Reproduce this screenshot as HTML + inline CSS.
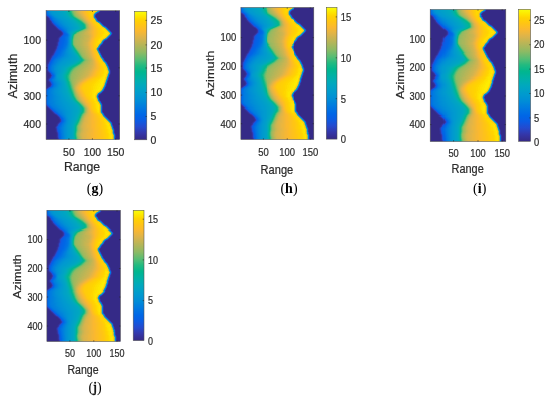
<!DOCTYPE html>
<html><head><meta charset="utf-8"><title>Figure</title>
<style>
html,body{margin:0;padding:0;background:#fff;width:550px;height:400px;overflow:hidden}
svg{display:block}
.t{font-family:"Liberation Sans",Arial,sans-serif;font-size:10.5px;fill:#262626;stroke:#3a3a3a;stroke-width:0.22px}
.l{font-family:"Liberation Sans",Arial,sans-serif;font-size:12.3px;fill:#262626;stroke:#3a3a3a;stroke-width:0.22px}
.c{font-family:"Liberation Serif","Times New Roman",serif;font-size:14.0px;fill:#000}
.b{font-weight:bold}
</style></head><body>
<svg width="550" height="400" viewBox="0 0 550 400">
<defs><filter id="bl" x="-5%" y="-5%" width="110%" height="110%" color-interpolation-filters="sRGB"><feGaussianBlur stdDeviation="0.45"/></filter><linearGradient id="pg" x1="0" y1="0" x2="0" y2="1"><stop offset="0.0039" stop-color="#f8fa0a"/><stop offset="0.0117" stop-color="#faf507"/><stop offset="0.0195" stop-color="#fbf105"/><stop offset="0.0273" stop-color="#fdec02"/><stop offset="0.0352" stop-color="#fee700"/><stop offset="0.0430" stop-color="#fee200"/><stop offset="0.0508" stop-color="#ffdd00"/><stop offset="0.0586" stop-color="#ffd700"/><stop offset="0.0664" stop-color="#ffd301"/><stop offset="0.0742" stop-color="#ffd005"/><stop offset="0.0820" stop-color="#ffcd08"/><stop offset="0.0898" stop-color="#ffcb0c"/><stop offset="0.0977" stop-color="#ffc810"/><stop offset="0.1055" stop-color="#ffc513"/><stop offset="0.1133" stop-color="#fec318"/><stop offset="0.1211" stop-color="#fdc11d"/><stop offset="0.1289" stop-color="#fcbf22"/><stop offset="0.1367" stop-color="#fcbd26"/><stop offset="0.1445" stop-color="#fbba2b"/><stop offset="0.1523" stop-color="#fab830"/><stop offset="0.1602" stop-color="#f6b734"/><stop offset="0.1680" stop-color="#f1b738"/><stop offset="0.1758" stop-color="#edb63c"/><stop offset="0.1836" stop-color="#e9b640"/><stop offset="0.1914" stop-color="#e4b544"/><stop offset="0.1992" stop-color="#e0b448"/><stop offset="0.2070" stop-color="#dbb44b"/><stop offset="0.2148" stop-color="#d6b44d"/><stop offset="0.2227" stop-color="#d0b44f"/><stop offset="0.2305" stop-color="#cbb451"/><stop offset="0.2383" stop-color="#c6b552"/><stop offset="0.2461" stop-color="#c1b554"/><stop offset="0.2539" stop-color="#bbb556"/><stop offset="0.2617" stop-color="#b6b558"/><stop offset="0.2695" stop-color="#b1b65a"/><stop offset="0.2773" stop-color="#abb65b"/><stop offset="0.2852" stop-color="#a6b75d"/><stop offset="0.2930" stop-color="#a0b85e"/><stop offset="0.3008" stop-color="#9bb860"/><stop offset="0.3086" stop-color="#95b961"/><stop offset="0.3164" stop-color="#90ba63"/><stop offset="0.3242" stop-color="#89ba65"/><stop offset="0.3320" stop-color="#81bb67"/><stop offset="0.3398" stop-color="#79bb6a"/><stop offset="0.3477" stop-color="#72bb6c"/><stop offset="0.3555" stop-color="#6abc6e"/><stop offset="0.3633" stop-color="#62bc71"/><stop offset="0.3711" stop-color="#5abd73"/><stop offset="0.3789" stop-color="#52bd75"/><stop offset="0.3867" stop-color="#49bd77"/><stop offset="0.3945" stop-color="#41bc79"/><stop offset="0.4023" stop-color="#38bb7b"/><stop offset="0.4102" stop-color="#2fbb7d"/><stop offset="0.4180" stop-color="#26ba7f"/><stop offset="0.4258" stop-color="#1fba81"/><stop offset="0.4336" stop-color="#1ab984"/><stop offset="0.4414" stop-color="#14b886"/><stop offset="0.4492" stop-color="#0fb888"/><stop offset="0.4570" stop-color="#09b78a"/><stop offset="0.4648" stop-color="#04b68c"/><stop offset="0.4727" stop-color="#00b68f"/><stop offset="0.4805" stop-color="#00b593"/><stop offset="0.4883" stop-color="#00b496"/><stop offset="0.4961" stop-color="#00b39a"/><stop offset="0.5039" stop-color="#00b39e"/><stop offset="0.5117" stop-color="#00b2a2"/><stop offset="0.5195" stop-color="#00b1a5"/><stop offset="0.5273" stop-color="#00b0a9"/><stop offset="0.5352" stop-color="#00afac"/><stop offset="0.5430" stop-color="#00aeaf"/><stop offset="0.5508" stop-color="#00adb2"/><stop offset="0.5586" stop-color="#00abb6"/><stop offset="0.5664" stop-color="#00aab9"/><stop offset="0.5742" stop-color="#00a9bc"/><stop offset="0.5820" stop-color="#00a7bf"/><stop offset="0.5898" stop-color="#00a6c1"/><stop offset="0.5977" stop-color="#00a4c3"/><stop offset="0.6055" stop-color="#00a2c5"/><stop offset="0.6133" stop-color="#00a1c7"/><stop offset="0.6211" stop-color="#009fc9"/><stop offset="0.6289" stop-color="#009dcb"/><stop offset="0.6367" stop-color="#009bcd"/><stop offset="0.6445" stop-color="#009acf"/><stop offset="0.6523" stop-color="#0098d0"/><stop offset="0.6602" stop-color="#0096d1"/><stop offset="0.6680" stop-color="#0094d2"/><stop offset="0.6758" stop-color="#0092d4"/><stop offset="0.6836" stop-color="#0090d5"/><stop offset="0.6914" stop-color="#008ed6"/><stop offset="0.6992" stop-color="#008cd7"/><stop offset="0.7070" stop-color="#0089d9"/><stop offset="0.7148" stop-color="#0086da"/><stop offset="0.7227" stop-color="#0083db"/><stop offset="0.7305" stop-color="#0080dd"/><stop offset="0.7383" stop-color="#007ede"/><stop offset="0.7461" stop-color="#007be0"/><stop offset="0.7539" stop-color="#0078e1"/><stop offset="0.7617" stop-color="#0075e1"/><stop offset="0.7695" stop-color="#0073e2"/><stop offset="0.7773" stop-color="#0070e3"/><stop offset="0.7852" stop-color="#006ee4"/><stop offset="0.7930" stop-color="#006be5"/><stop offset="0.8008" stop-color="#0068e5"/><stop offset="0.8086" stop-color="#0066e6"/><stop offset="0.8164" stop-color="#0264e6"/><stop offset="0.8242" stop-color="#0462e5"/><stop offset="0.8320" stop-color="#0660e5"/><stop offset="0.8398" stop-color="#085ee4"/><stop offset="0.8477" stop-color="#0a5ce4"/><stop offset="0.8555" stop-color="#0e59e1"/><stop offset="0.8633" stop-color="#1257de"/><stop offset="0.8711" stop-color="#1654da"/><stop offset="0.8789" stop-color="#1a51d7"/><stop offset="0.8867" stop-color="#1e4ed4"/><stop offset="0.8945" stop-color="#224cd1"/><stop offset="0.9023" stop-color="#2549cc"/><stop offset="0.9102" stop-color="#2846c6"/><stop offset="0.9180" stop-color="#2a42c0"/><stop offset="0.9258" stop-color="#2d3fba"/><stop offset="0.9336" stop-color="#303cb4"/><stop offset="0.9414" stop-color="#3239ae"/><stop offset="0.9492" stop-color="#3436a8"/><stop offset="0.9570" stop-color="#3434a3"/><stop offset="0.9648" stop-color="#34329d"/><stop offset="0.9727" stop-color="#353098"/><stop offset="0.9805" stop-color="#352e92"/><stop offset="0.9883" stop-color="#352c8d"/><stop offset="0.9961" stop-color="#352a87"/></linearGradient><g id="hm" shape-rendering="crispEdges"><path fill="#352a87" d="M55 -2h21v1.4h-21zM55 -1h21v1.4h-21zM55 0h21v1.4h-21zM54 1h22v1.4h-22zM53 2h23v1.4h-23zM51 3h25v1.4h-25zM50 4h26v1.4h-26zM-2 5h1.4v1.4h-1.4zM50 5h26v1.4h-26zM-2 6h3.4v1.4h-3.4zM51 6h25v1.4h-25zM-2 7h4.4v1.4h-4.4zM52 7h24v1.4h-24zM-2 8h4.4v1.4h-4.4zM52 8h24v1.4h-24zM-2 9h5.4v1.4h-5.4zM54 9h22v1.4h-22zM-2 10h6.4v1.4h-6.4zM55 10h21v1.4h-21zM-2 11h6.4v1.4h-6.4zM56 11h20v1.4h-20zM-2 12h7.4v1.4h-7.4zM57 12h19v1.4h-19zM-2 13h8.4v1.4h-8.4zM58 13h18v1.4h-18zM-2 14h9.4v1.4h-9.4zM60 14h16v1.4h-16zM-2 15h10.4v1.4h-10.4zM61 15h15v1.4h-15zM-2 16h11.4v1.4h-11.4zM62 16h14v1.4h-14zM-2 17h12.4v1.4h-12.4zM63 17h13v1.4h-13zM-2 18h13.4v1.4h-13.4zM64 18h12v1.4h-12zM-2 19h14.4v1.4h-14.4zM65 19h11v1.4h-11zM-2 20h16.4v1.4h-16.4zM66 20h10v1.4h-10zM-2 21h17.4v1.4h-17.4zM67 21h9v1.4h-9zM-2 22h17.4v1.4h-17.4zM67 22h9v1.4h-9zM-2 23h17.4v1.4h-17.4zM67 23h9v1.4h-9zM-2 24h17.4v1.4h-17.4zM66 24h10v1.4h-10zM-2 25h16.4v1.4h-16.4zM65 25h11v1.4h-11zM-2 26h15.4v1.4h-15.4zM64 26h12v1.4h-12zM-2 27h14.4v1.4h-14.4zM63 27h13v1.4h-13zM-2 28h13.4v1.4h-13.4zM62 28h14v1.4h-14zM-2 29h13.4v1.4h-13.4zM61 29h15v1.4h-15zM-2 30h13.4v1.4h-13.4zM59 30h17v1.4h-17zM-2 31h13.4v1.4h-13.4zM58 31h18v1.4h-18zM-2 32h12.4v1.4h-12.4zM58 32h18v1.4h-18zM-2 33h12.4v1.4h-12.4zM57 33h19v1.4h-19zM-2 34h12.4v1.4h-12.4zM56 34h20v1.4h-20zM-2 35h12.4v1.4h-12.4zM55 35h21v1.4h-21zM-2 36h11.4v1.4h-11.4zM55 36h21v1.4h-21zM-2 37h11.4v1.4h-11.4zM54 37h22v1.4h-22zM-2 38h11.4v1.4h-11.4zM53 38h23v1.4h-23zM-2 39h10.4v1.4h-10.4zM54 39h22v1.4h-22zM-2 40h10.4v1.4h-10.4zM54 40h22v1.4h-22zM-2 41h9.4v1.4h-9.4zM55 41h21v1.4h-21zM-2 42h9.4v1.4h-9.4zM55 42h21v1.4h-21zM-2 43h8.4v1.4h-8.4zM56 43h20v1.4h-20zM-2 44h8.4v1.4h-8.4zM56 44h20v1.4h-20zM-2 45h7.4v1.4h-7.4zM57 45h19v1.4h-19zM-2 46h6.4v1.4h-6.4zM57 46h19v1.4h-19zM-2 47h6.4v1.4h-6.4zM58 47h18v1.4h-18zM-2 48h5.4v1.4h-5.4zM59 48h17v1.4h-17zM-2 49h5.4v1.4h-5.4zM59 49h17v1.4h-17zM-2 50h4.4v1.4h-4.4zM60 50h16v1.4h-16zM-2 51h4.4v1.4h-4.4zM61 51h15v1.4h-15zM-2 52h3.4v1.4h-3.4zM62 52h14v1.4h-14zM-2 53h3.4v1.4h-3.4zM62 53h14v1.4h-14zM-2 54h2.4v1.4h-2.4zM63 54h13v1.4h-13zM-2 55h2.4v1.4h-2.4zM63 55h13v1.4h-13zM-2 56h2.4v1.4h-2.4zM64 56h12v1.4h-12zM-2 57h2.4v1.4h-2.4zM64 57h12v1.4h-12zM-2 58h2.4v1.4h-2.4zM64 58h12v1.4h-12zM-2 59h2.4v1.4h-2.4zM65 59h11v1.4h-11zM-2 60h3.4v1.4h-3.4zM65 60h11v1.4h-11zM-2 61h4.4v1.4h-4.4zM65 61h11v1.4h-11zM-2 62h5.4v1.4h-5.4zM65 62h11v1.4h-11zM-2 63h5.4v1.4h-5.4zM65 63h11v1.4h-11zM-2 64h6.4v1.4h-6.4zM64 64h12v1.4h-12zM-2 65h6.4v1.4h-6.4zM64 65h12v1.4h-12zM-2 66h5.4v1.4h-5.4zM64 66h12v1.4h-12zM-2 67h5.4v1.4h-5.4zM63 67h13v1.4h-13zM-2 68h4.4v1.4h-4.4zM63 68h13v1.4h-13zM-2 69h3.4v1.4h-3.4zM63 69h13v1.4h-13zM-2 70h3.4v1.4h-3.4zM62 70h14v1.4h-14zM-2 71h4.4v1.4h-4.4zM62 71h14v1.4h-14zM-2 72h5.4v1.4h-5.4zM62 72h14v1.4h-14zM-2 73h5.4v1.4h-5.4zM62 73h14v1.4h-14zM-2 74h6.4v1.4h-6.4zM61 74h15v1.4h-15zM-2 75h5.4v1.4h-5.4zM61 75h15v1.4h-15zM-2 76h4.4v1.4h-4.4zM61 76h15v1.4h-15zM-2 77h3.4v1.4h-3.4zM60 77h16v1.4h-16zM-2 78h1.4v1.4h-1.4zM60 78h16v1.4h-16zM59 79h17v1.4h-17zM59 80h17v1.4h-17zM58 81h18v1.4h-18zM57 82h19v1.4h-19zM56 83h20v1.4h-20zM55 84h21v1.4h-21zM54 85h22v1.4h-22zM53 86h23v1.4h-23zM54 87h22v1.4h-22zM54 88h22v1.4h-22zM54 89h22v1.4h-22zM55 90h21v1.4h-21zM56 91h20v1.4h-20zM56 92h20v1.4h-20zM57 93h19v1.4h-19zM57 94h19v1.4h-19zM-2 95h1.4v1.4h-1.4zM57 95h19v1.4h-19zM-2 96h2.4v1.4h-2.4zM57 96h19v1.4h-19zM-2 97h3.4v1.4h-3.4zM57 97h19v1.4h-19zM-2 98h4.4v1.4h-4.4zM57 98h19v1.4h-19zM-2 99h5.4v1.4h-5.4zM57 99h19v1.4h-19zM-2 100h6.4v1.4h-6.4zM57 100h19v1.4h-19zM-2 101h7.4v1.4h-7.4zM57 101h19v1.4h-19zM-2 102h8.4v1.4h-8.4zM58 102h18v1.4h-18zM-2 103h9.4v1.4h-9.4zM59 103h17v1.4h-17zM-2 104h10.4v1.4h-10.4zM59 104h17v1.4h-17zM-2 105h12.4v1.4h-12.4zM60 105h16v1.4h-16zM-2 106h13.4v1.4h-13.4zM61 106h15v1.4h-15zM-2 107h14.4v1.4h-14.4zM62 107h14v1.4h-14zM-2 108h14.4v1.4h-14.4zM63 108h13v1.4h-13zM-2 109h15.4v1.4h-15.4zM64 109h12v1.4h-12zM-2 110h15.4v1.4h-15.4zM65 110h11v1.4h-11zM-2 111h15.4v1.4h-15.4zM66 111h10v1.4h-10zM-2 112h14.4v1.4h-14.4zM67 112h9v1.4h-9zM-2 113h13.4v1.4h-13.4zM67 113h9v1.4h-9zM-2 114h12.4v1.4h-12.4zM67 114h9v1.4h-9zM-2 115h12.4v1.4h-12.4zM68 115h8v1.4h-8zM-2 116h11.4v1.4h-11.4zM68 116h8v1.4h-8zM-2 117h11.4v1.4h-11.4zM68 117h8v1.4h-8zM-2 118h11.4v1.4h-11.4zM69 118h7v1.4h-7zM-2 119h11.4v1.4h-11.4zM69 119h7v1.4h-7zM-2 120h11.4v1.4h-11.4zM69 120h7v1.4h-7zM-2 121h11.4v1.4h-11.4zM69 121h7v1.4h-7zM-2 122h12.4v1.4h-12.4zM69 122h7v1.4h-7zM-2 123h12.4v1.4h-12.4zM70 123h6v1.4h-6zM-2 124h12.4v1.4h-12.4zM70 124h6v1.4h-6zM-2 125h12.4v1.4h-12.4zM70 125h6v1.4h-6zM-2 126h12.4v1.4h-12.4zM70 126h6v1.4h-6zM-2 127h12.4v1.4h-12.4zM70 127h6v1.4h-6zM-2 128h13.4v1.4h-13.4zM70 128h6v1.4h-6zM-2 129h13.4v1.4h-13.4zM70 129h6v1.4h-6zM-2 130h13.4v1.4h-13.4zM70 130h6v1.4h-6zM-2 131h13.4v1h-13.4zM70 131h6v1h-6z"/><path fill="#352c8d" d="M54 0h1.4v1.4h-1.4zM52 2h1.4v1.4h-1.4zM-1 5h1.4v1.4h-1.4zM51 7h1.4v1.4h-1.4zM2 8h1.4v1.4h-1.4zM53 9h1.4v1.4h-1.4zM4 11h1.4v1.4h-1.4zM59 14h1.4v1.4h-1.4zM12 19h1.4v1.4h-1.4zM66 21h1.4v1.4h-1.4zM15 22h1.4v1.4h-1.4zM15 23h1.4v1.4h-1.4zM66 23h1.4v1.4h-1.4zM11 28h1.4v1.4h-1.4zM11 29h1.4v1.4h-1.4zM60 29h1.4v1.4h-1.4zM11 30h1.4v1.4h-1.4zM10 32h1.4v1.4h-1.4zM57 32h1.4v1.4h-1.4zM10 33h1.4v1.4h-1.4zM10 34h1.4v1.4h-1.4zM9 36h1.4v1.4h-1.4zM54 36h1.4v1.4h-1.4zM9 37h1.4v1.4h-1.4zM8 39h1.4v1.4h-1.4zM53 39h1.4v1.4h-1.4zM7 41h1.4v1.4h-1.4zM54 41h1.4v1.4h-1.4zM6 43h1.4v1.4h-1.4zM55 43h1.4v1.4h-1.4zM56 45h1.4v1.4h-1.4zM4 46h1.4v1.4h-1.4zM3 48h1.4v1.4h-1.4zM58 48h1.4v1.4h-1.4zM2 50h1.4v1.4h-1.4zM1 52h1.4v1.4h-1.4zM61 52h1.4v1.4h-1.4zM0 54h1.4v1.4h-1.4zM62 54h1.4v1.4h-1.4zM0 55h1.4v1.4h-1.4zM0 56h1.4v1.4h-1.4zM63 56h1.4v1.4h-1.4zM0 57h1.4v1.4h-1.4zM0 58h1.4v1.4h-1.4zM0 59h1.4v1.4h-1.4zM64 59h1.4v1.4h-1.4zM3 63h1.4v1.4h-1.4zM64 63h1.4v1.4h-1.4zM3 66h1.4v1.4h-1.4zM63 66h1.4v1.4h-1.4zM1 69h1.4v1.4h-1.4zM62 69h1.4v1.4h-1.4zM1 70h1.4v1.4h-1.4zM3 73h1.4v1.4h-1.4zM61 73h1.4v1.4h-1.4zM3 75h1.4v1.4h-1.4zM60 76h1.4v1.4h-1.4zM-1 78h1.4v1.4h-1.4zM59 78h1.4v1.4h-1.4zM58 80h1.4v1.4h-1.4zM54 84h1.4v1.4h-1.4zM53 85h1.4v1.4h-1.4zM53 87h1.4v1.4h-1.4zM55 91h1.4v1.4h-1.4zM56 93h1.4v1.4h-1.4zM58 103h1.4v1.4h-1.4zM8 104h1.4v1.4h-1.4zM12 108h1.4v1.4h-1.4zM13 110h1.4v1.4h-1.4zM66 112h1.4v1.4h-1.4zM10 114h1.4v1.4h-1.4zM67 115h1.4v1.4h-1.4zM9 116h1.4v1.4h-1.4zM68 118h1.4v1.4h-1.4zM9 119h1.4v1.4h-1.4zM9 120h1.4v1.4h-1.4zM9 121h1.4v1.4h-1.4zM10 123h1.4v1.4h-1.4zM69 123h1.4v1.4h-1.4zM10 124h1.4v1.4h-1.4zM10 125h1.4v1.4h-1.4zM10 126h1.4v1.4h-1.4zM10 127h1.4v1.4h-1.4zM11 129h1.4v1.4h-1.4zM11 130h1.4v1.4h-1.4zM11 131h1.4v1h-1.4z"/><path fill="#352e92" d="M53 1h1.4v1.4h-1.4zM50 3h1.4v1.4h-1.4zM-2 4h1.4v1.4h-1.4zM1 6h1.4v1.4h-1.4zM50 6h1.4v1.4h-1.4zM2 7h1.4v1.4h-1.4zM3 9h1.4v1.4h-1.4zM4 10h1.4v1.4h-1.4zM54 10h1.4v1.4h-1.4zM55 11h1.4v1.4h-1.4zM5 12h1.4v1.4h-1.4zM56 12h1.4v1.4h-1.4zM6 13h1.4v1.4h-1.4zM57 13h1.4v1.4h-1.4zM7 14h1.4v1.4h-1.4zM8 15h1.4v1.4h-1.4zM60 15h1.4v1.4h-1.4zM9 16h1.4v1.4h-1.4zM61 16h1.4v1.4h-1.4zM10 17h1.4v1.4h-1.4zM62 17h1.4v1.4h-1.4zM11 18h1.4v1.4h-1.4zM63 18h1.4v1.4h-1.4zM64 19h1.4v1.4h-1.4zM14 20h1.4v1.4h-1.4zM65 20h1.4v1.4h-1.4zM15 21h1.4v1.4h-1.4zM15 24h1.4v1.4h-1.4zM65 24h1.4v1.4h-1.4zM14 25h1.4v1.4h-1.4zM64 25h1.4v1.4h-1.4zM13 26h1.4v1.4h-1.4zM63 26h1.4v1.4h-1.4zM12 27h1.4v1.4h-1.4zM62 27h1.4v1.4h-1.4zM61 28h1.4v1.4h-1.4zM58 30h1.4v1.4h-1.4zM11 31h1.4v1.4h-1.4zM56 33h1.4v1.4h-1.4zM55 34h1.4v1.4h-1.4zM10 35h1.4v1.4h-1.4zM53 37h1.4v1.4h-1.4zM9 38h1.4v1.4h-1.4zM8 40h1.4v1.4h-1.4zM7 42h1.4v1.4h-1.4zM6 44h1.4v1.4h-1.4zM5 45h1.4v1.4h-1.4zM4 47h1.4v1.4h-1.4zM57 47h1.4v1.4h-1.4zM3 49h1.4v1.4h-1.4zM59 50h1.4v1.4h-1.4zM2 51h1.4v1.4h-1.4zM60 51h1.4v1.4h-1.4zM1 53h1.4v1.4h-1.4zM1 60h1.4v1.4h-1.4zM2 61h1.4v1.4h-1.4zM3 62h1.4v1.4h-1.4zM4 64h1.4v1.4h-1.4zM4 65h1.4v1.4h-1.4zM3 67h1.4v1.4h-1.4zM2 68h1.4v1.4h-1.4zM2 71h1.4v1.4h-1.4zM3 72h1.4v1.4h-1.4zM2 76h1.4v1.4h-1.4zM1 77h1.4v1.4h-1.4zM-2 79h1.4v1.4h-1.4zM57 81h1.4v1.4h-1.4zM56 82h1.4v1.4h-1.4zM55 83h1.4v1.4h-1.4zM54 90h1.4v1.4h-1.4zM-2 94h1.4v1.4h-1.4zM-1 95h1.4v1.4h-1.4zM0 96h1.4v1.4h-1.4zM1 97h1.4v1.4h-1.4zM2 98h1.4v1.4h-1.4zM3 99h1.4v1.4h-1.4zM4 100h1.4v1.4h-1.4zM5 101h1.4v1.4h-1.4zM6 102h1.4v1.4h-1.4zM57 102h1.4v1.4h-1.4zM7 103h1.4v1.4h-1.4zM10 105h1.4v1.4h-1.4zM59 105h1.4v1.4h-1.4zM11 106h1.4v1.4h-1.4zM60 106h1.4v1.4h-1.4zM12 107h1.4v1.4h-1.4zM61 107h1.4v1.4h-1.4zM62 108h1.4v1.4h-1.4zM13 109h1.4v1.4h-1.4zM63 109h1.4v1.4h-1.4zM64 110h1.4v1.4h-1.4zM13 111h1.4v1.4h-1.4zM65 111h1.4v1.4h-1.4zM12 112h1.4v1.4h-1.4zM11 113h1.4v1.4h-1.4zM10 115h1.4v1.4h-1.4zM9 118h1.4v1.4h-1.4zM10 122h1.4v1.4h-1.4zM11 128h1.4v1.4h-1.4z"/><path fill="#353098" d="M51 2h1.4v1.4h-1.4zM52 9h1.4v1.4h-1.4zM58 14h1.4v1.4h-1.4zM66 22h1.4v1.4h-1.4zM59 29h1.4v1.4h-1.4zM4 74h1.4v1.4h-1.4zM9 117h1.4v1.4h-1.4z"/><path fill="#34329d" d="M54 -1h1.4v1.4h-1.4zM-2 3h1.4v1.4h-1.4zM0 5h1.4v1.4h-1.4zM51 8h1.4v1.4h-1.4zM5 11h1.4v1.4h-1.4zM13 19h1.4v1.4h-1.4zM12 28h1.4v1.4h-1.4zM57 31h1.4v1.4h-1.4zM11 32h1.4v1.4h-1.4zM54 35h1.4v1.4h-1.4zM10 36h1.4v1.4h-1.4zM9 39h1.4v1.4h-1.4zM53 40h1.4v1.4h-1.4zM8 41h1.4v1.4h-1.4zM54 42h1.4v1.4h-1.4zM7 43h1.4v1.4h-1.4zM55 44h1.4v1.4h-1.4zM5 46h1.4v1.4h-1.4zM56 46h1.4v1.4h-1.4zM4 48h1.4v1.4h-1.4zM58 49h1.4v1.4h-1.4zM3 50h1.4v1.4h-1.4zM2 52h1.4v1.4h-1.4zM61 53h1.4v1.4h-1.4zM1 54h1.4v1.4h-1.4zM62 55h1.4v1.4h-1.4zM63 57h1.4v1.4h-1.4zM1 59h1.4v1.4h-1.4zM64 60h1.4v1.4h-1.4zM64 62h1.4v1.4h-1.4zM4 63h1.4v1.4h-1.4zM63 65h1.4v1.4h-1.4zM4 66h1.4v1.4h-1.4zM62 68h1.4v1.4h-1.4zM2 69h1.4v1.4h-1.4zM2 70h1.4v1.4h-1.4zM61 72h1.4v1.4h-1.4zM4 73h1.4v1.4h-1.4zM60 75h1.4v1.4h-1.4zM3 76h1.4v1.4h-1.4zM59 77h1.4v1.4h-1.4zM0 78h1.4v1.4h-1.4zM58 79h1.4v1.4h-1.4zM-2 80h1.4v1.4h-1.4zM53 88h1.4v1.4h-1.4zM55 92h1.4v1.4h-1.4zM-2 93h1.4v1.4h-1.4zM56 94h1.4v1.4h-1.4zM9 104h1.4v1.4h-1.4zM58 104h1.4v1.4h-1.4zM13 108h1.4v1.4h-1.4zM66 113h1.4v1.4h-1.4zM11 114h1.4v1.4h-1.4zM67 116h1.4v1.4h-1.4zM68 119h1.4v1.4h-1.4zM10 121h1.4v1.4h-1.4zM69 124h1.4v1.4h-1.4zM11 127h1.4v1.4h-1.4z"/><path fill="#3434a3" d="M-2 -2h1.4v1.4h-1.4zM54 -2h1.4v1.4h-1.4zM-2 -1h1.4v1.4h-1.4zM-2 0h1.4v1.4h-1.4zM-2 1h1.4v1.4h-1.4zM-2 2h1.4v1.4h-1.4zM49 5h1.4v1.4h-1.4zM3 8h1.4v1.4h-1.4zM16 22h1.4v1.4h-1.4zM16 23h1.4v1.4h-1.4zM12 29h1.4v1.4h-1.4zM12 30h1.4v1.4h-1.4zM11 33h1.4v1.4h-1.4zM11 34h1.4v1.4h-1.4zM10 37h1.4v1.4h-1.4zM1 55h1.4v1.4h-1.4zM63 58h1.4v1.4h-1.4zM64 61h1.4v1.4h-1.4zM63 64h1.4v1.4h-1.4zM62 67h1.4v1.4h-1.4zM61 71h1.4v1.4h-1.4zM60 74h1.4v1.4h-1.4zM4 75h1.4v1.4h-1.4zM-2 81h1.4v1.4h-1.4zM-2 82h1.4v1.4h-1.4zM-2 83h1.4v1.4h-1.4zM-2 84h1.4v1.4h-1.4zM53 84h1.4v1.4h-1.4zM-2 85h1.4v1.4h-1.4zM-2 86h1.4v1.4h-1.4zM-2 87h1.4v1.4h-1.4zM-2 88h1.4v1.4h-1.4zM-2 89h1.4v1.4h-1.4zM53 89h1.4v1.4h-1.4zM-2 90h1.4v1.4h-1.4zM-2 91h1.4v1.4h-1.4zM-2 92h1.4v1.4h-1.4zM56 95h1.4v1.4h-1.4zM56 96h1.4v1.4h-1.4zM56 97h1.4v1.4h-1.4zM56 98h1.4v1.4h-1.4zM56 99h1.4v1.4h-1.4zM56 100h1.4v1.4h-1.4zM66 114h1.4v1.4h-1.4zM67 117h1.4v1.4h-1.4zM10 120h1.4v1.4h-1.4zM68 120h1.4v1.4h-1.4zM68 121h1.4v1.4h-1.4zM11 124h1.4v1.4h-1.4zM11 125h1.4v1.4h-1.4zM69 125h1.4v1.4h-1.4zM11 126h1.4v1.4h-1.4zM69 126h1.4v1.4h-1.4zM69 127h1.4v1.4h-1.4zM69 128h1.4v1.4h-1.4zM69 129h1.4v1.4h-1.4zM69 130h1.4v1.4h-1.4zM69 131h1.4v1h-1.4z"/><path fill="#3436a8" d="M-1 4h1.4v1.4h-1.4zM49 4h1.4v1.4h-1.4zM6 12h1.4v1.4h-1.4zM9 15h1.4v1.4h-1.4zM10 16h1.4v1.4h-1.4zM11 17h1.4v1.4h-1.4zM12 18h1.4v1.4h-1.4zM15 25h1.4v1.4h-1.4zM14 26h1.4v1.4h-1.4zM13 27h1.4v1.4h-1.4zM52 38h1.4v1.4h-1.4zM6 45h1.4v1.4h-1.4zM1 56h1.4v1.4h-1.4zM1 57h1.4v1.4h-1.4zM1 58h1.4v1.4h-1.4zM3 68h1.4v1.4h-1.4zM61 70h1.4v1.4h-1.4zM3 71h1.4v1.4h-1.4zM-1 79h1.4v1.4h-1.4zM52 86h1.4v1.4h-1.4zM5 100h1.4v1.4h-1.4zM6 101h1.4v1.4h-1.4zM56 101h1.4v1.4h-1.4zM7 102h1.4v1.4h-1.4zM8 103h1.4v1.4h-1.4zM14 110h1.4v1.4h-1.4zM13 112h1.4v1.4h-1.4zM12 113h1.4v1.4h-1.4zM10 116h1.4v1.4h-1.4zM10 119h1.4v1.4h-1.4zM68 122h1.4v1.4h-1.4zM11 123h1.4v1.4h-1.4zM12 129h1.4v1.4h-1.4zM12 130h1.4v1.4h-1.4zM12 131h1.4v1h-1.4z"/><path fill="#3239ae" d="M2 6h1.4v1.4h-1.4zM4 9h1.4v1.4h-1.4zM7 13h1.4v1.4h-1.4zM8 14h1.4v1.4h-1.4zM15 20h1.4v1.4h-1.4zM16 24h1.4v1.4h-1.4zM12 31h1.4v1.4h-1.4zM11 35h1.4v1.4h-1.4zM10 38h1.4v1.4h-1.4zM9 40h1.4v1.4h-1.4zM8 42h1.4v1.4h-1.4zM7 44h1.4v1.4h-1.4zM5 47h1.4v1.4h-1.4zM4 49h1.4v1.4h-1.4zM3 51h1.4v1.4h-1.4zM2 53h1.4v1.4h-1.4zM2 60h1.4v1.4h-1.4zM3 61h1.4v1.4h-1.4zM4 67h1.4v1.4h-1.4zM2 77h1.4v1.4h-1.4zM-1 94h1.4v1.4h-1.4zM0 95h1.4v1.4h-1.4zM1 96h1.4v1.4h-1.4zM2 97h1.4v1.4h-1.4zM3 98h1.4v1.4h-1.4zM4 99h1.4v1.4h-1.4zM11 105h1.4v1.4h-1.4zM12 106h1.4v1.4h-1.4zM14 109h1.4v1.4h-1.4zM14 111h1.4v1.4h-1.4zM11 115h1.4v1.4h-1.4zM10 118h1.4v1.4h-1.4z"/><path fill="#303cb4" d="M1 5h1.4v1.4h-1.4zM3 7h1.4v1.4h-1.4zM5 10h1.4v1.4h-1.4zM14 19h1.4v1.4h-1.4zM16 21h1.4v1.4h-1.4zM4 62h1.4v1.4h-1.4zM5 64h1.4v1.4h-1.4zM5 65h1.4v1.4h-1.4zM4 72h1.4v1.4h-1.4zM10 104h1.4v1.4h-1.4zM13 107h1.4v1.4h-1.4zM11 122h1.4v1.4h-1.4zM12 128h1.4v1.4h-1.4z"/><path fill="#2d3fba" d="M52 1h1.4v1.4h-1.4zM53 10h1.4v1.4h-1.4zM59 15h1.4v1.4h-1.4zM60 28h1.4v1.4h-1.4zM1 78h1.4v1.4h-1.4zM54 83h1.4v1.4h-1.4zM10 117h1.4v1.4h-1.4z"/><path fill="#2a42c0" d="M65 23h1.4v1.4h-1.4zM5 74h1.4v1.4h-1.4zM4 76h1.4v1.4h-1.4z"/><path fill="#2846c6" d="M53 0h1.4v1.4h-1.4zM50 7h1.4v1.4h-1.4zM65 21h1.4v1.4h-1.4zM13 28h1.4v1.4h-1.4zM12 32h1.4v1.4h-1.4zM56 32h1.4v1.4h-1.4zM11 36h1.4v1.4h-1.4zM53 36h1.4v1.4h-1.4zM10 39h1.4v1.4h-1.4zM9 41h1.4v1.4h-1.4zM8 43h1.4v1.4h-1.4zM6 46h1.4v1.4h-1.4zM57 48h1.4v1.4h-1.4zM60 52h1.4v1.4h-1.4zM57 80h1.4v1.4h-1.4zM54 91h1.4v1.4h-1.4zM57 103h1.4v1.4h-1.4zM65 112h1.4v1.4h-1.4z"/><path fill="#2549cc" d="M50 2h1.4v1.4h-1.4zM-1 3h1.4v1.4h-1.4zM54 11h1.4v1.4h-1.4zM55 12h1.4v1.4h-1.4zM56 13h1.4v1.4h-1.4zM57 14h1.4v1.4h-1.4zM60 16h1.4v1.4h-1.4zM61 17h1.4v1.4h-1.4zM13 18h1.4v1.4h-1.4zM62 18h1.4v1.4h-1.4zM63 19h1.4v1.4h-1.4zM64 20h1.4v1.4h-1.4zM64 24h1.4v1.4h-1.4zM63 25h1.4v1.4h-1.4zM62 26h1.4v1.4h-1.4zM61 27h1.4v1.4h-1.4zM58 29h1.4v1.4h-1.4zM55 33h1.4v1.4h-1.4zM52 39h1.4v1.4h-1.4zM53 41h1.4v1.4h-1.4zM54 43h1.4v1.4h-1.4zM7 45h1.4v1.4h-1.4zM55 45h1.4v1.4h-1.4zM5 48h1.4v1.4h-1.4zM4 50h1.4v1.4h-1.4zM59 51h1.4v1.4h-1.4zM3 52h1.4v1.4h-1.4zM2 54h1.4v1.4h-1.4zM61 54h1.4v1.4h-1.4zM62 56h1.4v1.4h-1.4zM63 59h1.4v1.4h-1.4zM63 63h1.4v1.4h-1.4zM5 66h1.4v1.4h-1.4zM62 66h1.4v1.4h-1.4zM3 69h1.4v1.4h-1.4zM61 69h1.4v1.4h-1.4zM3 70h1.4v1.4h-1.4zM60 73h1.4v1.4h-1.4zM59 76h1.4v1.4h-1.4zM58 78h1.4v1.4h-1.4zM-1 80h1.4v1.4h-1.4zM56 81h1.4v1.4h-1.4zM55 82h1.4v1.4h-1.4zM52 85h1.4v1.4h-1.4zM52 87h1.4v1.4h-1.4zM-1 93h1.4v1.4h-1.4zM55 93h1.4v1.4h-1.4zM9 103h1.4v1.4h-1.4zM59 106h1.4v1.4h-1.4zM60 107h1.4v1.4h-1.4zM14 108h1.4v1.4h-1.4zM61 108h1.4v1.4h-1.4zM62 109h1.4v1.4h-1.4zM63 110h1.4v1.4h-1.4zM64 111h1.4v1.4h-1.4zM12 114h1.4v1.4h-1.4zM66 115h1.4v1.4h-1.4zM67 118h1.4v1.4h-1.4zM11 121h1.4v1.4h-1.4zM68 123h1.4v1.4h-1.4zM12 127h1.4v1.4h-1.4z"/><path fill="#224cd1" d="M49 3h1.4v1.4h-1.4zM0 4h1.4v1.4h-1.4zM49 6h1.4v1.4h-1.4zM4 8h1.4v1.4h-1.4zM51 9h1.4v1.4h-1.4zM6 11h1.4v1.4h-1.4zM12 17h1.4v1.4h-1.4zM17 23h1.4v1.4h-1.4zM16 25h1.4v1.4h-1.4zM15 26h1.4v1.4h-1.4zM14 27h1.4v1.4h-1.4zM13 29h1.4v1.4h-1.4zM13 30h1.4v1.4h-1.4zM57 30h1.4v1.4h-1.4zM12 33h1.4v1.4h-1.4zM12 34h1.4v1.4h-1.4zM54 34h1.4v1.4h-1.4zM11 37h1.4v1.4h-1.4zM52 37h1.4v1.4h-1.4zM56 47h1.4v1.4h-1.4zM58 50h1.4v1.4h-1.4zM2 59h1.4v1.4h-1.4zM5 63h1.4v1.4h-1.4zM5 73h1.4v1.4h-1.4zM5 75h1.4v1.4h-1.4zM0 79h1.4v1.4h-1.4zM53 90h1.4v1.4h-1.4zM8 102h1.4v1.4h-1.4zM56 102h1.4v1.4h-1.4zM58 105h1.4v1.4h-1.4zM13 113h1.4v1.4h-1.4zM11 116h1.4v1.4h-1.4z"/><path fill="#1e4ed4" d="M7 12h1.4v1.4h-1.4zM8 13h1.4v1.4h-1.4zM9 14h1.4v1.4h-1.4zM10 15h1.4v1.4h-1.4zM11 16h1.4v1.4h-1.4zM17 22h1.4v1.4h-1.4zM13 31h1.4v1.4h-1.4zM12 35h1.4v1.4h-1.4zM2 55h1.4v1.4h-1.4zM4 68h1.4v1.4h-1.4zM4 71h1.4v1.4h-1.4zM3 77h1.4v1.4h-1.4zM-1 81h1.4v1.4h-1.4zM-1 82h1.4v1.4h-1.4zM-1 83h1.4v1.4h-1.4zM-1 84h1.4v1.4h-1.4zM-1 85h1.4v1.4h-1.4zM-1 86h1.4v1.4h-1.4zM-1 87h1.4v1.4h-1.4zM-1 88h1.4v1.4h-1.4zM-1 89h1.4v1.4h-1.4zM-1 92h1.4v1.4h-1.4zM5 99h1.4v1.4h-1.4zM6 100h1.4v1.4h-1.4zM7 101h1.4v1.4h-1.4zM14 112h1.4v1.4h-1.4zM11 120h1.4v1.4h-1.4zM12 124h1.4v1.4h-1.4zM12 125h1.4v1.4h-1.4zM12 126h1.4v1.4h-1.4z"/><path fill="#1a51d7" d="M-1 -2h1.4v1.4h-1.4zM-1 -1h1.4v1.4h-1.4zM-1 0h1.4v1.4h-1.4zM-1 1h1.4v1.4h-1.4zM-1 2h1.4v1.4h-1.4zM2 5h1.4v1.4h-1.4zM3 6h1.4v1.4h-1.4zM5 9h1.4v1.4h-1.4zM15 19h1.4v1.4h-1.4zM16 20h1.4v1.4h-1.4zM17 24h1.4v1.4h-1.4zM11 38h1.4v1.4h-1.4zM10 40h1.4v1.4h-1.4zM9 42h1.4v1.4h-1.4zM8 44h1.4v1.4h-1.4zM6 47h1.4v1.4h-1.4zM5 49h1.4v1.4h-1.4zM3 53h1.4v1.4h-1.4zM2 56h1.4v1.4h-1.4zM2 58h1.4v1.4h-1.4zM3 60h1.4v1.4h-1.4zM-1 90h1.4v1.4h-1.4zM-1 91h1.4v1.4h-1.4zM0 94h1.4v1.4h-1.4zM1 95h1.4v1.4h-1.4zM2 96h1.4v1.4h-1.4zM3 97h1.4v1.4h-1.4zM4 98h1.4v1.4h-1.4zM11 104h1.4v1.4h-1.4zM12 105h1.4v1.4h-1.4zM13 106h1.4v1.4h-1.4zM15 110h1.4v1.4h-1.4zM11 119h1.4v1.4h-1.4zM12 123h1.4v1.4h-1.4z"/><path fill="#1654da" d="M4 51h1.4v1.4h-1.4zM2 57h1.4v1.4h-1.4zM4 61h1.4v1.4h-1.4zM5 67h1.4v1.4h-1.4zM15 109h1.4v1.4h-1.4zM15 111h1.4v1.4h-1.4zM12 115h1.4v1.4h-1.4zM11 118h1.4v1.4h-1.4zM13 129h1.4v1.4h-1.4zM13 130h1.4v1.4h-1.4zM13 131h1.4v1h-1.4z"/><path fill="#1257de" d="M14 18h1.4v1.4h-1.4zM17 21h1.4v1.4h-1.4zM14 28h1.4v1.4h-1.4zM13 32h1.4v1.4h-1.4zM12 36h1.4v1.4h-1.4zM11 39h1.4v1.4h-1.4zM7 46h1.4v1.4h-1.4zM6 64h1.4v1.4h-1.4zM6 65h1.4v1.4h-1.4zM5 72h1.4v1.4h-1.4zM2 78h1.4v1.4h-1.4zM14 107h1.4v1.4h-1.4zM11 117h1.4v1.4h-1.4zM12 122h1.4v1.4h-1.4zM13 128h1.4v1.4h-1.4z"/><path fill="#0e59e1" d="M4 7h1.4v1.4h-1.4zM6 10h1.4v1.4h-1.4zM15 27h1.4v1.4h-1.4zM14 29h1.4v1.4h-1.4zM13 33h1.4v1.4h-1.4zM12 37h1.4v1.4h-1.4zM10 41h1.4v1.4h-1.4zM9 43h1.4v1.4h-1.4zM8 45h1.4v1.4h-1.4zM6 48h1.4v1.4h-1.4zM5 62h1.4v1.4h-1.4zM5 76h1.4v1.4h-1.4zM10 103h1.4v1.4h-1.4z"/><path fill="#0a5ce4" d="M1 4h1.4v1.4h-1.4zM13 17h1.4v1.4h-1.4zM18 23h1.4v1.4h-1.4zM17 25h1.4v1.4h-1.4zM16 26h1.4v1.4h-1.4zM14 30h1.4v1.4h-1.4zM14 31h1.4v1.4h-1.4zM13 34h1.4v1.4h-1.4zM13 35h1.4v1.4h-1.4zM12 38h1.4v1.4h-1.4zM11 40h1.4v1.4h-1.4zM5 50h1.4v1.4h-1.4zM4 52h1.4v1.4h-1.4zM3 54h1.4v1.4h-1.4zM6 74h1.4v1.4h-1.4zM1 79h1.4v1.4h-1.4zM13 114h1.4v1.4h-1.4zM12 121h1.4v1.4h-1.4z"/><path fill="#085ee4" d="M0 3h1.4v1.4h-1.4zM7 11h1.4v1.4h-1.4zM11 15h1.4v1.4h-1.4zM12 16h1.4v1.4h-1.4zM18 22h1.4v1.4h-1.4zM18 24h1.4v1.4h-1.4zM15 28h1.4v1.4h-1.4zM15 29h1.4v1.4h-1.4zM14 32h1.4v1.4h-1.4zM14 33h1.4v1.4h-1.4zM13 36h1.4v1.4h-1.4zM10 42h1.4v1.4h-1.4zM9 44h1.4v1.4h-1.4zM7 47h1.4v1.4h-1.4zM6 66h1.4v1.4h-1.4zM4 69h1.4v1.4h-1.4zM4 70h1.4v1.4h-1.4zM0 80h1.4v1.4h-1.4zM8 101h1.4v1.4h-1.4zM9 102h1.4v1.4h-1.4zM15 108h1.4v1.4h-1.4zM14 113h1.4v1.4h-1.4zM12 116h1.4v1.4h-1.4zM13 127h1.4v1.4h-1.4z"/><path fill="#0660e5" d="M5 8h1.4v1.4h-1.4zM8 12h1.4v1.4h-1.4zM9 13h1.4v1.4h-1.4zM10 14h1.4v1.4h-1.4zM65 22h1.4v1.4h-1.4zM16 27h1.4v1.4h-1.4zM15 30h1.4v1.4h-1.4zM15 31h1.4v1.4h-1.4zM15 32h1.4v1.4h-1.4zM14 34h1.4v1.4h-1.4zM14 35h1.4v1.4h-1.4zM13 37h1.4v1.4h-1.4zM13 38h1.4v1.4h-1.4zM12 39h1.4v1.4h-1.4zM11 41h1.4v1.4h-1.4zM10 43h1.4v1.4h-1.4zM9 45h1.4v1.4h-1.4zM8 46h1.4v1.4h-1.4zM6 49h1.4v1.4h-1.4zM3 55h1.4v1.4h-1.4zM3 59h1.4v1.4h-1.4zM6 63h1.4v1.4h-1.4zM5 68h1.4v1.4h-1.4zM4 77h1.4v1.4h-1.4zM0 93h1.4v1.4h-1.4zM6 99h1.4v1.4h-1.4zM7 100h1.4v1.4h-1.4zM15 112h1.4v1.4h-1.4zM12 120h1.4v1.4h-1.4zM13 125h1.4v1.4h-1.4zM13 126h1.4v1.4h-1.4z"/><path fill="#0462e5" d="M3 5h1.4v1.4h-1.4zM15 18h1.4v1.4h-1.4zM16 19h1.4v1.4h-1.4zM17 20h1.4v1.4h-1.4zM19 23h1.4v1.4h-1.4zM18 25h1.4v1.4h-1.4zM17 26h1.4v1.4h-1.4zM16 28h1.4v1.4h-1.4zM16 29h1.4v1.4h-1.4zM16 30h1.4v1.4h-1.4zM15 33h1.4v1.4h-1.4zM15 34h1.4v1.4h-1.4zM14 36h1.4v1.4h-1.4zM14 37h1.4v1.4h-1.4zM13 39h1.4v1.4h-1.4zM12 40h1.4v1.4h-1.4zM11 42h1.4v1.4h-1.4zM10 44h1.4v1.4h-1.4zM7 48h1.4v1.4h-1.4zM5 51h1.4v1.4h-1.4zM4 53h1.4v1.4h-1.4zM5 71h1.4v1.4h-1.4zM6 73h1.4v1.4h-1.4zM6 75h1.4v1.4h-1.4zM0 81h1.4v1.4h-1.4zM0 82h1.4v1.4h-1.4zM0 83h1.4v1.4h-1.4zM0 84h1.4v1.4h-1.4zM0 85h1.4v1.4h-1.4zM0 86h1.4v1.4h-1.4zM0 87h1.4v1.4h-1.4zM0 88h1.4v1.4h-1.4zM0 89h1.4v1.4h-1.4zM0 90h1.4v1.4h-1.4zM0 91h1.4v1.4h-1.4zM0 92h1.4v1.4h-1.4zM4 97h1.4v1.4h-1.4zM5 98h1.4v1.4h-1.4zM13 105h1.4v1.4h-1.4zM16 110h1.4v1.4h-1.4zM13 115h1.4v1.4h-1.4zM12 117h1.4v1.4h-1.4zM12 118h1.4v1.4h-1.4zM12 119h1.4v1.4h-1.4zM13 123h1.4v1.4h-1.4zM13 124h1.4v1.4h-1.4z"/><path fill="#0264e6" d="M0 1h1.4v1.4h-1.4zM0 2h1.4v1.4h-1.4zM4 6h1.4v1.4h-1.4zM6 9h1.4v1.4h-1.4zM18 21h1.4v1.4h-1.4zM19 24h1.4v1.4h-1.4zM17 27h1.4v1.4h-1.4zM16 31h1.4v1.4h-1.4zM16 32h1.4v1.4h-1.4zM16 33h1.4v1.4h-1.4zM15 35h1.4v1.4h-1.4zM15 36h1.4v1.4h-1.4zM14 38h1.4v1.4h-1.4zM13 40h1.4v1.4h-1.4zM12 41h1.4v1.4h-1.4zM11 43h1.4v1.4h-1.4zM10 45h1.4v1.4h-1.4zM9 46h1.4v1.4h-1.4zM8 47h1.4v1.4h-1.4zM3 56h1.4v1.4h-1.4zM3 57h1.4v1.4h-1.4zM3 58h1.4v1.4h-1.4zM4 60h1.4v1.4h-1.4zM7 65h1.4v1.4h-1.4zM6 67h1.4v1.4h-1.4zM1 94h1.4v1.4h-1.4zM2 95h1.4v1.4h-1.4zM3 96h1.4v1.4h-1.4zM11 103h1.4v1.4h-1.4zM12 104h1.4v1.4h-1.4zM14 106h1.4v1.4h-1.4zM16 109h1.4v1.4h-1.4zM16 111h1.4v1.4h-1.4zM13 122h1.4v1.4h-1.4z"/><path fill="#0066e6" d="M0 -2h1.4v1.4h-1.4zM0 -1h1.4v1.4h-1.4zM0 0h1.4v1.4h-1.4zM51 1h1.4v1.4h-1.4zM52 10h1.4v1.4h-1.4zM58 15h1.4v1.4h-1.4zM13 16h1.4v1.4h-1.4zM14 17h1.4v1.4h-1.4zM19 22h1.4v1.4h-1.4zM19 25h1.4v1.4h-1.4zM18 26h1.4v1.4h-1.4zM17 28h1.4v1.4h-1.4zM59 28h1.4v1.4h-1.4zM17 29h1.4v1.4h-1.4zM17 30h1.4v1.4h-1.4zM17 31h1.4v1.4h-1.4zM17 32h1.4v1.4h-1.4zM16 34h1.4v1.4h-1.4zM16 35h1.4v1.4h-1.4zM15 37h1.4v1.4h-1.4zM14 39h1.4v1.4h-1.4zM12 42h1.4v1.4h-1.4zM11 44h1.4v1.4h-1.4zM6 50h1.4v1.4h-1.4zM5 52h1.4v1.4h-1.4zM4 54h1.4v1.4h-1.4zM5 61h1.4v1.4h-1.4zM7 64h1.4v1.4h-1.4zM3 78h1.4v1.4h-1.4zM15 107h1.4v1.4h-1.4zM14 114h1.4v1.4h-1.4zM13 116h1.4v1.4h-1.4zM13 121h1.4v1.4h-1.4zM14 128h1.4v1.4h-1.4zM14 129h1.4v1.4h-1.4zM14 130h1.4v1.4h-1.4zM14 131h1.4v1h-1.4z"/><path fill="#0068e5" d="M2 4h1.4v1.4h-1.4zM5 7h1.4v1.4h-1.4zM7 10h1.4v1.4h-1.4zM11 14h1.4v1.4h-1.4zM12 15h1.4v1.4h-1.4zM20 23h1.4v1.4h-1.4zM20 24h1.4v1.4h-1.4zM18 27h1.4v1.4h-1.4zM18 28h1.4v1.4h-1.4zM18 29h1.4v1.4h-1.4zM18 30h1.4v1.4h-1.4zM17 33h1.4v1.4h-1.4zM17 34h1.4v1.4h-1.4zM16 36h1.4v1.4h-1.4zM16 37h1.4v1.4h-1.4zM15 38h1.4v1.4h-1.4zM14 40h1.4v1.4h-1.4zM13 41h1.4v1.4h-1.4zM13 42h1.4v1.4h-1.4zM12 43h1.4v1.4h-1.4zM11 45h1.4v1.4h-1.4zM10 46h1.4v1.4h-1.4zM9 47h1.4v1.4h-1.4zM8 48h1.4v1.4h-1.4zM7 49h1.4v1.4h-1.4zM6 62h1.4v1.4h-1.4zM7 66h1.4v1.4h-1.4zM5 69h1.4v1.4h-1.4zM6 72h1.4v1.4h-1.4zM6 76h1.4v1.4h-1.4zM2 79h1.4v1.4h-1.4zM9 101h1.4v1.4h-1.4zM10 102h1.4v1.4h-1.4zM16 108h1.4v1.4h-1.4zM15 113h1.4v1.4h-1.4zM13 119h1.4v1.4h-1.4zM13 120h1.4v1.4h-1.4zM14 126h1.4v1.4h-1.4zM14 127h1.4v1.4h-1.4z"/><path fill="#006be5" d="M1 3h1.4v1.4h-1.4zM8 11h1.4v1.4h-1.4zM9 12h1.4v1.4h-1.4zM10 13h1.4v1.4h-1.4zM16 18h1.4v1.4h-1.4zM17 19h1.4v1.4h-1.4zM20 25h1.4v1.4h-1.4zM19 26h1.4v1.4h-1.4zM18 31h1.4v1.4h-1.4zM18 32h1.4v1.4h-1.4zM18 33h1.4v1.4h-1.4zM17 35h1.4v1.4h-1.4zM17 36h1.4v1.4h-1.4zM16 38h1.4v1.4h-1.4zM15 39h1.4v1.4h-1.4zM14 41h1.4v1.4h-1.4zM13 43h1.4v1.4h-1.4zM12 44h1.4v1.4h-1.4zM6 51h1.4v1.4h-1.4zM5 53h1.4v1.4h-1.4zM4 55h1.4v1.4h-1.4zM7 63h1.4v1.4h-1.4zM6 68h1.4v1.4h-1.4zM5 70h1.4v1.4h-1.4zM5 77h1.4v1.4h-1.4zM1 80h1.4v1.4h-1.4zM53 83h1.4v1.4h-1.4zM1 93h1.4v1.4h-1.4zM6 98h1.4v1.4h-1.4zM7 99h1.4v1.4h-1.4zM8 100h1.4v1.4h-1.4zM16 112h1.4v1.4h-1.4zM14 115h1.4v1.4h-1.4zM13 117h1.4v1.4h-1.4zM13 118h1.4v1.4h-1.4zM14 124h1.4v1.4h-1.4zM14 125h1.4v1.4h-1.4z"/><path fill="#006ee4" d="M6 8h1.4v1.4h-1.4zM14 16h1.4v1.4h-1.4zM15 17h1.4v1.4h-1.4zM18 20h1.4v1.4h-1.4zM19 21h1.4v1.4h-1.4zM20 22h1.4v1.4h-1.4zM21 24h1.4v1.4h-1.4zM19 27h1.4v1.4h-1.4zM19 28h1.4v1.4h-1.4zM19 29h1.4v1.4h-1.4zM19 30h1.4v1.4h-1.4zM19 31h1.4v1.4h-1.4zM19 32h1.4v1.4h-1.4zM18 34h1.4v1.4h-1.4zM18 35h1.4v1.4h-1.4zM17 37h1.4v1.4h-1.4zM16 39h1.4v1.4h-1.4zM15 40h1.4v1.4h-1.4zM14 42h1.4v1.4h-1.4zM13 44h1.4v1.4h-1.4zM12 45h1.4v1.4h-1.4zM11 46h1.4v1.4h-1.4zM10 47h1.4v1.4h-1.4zM7 50h1.4v1.4h-1.4zM6 52h1.4v1.4h-1.4zM4 56h1.4v1.4h-1.4zM4 59h1.4v1.4h-1.4zM7 67h1.4v1.4h-1.4zM7 74h1.4v1.4h-1.4zM1 81h1.4v1.4h-1.4zM1 82h1.4v1.4h-1.4zM1 83h1.4v1.4h-1.4zM1 84h1.4v1.4h-1.4zM1 85h1.4v1.4h-1.4zM1 86h1.4v1.4h-1.4zM1 87h1.4v1.4h-1.4zM1 88h1.4v1.4h-1.4zM1 89h1.4v1.4h-1.4zM1 90h1.4v1.4h-1.4zM1 91h1.4v1.4h-1.4zM1 92h1.4v1.4h-1.4zM4 96h1.4v1.4h-1.4zM5 97h1.4v1.4h-1.4zM13 104h1.4v1.4h-1.4zM14 105h1.4v1.4h-1.4zM17 110h1.4v1.4h-1.4zM17 111h1.4v1.4h-1.4zM15 114h1.4v1.4h-1.4zM14 116h1.4v1.4h-1.4zM14 122h1.4v1.4h-1.4zM14 123h1.4v1.4h-1.4z"/><path fill="#0070e3" d="M53 -1h1.4v1.4h-1.4zM1 2h1.4v1.4h-1.4zM4 5h1.4v1.4h-1.4zM5 6h1.4v1.4h-1.4zM7 9h1.4v1.4h-1.4zM12 14h1.4v1.4h-1.4zM13 15h1.4v1.4h-1.4zM21 23h1.4v1.4h-1.4zM21 25h1.4v1.4h-1.4zM20 26h1.4v1.4h-1.4zM19 33h1.4v1.4h-1.4zM19 34h1.4v1.4h-1.4zM18 36h1.4v1.4h-1.4zM17 38h1.4v1.4h-1.4zM52 40h1.4v1.4h-1.4zM15 41h1.4v1.4h-1.4zM14 43h1.4v1.4h-1.4zM54 44h1.4v1.4h-1.4zM55 46h1.4v1.4h-1.4zM9 48h1.4v1.4h-1.4zM8 49h1.4v1.4h-1.4zM5 54h1.4v1.4h-1.4zM4 57h1.4v1.4h-1.4zM62 57h1.4v1.4h-1.4zM4 58h1.4v1.4h-1.4zM5 60h1.4v1.4h-1.4zM63 60h1.4v1.4h-1.4zM63 62h1.4v1.4h-1.4zM8 65h1.4v1.4h-1.4zM62 65h1.4v1.4h-1.4zM61 68h1.4v1.4h-1.4zM6 71h1.4v1.4h-1.4zM60 72h1.4v1.4h-1.4zM7 73h1.4v1.4h-1.4zM7 75h1.4v1.4h-1.4zM59 75h1.4v1.4h-1.4zM52 88h1.4v1.4h-1.4zM2 94h1.4v1.4h-1.4zM55 94h1.4v1.4h-1.4zM3 95h1.4v1.4h-1.4zM11 102h1.4v1.4h-1.4zM12 103h1.4v1.4h-1.4zM15 106h1.4v1.4h-1.4zM16 107h1.4v1.4h-1.4zM17 109h1.4v1.4h-1.4zM65 113h1.4v1.4h-1.4zM66 116h1.4v1.4h-1.4zM67 119h1.4v1.4h-1.4zM14 120h1.4v1.4h-1.4zM14 121h1.4v1.4h-1.4zM68 124h1.4v1.4h-1.4zM15 129h1.4v1.4h-1.4zM15 130h1.4v1.4h-1.4zM15 131h1.4v1h-1.4z"/><path fill="#0073e2" d="M1 1h1.4v1.4h-1.4zM3 4h1.4v1.4h-1.4zM6 7h1.4v1.4h-1.4zM50 8h1.4v1.4h-1.4zM8 10h1.4v1.4h-1.4zM9 11h1.4v1.4h-1.4zM10 12h1.4v1.4h-1.4zM11 13h1.4v1.4h-1.4zM17 18h1.4v1.4h-1.4zM20 27h1.4v1.4h-1.4zM20 28h1.4v1.4h-1.4zM20 29h1.4v1.4h-1.4zM20 30h1.4v1.4h-1.4zM20 31h1.4v1.4h-1.4zM56 31h1.4v1.4h-1.4zM20 32h1.4v1.4h-1.4zM19 35h1.4v1.4h-1.4zM53 35h1.4v1.4h-1.4zM18 37h1.4v1.4h-1.4zM17 39h1.4v1.4h-1.4zM16 40h1.4v1.4h-1.4zM15 42h1.4v1.4h-1.4zM53 42h1.4v1.4h-1.4zM14 44h1.4v1.4h-1.4zM13 45h1.4v1.4h-1.4zM12 46h1.4v1.4h-1.4zM11 47h1.4v1.4h-1.4zM57 49h1.4v1.4h-1.4zM7 51h1.4v1.4h-1.4zM6 53h1.4v1.4h-1.4zM60 53h1.4v1.4h-1.4zM5 55h1.4v1.4h-1.4zM61 55h1.4v1.4h-1.4zM6 61h1.4v1.4h-1.4zM8 64h1.4v1.4h-1.4zM58 77h1.4v1.4h-1.4zM4 78h1.4v1.4h-1.4zM3 79h1.4v1.4h-1.4zM57 79h1.4v1.4h-1.4zM2 80h1.4v1.4h-1.4zM52 84h1.4v1.4h-1.4zM54 92h1.4v1.4h-1.4zM8 99h1.4v1.4h-1.4zM9 100h1.4v1.4h-1.4zM10 101h1.4v1.4h-1.4zM57 104h1.4v1.4h-1.4zM17 108h1.4v1.4h-1.4zM16 113h1.4v1.4h-1.4zM15 115h1.4v1.4h-1.4zM14 117h1.4v1.4h-1.4zM14 118h1.4v1.4h-1.4zM14 119h1.4v1.4h-1.4zM15 126h1.4v1.4h-1.4zM15 127h1.4v1.4h-1.4zM15 128h1.4v1.4h-1.4z"/><path fill="#0075e1" d="M1 -2h1.4v1.4h-1.4zM1 -1h1.4v1.4h-1.4zM1 0h1.4v1.4h-1.4zM2 3h1.4v1.4h-1.4zM15 16h1.4v1.4h-1.4zM16 17h1.4v1.4h-1.4zM18 19h1.4v1.4h-1.4zM19 20h1.4v1.4h-1.4zM21 26h1.4v1.4h-1.4zM20 33h1.4v1.4h-1.4zM20 34h1.4v1.4h-1.4zM19 36h1.4v1.4h-1.4zM18 38h1.4v1.4h-1.4zM16 41h1.4v1.4h-1.4zM15 43h1.4v1.4h-1.4zM14 45h1.4v1.4h-1.4zM13 46h1.4v1.4h-1.4zM10 48h1.4v1.4h-1.4zM9 49h1.4v1.4h-1.4zM8 50h1.4v1.4h-1.4zM7 52h1.4v1.4h-1.4zM6 54h1.4v1.4h-1.4zM5 56h1.4v1.4h-1.4zM5 59h1.4v1.4h-1.4zM7 62h1.4v1.4h-1.4zM8 66h1.4v1.4h-1.4zM7 68h1.4v1.4h-1.4zM6 69h1.4v1.4h-1.4zM6 70h1.4v1.4h-1.4zM7 72h1.4v1.4h-1.4zM7 76h1.4v1.4h-1.4zM6 77h1.4v1.4h-1.4zM2 81h1.4v1.4h-1.4zM2 82h1.4v1.4h-1.4zM2 83h1.4v1.4h-1.4zM2 84h1.4v1.4h-1.4zM2 85h1.4v1.4h-1.4zM2 86h1.4v1.4h-1.4zM2 87h1.4v1.4h-1.4zM2 88h1.4v1.4h-1.4zM2 89h1.4v1.4h-1.4zM2 90h1.4v1.4h-1.4zM2 91h1.4v1.4h-1.4zM2 92h1.4v1.4h-1.4zM2 93h1.4v1.4h-1.4zM3 94h1.4v1.4h-1.4zM4 95h1.4v1.4h-1.4zM5 96h1.4v1.4h-1.4zM6 97h1.4v1.4h-1.4zM7 98h1.4v1.4h-1.4zM17 112h1.4v1.4h-1.4zM15 116h1.4v1.4h-1.4zM15 123h1.4v1.4h-1.4zM15 124h1.4v1.4h-1.4zM15 125h1.4v1.4h-1.4z"/><path fill="#0078e1" d="M5 5h1.4v1.4h-1.4zM7 8h1.4v1.4h-1.4zM8 9h1.4v1.4h-1.4zM9 10h1.4v1.4h-1.4zM10 11h1.4v1.4h-1.4zM11 12h1.4v1.4h-1.4zM12 13h1.4v1.4h-1.4zM13 14h1.4v1.4h-1.4zM14 15h1.4v1.4h-1.4zM20 21h1.4v1.4h-1.4zM21 22h1.4v1.4h-1.4zM21 27h1.4v1.4h-1.4zM21 29h1.4v1.4h-1.4zM20 35h1.4v1.4h-1.4zM19 37h1.4v1.4h-1.4zM18 39h1.4v1.4h-1.4zM17 40h1.4v1.4h-1.4zM16 42h1.4v1.4h-1.4zM15 44h1.4v1.4h-1.4zM12 47h1.4v1.4h-1.4zM11 48h1.4v1.4h-1.4zM8 51h1.4v1.4h-1.4zM7 53h1.4v1.4h-1.4zM5 57h1.4v1.4h-1.4zM5 58h1.4v1.4h-1.4zM8 63h1.4v1.4h-1.4zM8 74h1.4v1.4h-1.4zM5 78h1.4v1.4h-1.4zM3 93h1.4v1.4h-1.4zM8 98h1.4v1.4h-1.4zM9 99h1.4v1.4h-1.4zM10 100h1.4v1.4h-1.4zM11 101h1.4v1.4h-1.4zM12 102h1.4v1.4h-1.4zM13 103h1.4v1.4h-1.4zM14 104h1.4v1.4h-1.4zM15 105h1.4v1.4h-1.4zM16 106h1.4v1.4h-1.4zM18 110h1.4v1.4h-1.4zM18 111h1.4v1.4h-1.4zM16 114h1.4v1.4h-1.4zM15 117h1.4v1.4h-1.4zM15 119h1.4v1.4h-1.4zM15 120h1.4v1.4h-1.4zM15 121h1.4v1.4h-1.4zM15 122h1.4v1.4h-1.4z"/><path fill="#007be0" d="M2 2h1.4v1.4h-1.4zM4 4h1.4v1.4h-1.4zM6 6h1.4v1.4h-1.4zM7 7h1.4v1.4h-1.4zM16 16h1.4v1.4h-1.4zM17 17h1.4v1.4h-1.4zM18 18h1.4v1.4h-1.4zM22 24h1.4v1.4h-1.4zM21 28h1.4v1.4h-1.4zM21 30h1.4v1.4h-1.4zM21 31h1.4v1.4h-1.4zM21 32h1.4v1.4h-1.4zM19 38h1.4v1.4h-1.4zM17 41h1.4v1.4h-1.4zM16 43h1.4v1.4h-1.4zM15 45h1.4v1.4h-1.4zM14 46h1.4v1.4h-1.4zM13 47h1.4v1.4h-1.4zM10 49h1.4v1.4h-1.4zM9 50h1.4v1.4h-1.4zM8 52h1.4v1.4h-1.4zM6 55h1.4v1.4h-1.4zM6 60h1.4v1.4h-1.4zM7 61h1.4v1.4h-1.4zM8 67h1.4v1.4h-1.4zM7 71h1.4v1.4h-1.4zM8 73h1.4v1.4h-1.4zM8 75h1.4v1.4h-1.4zM4 79h1.4v1.4h-1.4zM3 80h1.4v1.4h-1.4zM3 81h1.4v1.4h-1.4zM3 82h1.4v1.4h-1.4zM3 83h1.4v1.4h-1.4zM3 84h1.4v1.4h-1.4zM3 85h1.4v1.4h-1.4zM3 86h1.4v1.4h-1.4zM3 87h1.4v1.4h-1.4zM3 88h1.4v1.4h-1.4zM3 89h1.4v1.4h-1.4zM3 90h1.4v1.4h-1.4zM3 91h1.4v1.4h-1.4zM3 92h1.4v1.4h-1.4zM4 93h1.4v1.4h-1.4zM4 94h1.4v1.4h-1.4zM5 95h1.4v1.4h-1.4zM6 96h1.4v1.4h-1.4zM7 97h1.4v1.4h-1.4zM17 107h1.4v1.4h-1.4zM18 109h1.4v1.4h-1.4zM17 113h1.4v1.4h-1.4zM16 115h1.4v1.4h-1.4zM15 118h1.4v1.4h-1.4zM16 126h1.4v1.4h-1.4zM16 127h1.4v1.4h-1.4zM16 128h1.4v1.4h-1.4zM16 129h1.4v1.4h-1.4zM16 130h1.4v1.4h-1.4zM16 131h1.4v1h-1.4z"/><path fill="#007ede" d="M2 1h1.4v1.4h-1.4zM3 3h1.4v1.4h-1.4zM8 8h1.4v1.4h-1.4zM9 9h1.4v1.4h-1.4zM10 10h1.4v1.4h-1.4zM11 11h1.4v1.4h-1.4zM12 12h1.4v1.4h-1.4zM13 13h1.4v1.4h-1.4zM14 14h1.4v1.4h-1.4zM15 15h1.4v1.4h-1.4zM19 19h1.4v1.4h-1.4zM22 25h1.4v1.4h-1.4zM21 33h1.4v1.4h-1.4zM20 36h1.4v1.4h-1.4zM18 40h1.4v1.4h-1.4zM17 42h1.4v1.4h-1.4zM16 44h1.4v1.4h-1.4zM16 45h1.4v1.4h-1.4zM12 48h1.4v1.4h-1.4zM11 49h1.4v1.4h-1.4zM10 50h1.4v1.4h-1.4zM9 51h1.4v1.4h-1.4zM8 53h1.4v1.4h-1.4zM7 54h1.4v1.4h-1.4zM6 56h1.4v1.4h-1.4zM6 57h1.4v1.4h-1.4zM6 58h1.4v1.4h-1.4zM6 59h1.4v1.4h-1.4zM8 62h1.4v1.4h-1.4zM7 69h1.4v1.4h-1.4zM7 70h1.4v1.4h-1.4zM8 72h1.4v1.4h-1.4zM8 76h1.4v1.4h-1.4zM7 77h1.4v1.4h-1.4zM6 78h1.4v1.4h-1.4zM5 79h1.4v1.4h-1.4zM4 80h1.4v1.4h-1.4zM4 81h1.4v1.4h-1.4zM4 82h1.4v1.4h-1.4zM4 83h1.4v1.4h-1.4zM4 84h1.4v1.4h-1.4zM4 85h1.4v1.4h-1.4zM4 86h1.4v1.4h-1.4zM4 87h1.4v1.4h-1.4zM4 88h1.4v1.4h-1.4zM4 89h1.4v1.4h-1.4zM4 90h1.4v1.4h-1.4zM4 91h1.4v1.4h-1.4zM4 92h1.4v1.4h-1.4zM5 93h1.4v1.4h-1.4zM5 94h1.4v1.4h-1.4zM6 95h1.4v1.4h-1.4zM7 96h1.4v1.4h-1.4zM8 97h1.4v1.4h-1.4zM9 98h1.4v1.4h-1.4zM10 99h1.4v1.4h-1.4zM11 100h1.4v1.4h-1.4zM12 101h1.4v1.4h-1.4zM13 102h1.4v1.4h-1.4zM14 103h1.4v1.4h-1.4zM15 104h1.4v1.4h-1.4zM16 105h1.4v1.4h-1.4zM18 108h1.4v1.4h-1.4zM18 112h1.4v1.4h-1.4zM17 114h1.4v1.4h-1.4zM16 116h1.4v1.4h-1.4zM16 121h1.4v1.4h-1.4zM16 122h1.4v1.4h-1.4zM16 123h1.4v1.4h-1.4zM16 124h1.4v1.4h-1.4zM16 125h1.4v1.4h-1.4z"/><path fill="#0080dd" d="M2 0h1.4v1.4h-1.4zM6 5h1.4v1.4h-1.4zM7 6h1.4v1.4h-1.4zM8 7h1.4v1.4h-1.4zM15 14h1.4v1.4h-1.4zM16 15h1.4v1.4h-1.4zM17 16h1.4v1.4h-1.4zM18 17h1.4v1.4h-1.4zM19 18h1.4v1.4h-1.4zM20 20h1.4v1.4h-1.4zM22 23h1.4v1.4h-1.4zM21 34h1.4v1.4h-1.4zM20 37h1.4v1.4h-1.4zM19 39h1.4v1.4h-1.4zM18 41h1.4v1.4h-1.4zM17 43h1.4v1.4h-1.4zM17 44h1.4v1.4h-1.4zM15 46h1.4v1.4h-1.4zM14 47h1.4v1.4h-1.4zM13 48h1.4v1.4h-1.4zM10 51h1.4v1.4h-1.4zM9 52h1.4v1.4h-1.4zM8 54h1.4v1.4h-1.4zM7 55h1.4v1.4h-1.4zM7 60h1.4v1.4h-1.4zM63 61h1.4v1.4h-1.4zM8 68h1.4v1.4h-1.4zM8 71h1.4v1.4h-1.4zM9 73h1.4v1.4h-1.4zM9 74h1.4v1.4h-1.4zM9 75h1.4v1.4h-1.4zM5 80h1.4v1.4h-1.4zM5 84h1.4v1.4h-1.4zM5 85h1.4v1.4h-1.4zM5 86h1.4v1.4h-1.4zM5 87h1.4v1.4h-1.4zM5 88h1.4v1.4h-1.4zM5 89h1.4v1.4h-1.4zM5 90h1.4v1.4h-1.4zM5 91h1.4v1.4h-1.4zM5 92h2.4v1.4h-2.4zM6 93h1.4v1.4h-1.4zM6 94h1.4v1.4h-1.4zM7 95h1.4v1.4h-1.4zM8 96h1.4v1.4h-1.4zM9 97h1.4v1.4h-1.4zM10 98h1.4v1.4h-1.4zM11 99h1.4v1.4h-1.4zM12 100h1.4v1.4h-1.4zM13 101h1.4v1.4h-1.4zM14 102h1.4v1.4h-1.4zM15 103h1.4v1.4h-1.4zM17 106h1.4v1.4h-1.4zM18 107h1.4v1.4h-1.4zM19 110h1.4v1.4h-1.4zM17 115h1.4v1.4h-1.4zM16 117h1.4v1.4h-1.4zM16 118h1.4v1.4h-1.4zM16 119h1.4v1.4h-1.4zM16 120h1.4v1.4h-1.4zM17 129h1.4v1.4h-1.4zM17 130h1.4v1.4h-1.4zM17 131h1.4v1h-1.4z"/><path fill="#0083db" d="M2 -2h1.4v1.4h-1.4zM53 -2h1.4v1.4h-1.4zM2 -1h1.4v1.4h-1.4zM3 2h1.4v1.4h-1.4zM5 4h1.4v1.4h-1.4zM9 8h1.4v1.4h-1.4zM10 9h1.4v1.4h-1.4zM11 10h1.4v1.4h-1.4zM12 11h1.4v1.4h-1.4zM13 12h1.4v1.4h-1.4zM14 13h1.4v1.4h-1.4zM20 19h1.4v1.4h-1.4zM22 26h1.4v1.4h-1.4zM21 35h1.4v1.4h-1.4zM20 38h1.4v1.4h-1.4zM19 40h1.4v1.4h-1.4zM18 42h1.4v1.4h-1.4zM18 43h1.4v1.4h-1.4zM17 45h1.4v1.4h-1.4zM16 46h1.4v1.4h-1.4zM15 47h1.4v1.4h-1.4zM12 49h1.4v1.4h-1.4zM11 50h1.4v1.4h-1.4zM10 52h1.4v1.4h-1.4zM9 53h1.4v1.4h-1.4zM7 56h1.4v1.4h-1.4zM7 57h1.4v1.4h-1.4zM7 58h1.4v1.4h-1.4zM62 58h1.4v1.4h-1.4zM7 59h1.4v1.4h-1.4zM8 61h1.4v1.4h-1.4zM9 64h1.4v1.4h-1.4zM62 64h1.4v1.4h-1.4zM9 65h1.4v1.4h-1.4zM61 67h1.4v1.4h-1.4zM8 69h1.4v1.4h-1.4zM8 70h1.4v1.4h-1.4zM60 71h1.4v1.4h-1.4zM9 72h1.4v1.4h-1.4zM59 74h1.4v1.4h-1.4zM9 76h1.4v1.4h-1.4zM8 77h1.4v1.4h-1.4zM7 78h1.4v1.4h-1.4zM6 79h1.4v1.4h-1.4zM5 81h1.4v1.4h-1.4zM5 82h1.4v1.4h-1.4zM5 83h1.4v1.4h-1.4zM6 84h1.4v1.4h-1.4zM6 85h1.4v1.4h-1.4zM6 86h1.4v1.4h-1.4zM6 87h1.4v1.4h-1.4zM6 88h1.4v1.4h-1.4zM6 89h1.4v1.4h-1.4zM52 89h1.4v1.4h-1.4zM6 90h1.4v1.4h-1.4zM6 91h2.4v1.4h-2.4zM7 92h1.4v1.4h-1.4zM7 93h1.4v1.4h-1.4zM7 94h2.4v1.4h-2.4zM8 95h1.4v1.4h-1.4zM55 95h1.4v1.4h-1.4zM9 96h1.4v1.4h-1.4zM55 96h1.4v1.4h-1.4zM10 97h1.4v1.4h-1.4zM55 97h1.4v1.4h-1.4zM11 98h1.4v1.4h-1.4zM55 98h1.4v1.4h-1.4zM12 99h1.4v1.4h-1.4zM55 99h1.4v1.4h-1.4zM13 100h1.4v1.4h-1.4zM55 100h1.4v1.4h-1.4zM14 101h1.4v1.4h-1.4zM15 102h1.4v1.4h-1.4zM16 104h1.4v1.4h-1.4zM17 105h1.4v1.4h-1.4zM19 109h1.4v1.4h-1.4zM19 111h1.4v1.4h-1.4zM18 113h1.4v1.4h-1.4zM65 114h1.4v1.4h-1.4zM17 116h1.4v1.4h-1.4zM66 117h1.4v1.4h-1.4zM67 120h1.4v1.4h-1.4zM67 121h1.4v1.4h-1.4zM17 123h1.4v1.4h-1.4zM17 124h1.4v1.4h-1.4zM17 125h1.4v1.4h-1.4zM68 125h1.4v1.4h-1.4zM17 126h1.4v1.4h-1.4zM68 126h1.4v1.4h-1.4zM17 127h1.4v1.4h-1.4zM68 127h1.4v1.4h-1.4zM17 128h1.4v1.4h-1.4zM68 128h1.4v1.4h-1.4zM68 129h1.4v1.4h-1.4zM68 130h1.4v1.4h-1.4zM68 131h1.4v1h-1.4z"/><path fill="#0086da" d="M4 3h1.4v1.4h-1.4zM48 4h1.4v1.4h-1.4zM48 5h1.4v1.4h-1.4zM9 7h1.4v1.4h-1.4zM10 8h1.4v1.4h-1.4zM11 9h1.4v1.4h-1.4zM12 10h1.4v1.4h-1.4zM13 11h1.4v1.4h-1.4zM14 12h1.4v1.4h-1.4zM15 13h1.4v1.4h-1.4zM16 14h1.4v1.4h-1.4zM17 15h1.4v1.4h-1.4zM18 16h1.4v1.4h-1.4zM19 17h1.4v1.4h-1.4zM20 18h1.4v1.4h-1.4zM21 21h1.4v1.4h-1.4zM22 27h1.4v1.4h-1.4zM22 28h1.4v1.4h-1.4zM22 29h1.4v1.4h-1.4zM21 36h1.4v1.4h-1.4zM51 38h1.4v1.4h-1.4zM19 41h1.4v1.4h-1.4zM18 44h1.4v1.4h-1.4zM17 46h1.4v1.4h-1.4zM14 48h1.4v1.4h-1.4zM13 49h1.4v1.4h-1.4zM12 50h1.4v1.4h-1.4zM11 51h1.4v1.4h-1.4zM9 54h1.4v1.4h-1.4zM8 55h1.4v1.4h-1.4zM8 60h1.4v1.4h-1.4zM9 63h1.4v1.4h-1.4zM9 66h1.4v1.4h-1.4zM60 70h1.4v1.4h-1.4zM9 71h1.4v1.4h-1.4zM10 73h1.4v1.4h-1.4zM10 74h1.4v1.4h-1.4zM10 75h1.4v1.4h-1.4zM7 79h1.4v1.4h-1.4zM6 80h1.4v1.4h-1.4zM6 81h1.4v1.4h-1.4zM6 82h1.4v1.4h-1.4zM6 83h1.4v1.4h-1.4zM7 85h1.4v1.4h-1.4zM7 86h1.4v1.4h-1.4zM7 87h1.4v1.4h-1.4zM7 88h1.4v1.4h-1.4zM7 89h1.4v1.4h-1.4zM7 90h1.4v1.4h-1.4zM8 91h1.4v1.4h-1.4zM8 92h1.4v1.4h-1.4zM8 93h1.4v1.4h-1.4zM9 94h1.4v1.4h-1.4zM9 95h2.4v1.4h-2.4zM10 96h1.4v1.4h-1.4zM11 97h1.4v1.4h-1.4zM12 98h1.4v1.4h-1.4zM13 99h1.4v1.4h-1.4zM14 100h1.4v1.4h-1.4zM15 101h1.4v1.4h-1.4zM55 101h1.4v1.4h-1.4zM16 103h1.4v1.4h-1.4zM18 106h1.4v1.4h-1.4zM19 108h1.4v1.4h-1.4zM19 112h1.4v1.4h-1.4zM18 114h1.4v1.4h-1.4zM17 117h1.4v1.4h-1.4zM17 118h1.4v1.4h-1.4zM17 119h1.4v1.4h-1.4zM17 120h1.4v1.4h-1.4zM17 121h1.4v1.4h-1.4zM17 122h1.4v1.4h-1.4zM67 122h1.4v1.4h-1.4z"/><path fill="#0089d9" d="M3 1h1.4v1.4h-1.4zM7 5h1.4v1.4h-1.4zM8 6h1.4v1.4h-1.4zM18 15h1.4v1.4h-1.4zM19 16h1.4v1.4h-1.4zM20 17h1.4v1.4h-1.4zM22 22h1.4v1.4h-1.4zM22 30h1.4v1.4h-1.4zM22 31h1.4v1.4h-1.4zM22 32h1.4v1.4h-1.4zM21 37h1.4v1.4h-1.4zM20 39h1.4v1.4h-1.4zM19 42h1.4v1.4h-1.4zM19 43h1.4v1.4h-1.4zM18 45h1.4v1.4h-1.4zM16 47h1.4v1.4h-1.4zM15 48h1.4v1.4h-1.4zM14 49h1.4v1.4h-1.4zM13 50h1.4v1.4h-1.4zM12 51h1.4v1.4h-1.4zM11 52h1.4v1.4h-1.4zM10 53h1.4v1.4h-1.4zM9 55h1.4v1.4h-1.4zM8 56h1.4v1.4h-1.4zM8 57h1.4v1.4h-1.4zM8 59h1.4v1.4h-1.4zM9 62h1.4v1.4h-1.4zM9 67h1.4v1.4h-1.4zM9 68h1.4v1.4h-1.4zM9 70h1.4v1.4h-1.4zM10 72h1.4v1.4h-1.4zM10 76h1.4v1.4h-1.4zM9 77h1.4v1.4h-1.4zM8 78h1.4v1.4h-1.4zM7 80h1.4v1.4h-1.4zM7 81h1.4v1.4h-1.4zM7 82h1.4v1.4h-1.4zM7 83h1.4v1.4h-1.4zM7 84h1.4v1.4h-1.4zM8 85h1.4v1.4h-1.4zM8 86h1.4v1.4h-1.4zM51 86h1.4v1.4h-1.4zM8 87h1.4v1.4h-1.4zM8 88h1.4v1.4h-1.4zM8 89h1.4v1.4h-1.4zM8 90h2.4v1.4h-2.4zM9 91h1.4v1.4h-1.4zM9 92h1.4v1.4h-1.4zM9 93h1.4v1.4h-1.4zM10 94h1.4v1.4h-1.4zM11 95h1.4v1.4h-1.4zM11 96h2.4v1.4h-2.4zM12 97h1.4v1.4h-1.4zM13 98h1.4v1.4h-1.4zM14 99h1.4v1.4h-1.4zM15 100h1.4v1.4h-1.4zM16 101h1.4v1.4h-1.4zM16 102h1.4v1.4h-1.4zM17 103h1.4v1.4h-1.4zM17 104h1.4v1.4h-1.4zM18 105h1.4v1.4h-1.4zM19 107h1.4v1.4h-1.4zM19 113h1.4v1.4h-1.4zM18 115h1.4v1.4h-1.4zM18 116h1.4v1.4h-1.4zM18 125h1.4v1.4h-1.4zM18 126h1.4v1.4h-1.4zM18 127h1.4v1.4h-1.4zM18 128h1.4v1.4h-1.4zM18 129h1.4v1.4h-1.4zM18 130h1.4v1.4h-1.4zM18 131h1.4v1h-1.4z"/><path fill="#008cd7" d="M3 0h1.4v1.4h-1.4zM4 2h1.4v1.4h-1.4zM5 3h1.4v1.4h-1.4zM6 4h1.4v1.4h-1.4zM10 7h1.4v1.4h-1.4zM11 8h1.4v1.4h-1.4zM12 9h1.4v1.4h-1.4zM13 10h1.4v1.4h-1.4zM14 11h1.4v1.4h-1.4zM15 12h1.4v1.4h-1.4zM16 13h1.4v1.4h-1.4zM17 14h1.4v1.4h-1.4zM21 19h1.4v1.4h-1.4zM21 20h1.4v1.4h-1.4zM22 33h1.4v1.4h-1.4zM22 34h1.4v1.4h-1.4zM21 38h1.4v1.4h-1.4zM20 40h1.4v1.4h-1.4zM19 44h1.4v1.4h-1.4zM19 45h1.4v1.4h-1.4zM18 46h1.4v1.4h-1.4zM17 47h1.4v1.4h-1.4zM11 53h1.4v1.4h-1.4zM10 54h1.4v1.4h-1.4zM8 58h1.4v1.4h-1.4zM9 61h1.4v1.4h-1.4zM9 69h1.4v1.4h-1.4zM10 71h1.4v1.4h-1.4zM11 73h1.4v1.4h-1.4zM11 74h1.4v1.4h-1.4zM11 75h1.4v1.4h-1.4zM10 77h1.4v1.4h-1.4zM9 78h1.4v1.4h-1.4zM8 79h1.4v1.4h-1.4zM8 80h1.4v1.4h-1.4zM8 82h1.4v1.4h-1.4zM8 83h1.4v1.4h-1.4zM8 84h1.4v1.4h-1.4zM9 85h1.4v1.4h-1.4zM9 86h1.4v1.4h-1.4zM9 87h1.4v1.4h-1.4zM9 88h1.4v1.4h-1.4zM9 89h1.4v1.4h-1.4zM10 90h1.4v1.4h-1.4zM10 91h1.4v1.4h-1.4zM10 92h1.4v1.4h-1.4zM10 93h2.4v1.4h-2.4zM11 94h1.4v1.4h-1.4zM12 95h1.4v1.4h-1.4zM13 96h1.4v1.4h-1.4zM13 97h1.4v1.4h-1.4zM14 98h1.4v1.4h-1.4zM15 99h1.4v1.4h-1.4zM16 100h1.4v1.4h-1.4zM17 102h1.4v1.4h-1.4zM18 104h1.4v1.4h-1.4zM19 106h1.4v1.4h-1.4zM20 109h1.4v1.4h-1.4zM20 110h1.4v1.4h-1.4zM20 111h1.4v1.4h-1.4zM19 114h1.4v1.4h-1.4zM18 117h1.4v1.4h-1.4zM18 118h1.4v1.4h-1.4zM18 119h1.4v1.4h-1.4zM18 120h1.4v1.4h-1.4zM18 121h1.4v1.4h-1.4zM18 122h1.4v1.4h-1.4zM18 123h1.4v1.4h-1.4zM18 124h1.4v1.4h-1.4z"/><path fill="#008ed6" d="M3 -2h1.4v1.4h-1.4zM3 -1h1.4v1.4h-1.4zM9 6h1.4v1.4h-1.4zM12 8h1.4v1.4h-1.4zM13 9h1.4v1.4h-1.4zM14 10h1.4v1.4h-1.4zM15 11h1.4v1.4h-1.4zM16 12h1.4v1.4h-1.4zM17 13h1.4v1.4h-1.4zM18 14h1.4v1.4h-1.4zM19 15h1.4v1.4h-1.4zM20 16h1.4v1.4h-1.4zM21 17h1.4v1.4h-1.4zM21 18h1.4v1.4h-1.4zM23 24h1.4v1.4h-1.4zM23 25h1.4v1.4h-1.4zM22 35h1.4v1.4h-1.4zM21 39h1.4v1.4h-1.4zM20 41h1.4v1.4h-1.4zM20 42h1.4v1.4h-1.4zM20 43h1.4v1.4h-1.4zM20 44h1.4v1.4h-1.4zM19 46h1.4v1.4h-1.4zM16 48h1.4v1.4h-1.4zM15 49h1.4v1.4h-1.4zM14 50h1.4v1.4h-1.4zM13 51h1.4v1.4h-1.4zM12 52h1.4v1.4h-1.4zM10 55h1.4v1.4h-1.4zM9 56h1.4v1.4h-1.4zM9 57h1.4v1.4h-1.4zM9 59h1.4v1.4h-1.4zM9 60h1.4v1.4h-1.4zM10 70h1.4v1.4h-1.4zM11 72h1.4v1.4h-1.4zM11 76h1.4v1.4h-1.4zM9 79h1.4v1.4h-1.4zM8 81h1.4v1.4h-1.4zM9 83h1.4v1.4h-1.4zM9 84h1.4v1.4h-1.4zM10 86h1.4v1.4h-1.4zM10 87h1.4v1.4h-1.4zM10 88h1.4v1.4h-1.4zM10 89h1.4v1.4h-1.4zM11 90h1.4v1.4h-1.4zM11 91h1.4v1.4h-1.4zM11 92h1.4v1.4h-1.4zM12 93h1.4v1.4h-1.4zM12 94h1.4v1.4h-1.4zM13 95h1.4v1.4h-1.4zM14 96h1.4v1.4h-1.4zM14 97h1.4v1.4h-1.4zM15 98h1.4v1.4h-1.4zM16 99h1.4v1.4h-1.4zM17 100h1.4v1.4h-1.4zM17 101h1.4v1.4h-1.4zM18 102h1.4v1.4h-1.4zM18 103h1.4v1.4h-1.4zM19 105h1.4v1.4h-1.4zM20 108h1.4v1.4h-1.4zM20 112h1.4v1.4h-1.4zM19 115h1.4v1.4h-1.4z"/><path fill="#0090d5" d="M52 0h1.4v1.4h-1.4zM4 1h1.4v1.4h-1.4zM7 4h1.4v1.4h-1.4zM8 5h1.4v1.4h-1.4zM11 7h1.4v1.4h-1.4zM15 10h1.4v1.4h-1.4zM53 11h1.4v1.4h-1.4zM59 16h1.4v1.4h-1.4zM64 21h1.4v1.4h-1.4zM64 23h1.4v1.4h-1.4zM60 27h1.4v1.4h-1.4zM22 36h1.4v1.4h-1.4zM21 40h1.4v1.4h-1.4zM20 45h1.4v1.4h-1.4zM18 47h1.4v1.4h-1.4zM17 48h1.4v1.4h-1.4zM16 49h1.4v1.4h-1.4zM15 50h1.4v1.4h-1.4zM14 51h1.4v1.4h-1.4zM13 52h1.4v1.4h-1.4zM12 53h1.4v1.4h-1.4zM11 54h1.4v1.4h-1.4zM10 56h1.4v1.4h-1.4zM9 58h1.4v1.4h-1.4zM10 61h1.4v1.4h-1.4zM10 62h1.4v1.4h-1.4zM10 63h1.4v1.4h-1.4zM10 69h1.4v1.4h-1.4zM11 71h1.4v1.4h-1.4zM12 73h1.4v1.4h-1.4zM12 74h1.4v1.4h-1.4zM11 77h1.4v1.4h-1.4zM10 78h1.4v1.4h-1.4zM10 79h1.4v1.4h-1.4zM9 80h1.4v1.4h-1.4zM9 81h1.4v1.4h-1.4zM9 82h1.4v1.4h-1.4zM54 82h1.4v1.4h-1.4zM10 83h1.4v1.4h-1.4zM10 84h1.4v1.4h-1.4zM10 85h1.4v1.4h-1.4zM11 86h1.4v1.4h-1.4zM11 87h1.4v1.4h-1.4zM11 88h1.4v1.4h-1.4zM11 89h1.4v1.4h-1.4zM12 90h1.4v1.4h-1.4zM12 91h1.4v1.4h-1.4zM12 92h1.4v1.4h-1.4zM13 93h1.4v1.4h-1.4zM13 94h1.4v1.4h-1.4zM14 95h1.4v1.4h-1.4zM15 96h1.4v1.4h-1.4zM15 97h1.4v1.4h-1.4zM16 98h1.4v1.4h-1.4zM17 99h1.4v1.4h-1.4zM18 100h1.4v1.4h-1.4zM18 101h1.4v1.4h-1.4zM19 103h1.4v1.4h-1.4zM19 104h1.4v1.4h-1.4zM20 107h1.4v1.4h-1.4zM20 113h1.4v1.4h-1.4zM19 116h1.4v1.4h-1.4zM19 117h1.4v1.4h-1.4zM19 118h1.4v1.4h-1.4zM19 119h1.4v1.4h-1.4zM19 120h1.4v1.4h-1.4zM19 121h1.4v1.4h-1.4zM19 122h1.4v1.4h-1.4zM19 123h1.4v1.4h-1.4zM19 124h1.4v1.4h-1.4zM19 125h1.4v1.4h-1.4zM19 126h1.4v1.4h-1.4zM19 127h1.4v1.4h-1.4zM19 128h1.4v1.4h-1.4zM19 129h1.4v1.4h-1.4zM19 130h1.4v1.4h-1.4zM19 131h1.4v1h-1.4z"/><path fill="#0092d4" d="M4 0h1.4v1.4h-1.4zM5 2h1.4v1.4h-1.4zM49 2h1.4v1.4h-1.4zM6 3h1.4v1.4h-1.4zM10 6h1.4v1.4h-1.4zM49 7h1.4v1.4h-1.4zM13 8h1.4v1.4h-1.4zM14 9h1.4v1.4h-1.4zM16 11h1.4v1.4h-1.4zM17 12h1.4v1.4h-1.4zM54 12h1.4v1.4h-1.4zM18 13h1.4v1.4h-1.4zM55 13h1.4v1.4h-1.4zM19 14h1.4v1.4h-1.4zM56 14h1.4v1.4h-1.4zM20 15h1.4v1.4h-1.4zM21 16h1.4v1.4h-1.4zM22 17h1.4v1.4h-1.4zM60 17h1.4v1.4h-1.4zM22 18h1.4v1.4h-1.4zM61 18h1.4v1.4h-1.4zM22 19h1.4v1.4h-1.4zM62 19h1.4v1.4h-1.4zM22 20h1.4v1.4h-1.4zM63 20h1.4v1.4h-1.4zM22 21h1.4v1.4h-1.4zM23 23h1.4v1.4h-1.4zM63 24h1.4v1.4h-1.4zM62 25h1.4v1.4h-1.4zM23 26h1.4v1.4h-1.4zM61 26h1.4v1.4h-1.4zM57 29h1.4v1.4h-1.4zM55 32h1.4v1.4h-1.4zM54 33h1.4v1.4h-1.4zM52 36h1.4v1.4h-1.4zM22 37h1.4v1.4h-1.4zM21 41h1.4v1.4h-1.4zM21 42h1.4v1.4h-1.4zM21 43h1.4v1.4h-1.4zM21 44h1.4v1.4h-1.4zM21 45h1.4v1.4h-1.4zM20 46h1.4v1.4h-1.4zM19 47h1.4v1.4h-1.4zM18 48h1.4v1.4h-1.4zM56 48h1.4v1.4h-1.4zM17 49h1.4v1.4h-1.4zM58 51h1.4v1.4h-1.4zM59 52h1.4v1.4h-1.4zM13 53h1.4v1.4h-1.4zM12 54h1.4v1.4h-1.4zM11 55h1.4v1.4h-1.4zM10 57h1.4v1.4h-1.4zM10 59h1.4v1.4h-1.4zM10 60h1.4v1.4h-1.4zM10 64h1.4v1.4h-1.4zM10 65h1.4v1.4h-1.4zM10 66h1.4v1.4h-1.4zM10 67h1.4v1.4h-1.4zM10 68h1.4v1.4h-1.4zM11 70h1.4v1.4h-1.4zM12 72h1.4v1.4h-1.4zM12 75h1.4v1.4h-1.4zM12 76h1.4v1.4h-1.4zM11 78h1.4v1.4h-1.4zM10 80h1.4v1.4h-1.4zM56 80h1.4v1.4h-1.4zM10 81h1.4v1.4h-1.4zM55 81h1.4v1.4h-1.4zM10 82h1.4v1.4h-1.4zM11 84h1.4v1.4h-1.4zM11 85h1.4v1.4h-1.4zM12 86h1.4v1.4h-1.4zM12 87h1.4v1.4h-1.4zM12 88h1.4v1.4h-1.4zM12 89h1.4v1.4h-1.4zM13 90h1.4v1.4h-1.4zM13 91h1.4v1.4h-1.4zM53 91h1.4v1.4h-1.4zM13 92h2.4v1.4h-2.4zM14 93h1.4v1.4h-1.4zM14 94h2.4v1.4h-2.4zM15 95h1.4v1.4h-1.4zM16 96h1.4v1.4h-1.4zM16 97h2.4v1.4h-2.4zM17 98h1.4v1.4h-1.4zM18 99h1.4v1.4h-1.4zM19 101h1.4v1.4h-1.4zM19 102h1.4v1.4h-1.4zM56 103h1.4v1.4h-1.4zM20 105h1.4v1.4h-1.4zM20 106h1.4v1.4h-1.4zM58 106h1.4v1.4h-1.4zM59 107h1.4v1.4h-1.4zM21 108h1.4v1.4h-1.4zM60 108h1.4v1.4h-1.4zM21 109h1.4v1.4h-1.4zM61 109h1.4v1.4h-1.4zM21 110h1.4v1.4h-1.4zM62 110h1.4v1.4h-1.4zM21 111h1.4v1.4h-1.4zM63 111h1.4v1.4h-1.4zM64 112h1.4v1.4h-1.4zM20 114h1.4v1.4h-1.4zM20 115h1.4v1.4h-1.4z"/><path fill="#0094d2" d="M4 -2h1.4v1.4h-1.4zM4 -1h1.4v1.4h-1.4zM5 1h1.4v1.4h-1.4zM8 4h1.4v1.4h-1.4zM9 5h1.4v1.4h-1.4zM12 7h1.4v1.4h-1.4zM14 8h1.4v1.4h-1.4zM15 9h1.4v1.4h-1.4zM16 10h1.4v1.4h-1.4zM17 11h1.4v1.4h-1.4zM18 12h1.4v1.4h-1.4zM19 13h1.4v1.4h-1.4zM20 14h1.4v1.4h-1.4zM21 15h1.4v1.4h-1.4zM22 16h1.4v1.4h-1.4zM23 27h1.4v1.4h-1.4zM22 38h1.4v1.4h-1.4zM22 39h1.4v1.4h-1.4zM22 44h1.4v1.4h-1.4zM21 46h1.4v1.4h-1.4zM20 47h1.4v1.4h-1.4zM19 48h1.4v1.4h-1.4zM16 50h1.4v1.4h-1.4zM15 51h1.4v1.4h-1.4zM14 52h1.4v1.4h-1.4zM12 55h1.4v1.4h-1.4zM11 56h1.4v1.4h-1.4zM10 58h1.4v1.4h-1.4zM11 61h1.4v1.4h-1.4zM11 69h1.4v1.4h-1.4zM12 71h1.4v1.4h-1.4zM13 73h1.4v1.4h-1.4zM13 74h1.4v1.4h-1.4zM12 77h1.4v1.4h-1.4zM11 79h1.4v1.4h-1.4zM11 80h1.4v1.4h-1.4zM11 81h1.4v1.4h-1.4zM11 82h1.4v1.4h-1.4zM11 83h1.4v1.4h-1.4zM12 84h1.4v1.4h-1.4zM12 85h1.4v1.4h-1.4zM13 86h1.4v1.4h-1.4zM13 87h1.4v1.4h-1.4zM13 88h1.4v1.4h-1.4zM13 89h1.4v1.4h-1.4zM14 90h1.4v1.4h-1.4zM14 91h1.4v1.4h-1.4zM15 92h1.4v1.4h-1.4zM15 93h1.4v1.4h-1.4zM16 94h1.4v1.4h-1.4zM16 95h1.4v1.4h-1.4zM17 96h1.4v1.4h-1.4zM18 97h1.4v1.4h-1.4zM18 98h1.4v1.4h-1.4zM19 99h1.4v1.4h-1.4zM19 100h1.4v1.4h-1.4zM20 101h1.4v1.4h-1.4zM20 102h1.4v1.4h-1.4zM20 103h1.4v1.4h-1.4zM20 104h1.4v1.4h-1.4zM21 107h1.4v1.4h-1.4zM21 112h1.4v1.4h-1.4zM21 113h1.4v1.4h-1.4zM20 116h1.4v1.4h-1.4zM20 117h1.4v1.4h-1.4zM20 118h1.4v1.4h-1.4zM20 119h1.4v1.4h-1.4zM20 120h1.4v1.4h-1.4zM20 121h1.4v1.4h-1.4zM20 122h1.4v1.4h-1.4zM20 123h1.4v1.4h-1.4zM20 124h1.4v1.4h-1.4zM20 125h1.4v1.4h-1.4zM20 126h1.4v1.4h-1.4zM20 127h1.4v1.4h-1.4zM20 128h1.4v1.4h-1.4zM20 129h1.4v1.4h-1.4zM20 130h1.4v1.4h-1.4zM20 131h1.4v1h-1.4z"/><path fill="#0096d1" d="M5 0h1.4v1.4h-1.4zM6 2h1.4v1.4h-1.4zM7 3h1.4v1.4h-1.4zM10 5h1.4v1.4h-1.4zM11 6h1.4v1.4h-1.4zM13 7h1.4v1.4h-1.4zM16 9h1.4v1.4h-1.4zM17 10h1.4v1.4h-1.4zM18 11h1.4v1.4h-1.4zM19 12h1.4v1.4h-1.4zM20 13h1.4v1.4h-1.4zM21 14h1.4v1.4h-1.4zM22 15h1.4v1.4h-1.4zM23 17h1.4v1.4h-1.4zM23 18h1.4v1.4h-1.4zM23 19h1.4v1.4h-1.4zM23 22h1.4v1.4h-1.4zM23 28h1.4v1.4h-1.4zM23 29h1.4v1.4h-1.4zM23 30h1.4v1.4h-1.4zM23 31h1.4v1.4h-1.4zM23 32h1.4v1.4h-1.4zM23 33h1.4v1.4h-1.4zM22 40h1.4v1.4h-1.4zM22 41h1.4v1.4h-1.4zM22 42h1.4v1.4h-1.4zM22 43h1.4v1.4h-1.4zM22 45h1.4v1.4h-1.4zM22 46h1.4v1.4h-1.4zM21 47h1.4v1.4h-1.4zM18 49h1.4v1.4h-1.4zM17 50h1.4v1.4h-1.4zM16 51h1.4v1.4h-1.4zM15 52h1.4v1.4h-1.4zM14 53h1.4v1.4h-1.4zM13 54h1.4v1.4h-1.4zM11 57h1.4v1.4h-1.4zM11 58h1.4v1.4h-1.4zM11 59h1.4v1.4h-1.4zM11 60h1.4v1.4h-1.4zM11 62h1.4v1.4h-1.4zM11 63h1.4v1.4h-1.4zM11 68h1.4v1.4h-1.4zM12 70h1.4v1.4h-1.4zM13 72h1.4v1.4h-1.4zM13 75h1.4v1.4h-1.4zM13 76h1.4v1.4h-1.4zM12 78h1.4v1.4h-1.4zM12 79h1.4v1.4h-1.4zM12 80h1.4v1.4h-1.4zM12 81h1.4v1.4h-1.4zM12 82h1.4v1.4h-1.4zM12 83h1.4v1.4h-1.4zM13 84h1.4v1.4h-1.4zM13 85h1.4v1.4h-1.4zM14 86h1.4v1.4h-1.4zM14 87h1.4v1.4h-1.4zM14 88h1.4v1.4h-1.4zM14 89h1.4v1.4h-1.4zM15 90h1.4v1.4h-1.4zM15 91h1.4v1.4h-1.4zM16 92h1.4v1.4h-1.4zM16 93h1.4v1.4h-1.4zM17 94h1.4v1.4h-1.4zM17 95h2.4v1.4h-2.4zM18 96h1.4v1.4h-1.4zM19 97h1.4v1.4h-1.4zM19 98h1.4v1.4h-1.4zM20 99h1.4v1.4h-1.4zM20 100h1.4v1.4h-1.4zM21 101h1.4v1.4h-1.4zM21 102h1.4v1.4h-1.4zM21 103h1.4v1.4h-1.4zM21 104h1.4v1.4h-1.4zM21 105h1.4v1.4h-1.4zM21 106h1.4v1.4h-1.4zM22 109h1.4v1.4h-1.4zM22 110h1.4v1.4h-1.4zM21 114h1.4v1.4h-1.4z"/><path fill="#0098d0" d="M5 -2h1.4v1.4h-1.4zM5 -1h1.4v1.4h-1.4zM6 0h1.4v1.4h-1.4zM6 1h1.4v1.4h-1.4zM7 2h1.4v1.4h-1.4zM8 3h1.4v1.4h-1.4zM9 4h1.4v1.4h-1.4zM11 5h1.4v1.4h-1.4zM12 6h1.4v1.4h-1.4zM14 7h1.4v1.4h-1.4zM15 8h1.4v1.4h-1.4zM17 9h1.4v1.4h-1.4zM18 10h1.4v1.4h-1.4zM19 11h1.4v1.4h-1.4zM20 12h1.4v1.4h-1.4zM21 13h1.4v1.4h-1.4zM23 16h1.4v1.4h-1.4zM24 17h1.4v1.4h-1.4zM24 18h1.4v1.4h-1.4zM23 20h1.4v1.4h-1.4zM23 34h1.4v1.4h-1.4zM23 35h1.4v1.4h-1.4zM23 36h1.4v1.4h-1.4zM23 43h1.4v1.4h-1.4zM23 44h1.4v1.4h-1.4zM23 45h1.4v1.4h-1.4zM22 47h1.4v1.4h-1.4zM20 48h2.4v1.4h-2.4zM19 49h2.4v1.4h-2.4zM18 50h2.4v1.4h-2.4zM17 51h1.4v1.4h-1.4zM16 52h1.4v1.4h-1.4zM15 53h1.4v1.4h-1.4zM14 54h1.4v1.4h-1.4zM13 55h1.4v1.4h-1.4zM12 56h1.4v1.4h-1.4zM12 57h1.4v1.4h-1.4zM12 60h1.4v1.4h-1.4zM12 61h1.4v1.4h-1.4zM11 64h1.4v1.4h-1.4zM11 67h1.4v1.4h-1.4zM12 69h1.4v1.4h-1.4zM13 71h1.4v1.4h-1.4zM14 73h1.4v1.4h-1.4zM14 74h1.4v1.4h-1.4zM14 75h1.4v1.4h-1.4zM13 77h1.4v1.4h-1.4zM13 78h1.4v1.4h-1.4zM13 79h1.4v1.4h-1.4zM13 80h1.4v1.4h-1.4zM13 82h1.4v1.4h-1.4zM13 83h1.4v1.4h-1.4zM14 84h1.4v1.4h-1.4zM14 85h1.4v1.4h-1.4zM15 87h1.4v1.4h-1.4zM15 88h1.4v1.4h-1.4zM15 89h2.4v1.4h-2.4zM16 90h1.4v1.4h-1.4zM16 91h2.4v1.4h-2.4zM17 92h1.4v1.4h-1.4zM17 93h2.4v1.4h-2.4zM18 94h1.4v1.4h-1.4zM19 95h1.4v1.4h-1.4zM19 96h1.4v1.4h-1.4zM20 97h1.4v1.4h-1.4zM20 98h1.4v1.4h-1.4zM21 99h1.4v1.4h-1.4zM21 100h1.4v1.4h-1.4zM22 101h1.4v1.4h-1.4zM22 102h1.4v1.4h-1.4zM22 103h1.4v1.4h-1.4zM22 104h1.4v1.4h-1.4zM22 105h1.4v1.4h-1.4zM22 106h1.4v1.4h-1.4zM22 107h1.4v1.4h-1.4zM22 108h1.4v1.4h-1.4zM22 111h1.4v1.4h-1.4zM22 112h1.4v1.4h-1.4zM22 113h1.4v1.4h-1.4zM21 115h1.4v1.4h-1.4zM21 116h1.4v1.4h-1.4zM21 117h1.4v1.4h-1.4zM21 118h1.4v1.4h-1.4zM21 119h1.4v1.4h-1.4zM21 120h1.4v1.4h-1.4zM21 121h1.4v1.4h-1.4zM21 122h1.4v1.4h-1.4zM21 123h1.4v1.4h-1.4zM21 124h1.4v1.4h-1.4zM21 125h1.4v1.4h-1.4zM21 126h1.4v1.4h-1.4zM21 127h1.4v1.4h-1.4zM21 128h1.4v1.4h-1.4zM21 129h1.4v1.4h-1.4zM21 130h1.4v1.4h-1.4zM21 131h1.4v1h-1.4z"/><path fill="#009acf" d="M6 -2h2.4v1.4h-2.4zM6 -1h2.4v1.4h-2.4zM7 0h1.4v1.4h-1.4zM7 1h2.4v1.4h-2.4zM8 2h1.4v1.4h-1.4zM9 3h1.4v1.4h-1.4zM10 4h2.4v1.4h-2.4zM12 5h1.4v1.4h-1.4zM13 6h1.4v1.4h-1.4zM15 7h1.4v1.4h-1.4zM16 8h1.4v1.4h-1.4zM18 9h1.4v1.4h-1.4zM19 10h1.4v1.4h-1.4zM20 11h1.4v1.4h-1.4zM21 12h1.4v1.4h-1.4zM22 13h1.4v1.4h-1.4zM22 14h1.4v1.4h-1.4zM23 15h1.4v1.4h-1.4zM24 16h1.4v1.4h-1.4zM25 17h1.4v1.4h-1.4zM24 19h1.4v1.4h-1.4zM23 21h1.4v1.4h-1.4zM23 37h1.4v1.4h-1.4zM23 38h1.4v1.4h-1.4zM23 39h1.4v1.4h-1.4zM23 40h1.4v1.4h-1.4zM23 41h1.4v1.4h-1.4zM23 42h1.4v1.4h-1.4zM24 44h1.4v1.4h-1.4zM24 45h1.4v1.4h-1.4zM23 46h1.4v1.4h-1.4zM23 47h1.4v1.4h-1.4zM22 48h1.4v1.4h-1.4zM21 49h1.4v1.4h-1.4zM20 50h1.4v1.4h-1.4zM18 51h2.4v1.4h-2.4zM17 52h2.4v1.4h-2.4zM16 53h1.4v1.4h-1.4zM15 54h1.4v1.4h-1.4zM14 55h1.4v1.4h-1.4zM13 56h1.4v1.4h-1.4zM12 58h1.4v1.4h-1.4zM12 59h1.4v1.4h-1.4zM12 62h1.4v1.4h-1.4zM12 63h1.4v1.4h-1.4zM11 65h1.4v1.4h-1.4zM11 66h1.4v1.4h-1.4zM12 68h1.4v1.4h-1.4zM13 70h1.4v1.4h-1.4zM14 72h1.4v1.4h-1.4zM14 76h1.4v1.4h-1.4zM14 77h1.4v1.4h-1.4zM14 78h1.4v1.4h-1.4zM14 79h1.4v1.4h-1.4zM13 81h1.4v1.4h-1.4zM14 82h1.4v1.4h-1.4zM14 83h1.4v1.4h-1.4zM15 84h1.4v1.4h-1.4zM15 85h1.4v1.4h-1.4zM15 86h1.4v1.4h-1.4zM16 87h1.4v1.4h-1.4zM16 88h1.4v1.4h-1.4zM17 89h1.4v1.4h-1.4zM17 90h1.4v1.4h-1.4zM18 91h1.4v1.4h-1.4zM18 92h1.4v1.4h-1.4zM19 93h1.4v1.4h-1.4zM19 94h2.4v1.4h-2.4zM20 95h1.4v1.4h-1.4zM20 96h2.4v1.4h-2.4zM21 97h1.4v1.4h-1.4zM21 98h2.4v1.4h-2.4zM22 99h1.4v1.4h-1.4zM22 100h2.4v1.4h-2.4zM23 101h1.4v1.4h-1.4zM23 102h1.4v1.4h-1.4zM23 103h1.4v1.4h-1.4zM23 104h1.4v1.4h-1.4zM23 105h1.4v1.4h-1.4zM23 106h1.4v1.4h-1.4zM23 107h1.4v1.4h-1.4zM23 108h1.4v1.4h-1.4zM23 109h1.4v1.4h-1.4zM23 110h1.4v1.4h-1.4zM23 111h1.4v1.4h-1.4zM22 114h1.4v1.4h-1.4zM22 115h1.4v1.4h-1.4z"/><path fill="#009bcd" d="M8 -2h1.4v1.4h-1.4zM8 -1h1.4v1.4h-1.4zM8 0h2.4v1.4h-2.4zM9 1h1.4v1.4h-1.4zM9 2h2.4v1.4h-2.4zM10 3h2.4v1.4h-2.4zM12 4h1.4v1.4h-1.4zM13 5h1.4v1.4h-1.4zM14 6h1.4v1.4h-1.4zM16 7h1.4v1.4h-1.4zM17 8h2.4v1.4h-2.4zM19 9h1.4v1.4h-1.4zM20 10h1.4v1.4h-1.4zM21 11h1.4v1.4h-1.4zM22 12h1.4v1.4h-1.4zM23 13h1.4v1.4h-1.4zM23 14h1.4v1.4h-1.4zM24 15h1.4v1.4h-1.4zM25 16h1.4v1.4h-1.4zM25 18h1.4v1.4h-1.4zM24 42h1.4v1.4h-1.4zM24 43h1.4v1.4h-1.4zM25 45h1.4v1.4h-1.4zM24 46h1.4v1.4h-1.4zM24 47h1.4v1.4h-1.4zM23 48h1.4v1.4h-1.4zM22 49h1.4v1.4h-1.4zM21 50h1.4v1.4h-1.4zM20 51h1.4v1.4h-1.4zM19 52h1.4v1.4h-1.4zM17 53h2.4v1.4h-2.4zM16 54h2.4v1.4h-2.4zM15 55h1.4v1.4h-1.4zM14 56h1.4v1.4h-1.4zM13 57h1.4v1.4h-1.4zM13 58h1.4v1.4h-1.4zM13 59h1.4v1.4h-1.4zM13 60h1.4v1.4h-1.4zM13 61h1.4v1.4h-1.4zM13 62h1.4v1.4h-1.4zM12 64h1.4v1.4h-1.4zM12 67h1.4v1.4h-1.4zM13 69h1.4v1.4h-1.4zM14 71h1.4v1.4h-1.4zM15 73h1.4v1.4h-1.4zM15 74h1.4v1.4h-1.4zM15 75h1.4v1.4h-1.4zM15 76h1.4v1.4h-1.4zM15 77h1.4v1.4h-1.4zM14 80h1.4v1.4h-1.4zM14 81h1.4v1.4h-1.4zM15 82h1.4v1.4h-1.4zM15 83h1.4v1.4h-1.4zM16 85h1.4v1.4h-1.4zM16 86h1.4v1.4h-1.4zM17 87h1.4v1.4h-1.4zM17 88h1.4v1.4h-1.4zM18 89h1.4v1.4h-1.4zM18 90h1.4v1.4h-1.4zM19 91h1.4v1.4h-1.4zM19 92h2.4v1.4h-2.4zM20 93h1.4v1.4h-1.4zM21 94h1.4v1.4h-1.4zM21 95h1.4v1.4h-1.4zM22 96h1.4v1.4h-1.4zM22 97h2.4v1.4h-2.4zM23 98h1.4v1.4h-1.4zM23 99h1.4v1.4h-1.4zM24 100h1.4v1.4h-1.4zM24 101h1.4v1.4h-1.4zM24 102h1.4v1.4h-1.4zM24 103h1.4v1.4h-1.4zM24 104h1.4v1.4h-1.4zM24 105h1.4v1.4h-1.4zM24 106h1.4v1.4h-1.4zM24 107h1.4v1.4h-1.4zM24 108h1.4v1.4h-1.4zM24 109h1.4v1.4h-1.4zM23 112h1.4v1.4h-1.4zM23 113h1.4v1.4h-1.4zM23 114h1.4v1.4h-1.4zM22 116h1.4v1.4h-1.4zM22 117h1.4v1.4h-1.4zM22 118h1.4v1.4h-1.4zM22 119h1.4v1.4h-1.4zM22 120h1.4v1.4h-1.4zM22 121h1.4v1.4h-1.4zM22 122h1.4v1.4h-1.4zM22 123h1.4v1.4h-1.4zM22 124h1.4v1.4h-1.4zM22 125h1.4v1.4h-1.4zM22 126h1.4v1.4h-1.4zM22 127h1.4v1.4h-1.4zM22 128h1.4v1.4h-1.4zM22 129h1.4v1.4h-1.4zM22 130h1.4v1.4h-1.4zM22 131h1.4v1h-1.4z"/><path fill="#009dcb" d="M9 -2h2.4v1.4h-2.4zM9 -1h2.4v1.4h-2.4zM10 0h1.4v1.4h-1.4zM10 1h1.4v1.4h-1.4zM11 2h1.4v1.4h-1.4zM12 3h1.4v1.4h-1.4zM13 4h1.4v1.4h-1.4zM14 5h1.4v1.4h-1.4zM15 6h2.4v1.4h-2.4zM17 7h1.4v1.4h-1.4zM19 8h1.4v1.4h-1.4zM20 9h1.4v1.4h-1.4zM50 9h1.4v1.4h-1.4zM21 10h1.4v1.4h-1.4zM51 10h1.4v1.4h-1.4zM22 11h1.4v1.4h-1.4zM23 12h1.4v1.4h-1.4zM24 13h1.4v1.4h-1.4zM24 14h1.4v1.4h-1.4zM25 15h1.4v1.4h-1.4zM26 16h1.4v1.4h-1.4zM26 17h1.4v1.4h-1.4zM26 18h1.4v1.4h-1.4zM25 19h1.4v1.4h-1.4zM24 20h1.4v1.4h-1.4zM24 23h1.4v1.4h-1.4zM24 24h1.4v1.4h-1.4zM24 25h1.4v1.4h-1.4zM24 38h1.4v1.4h-1.4zM24 39h1.4v1.4h-1.4zM51 39h1.4v1.4h-1.4zM24 40h1.4v1.4h-1.4zM24 41h1.4v1.4h-1.4zM52 41h1.4v1.4h-1.4zM25 43h1.4v1.4h-1.4zM53 43h1.4v1.4h-1.4zM25 44h1.4v1.4h-1.4zM54 45h1.4v1.4h-1.4zM25 46h1.4v1.4h-1.4zM25 47h1.4v1.4h-1.4zM55 47h1.4v1.4h-1.4zM24 48h1.4v1.4h-1.4zM23 49h2.4v1.4h-2.4zM22 50h2.4v1.4h-2.4zM57 50h1.4v1.4h-1.4zM21 51h1.4v1.4h-1.4zM20 52h1.4v1.4h-1.4zM19 53h1.4v1.4h-1.4zM18 54h1.4v1.4h-1.4zM60 54h1.4v1.4h-1.4zM16 55h1.4v1.4h-1.4zM15 56h1.4v1.4h-1.4zM61 56h1.4v1.4h-1.4zM14 57h1.4v1.4h-1.4zM14 58h1.4v1.4h-1.4zM14 59h1.4v1.4h-1.4zM14 60h1.4v1.4h-1.4zM14 61h1.4v1.4h-1.4zM13 63h1.4v1.4h-1.4zM12 65h1.4v1.4h-1.4zM12 66h1.4v1.4h-1.4zM13 68h1.4v1.4h-1.4zM14 69h1.4v1.4h-1.4zM14 70h1.4v1.4h-1.4zM15 72h1.4v1.4h-1.4zM15 78h1.4v1.4h-1.4zM15 79h1.4v1.4h-1.4zM15 80h1.4v1.4h-1.4zM15 81h1.4v1.4h-1.4zM16 83h1.4v1.4h-1.4zM16 84h1.4v1.4h-1.4zM17 85h1.4v1.4h-1.4zM17 86h1.4v1.4h-1.4zM18 87h1.4v1.4h-1.4zM18 88h1.4v1.4h-1.4zM19 89h1.4v1.4h-1.4zM19 90h1.4v1.4h-1.4zM20 91h1.4v1.4h-1.4zM21 92h1.4v1.4h-1.4zM21 93h2.4v1.4h-2.4zM22 94h1.4v1.4h-1.4zM22 95h2.4v1.4h-2.4zM23 96h1.4v1.4h-1.4zM24 97h1.4v1.4h-1.4zM24 98h1.4v1.4h-1.4zM24 99h2.4v1.4h-2.4zM25 100h1.4v1.4h-1.4zM25 101h1.4v1.4h-1.4zM25 102h1.4v1.4h-1.4zM25 103h1.4v1.4h-1.4zM25 104h1.4v1.4h-1.4zM25 105h1.4v1.4h-1.4zM57 105h1.4v1.4h-1.4zM25 106h1.4v1.4h-1.4zM25 107h1.4v1.4h-1.4zM25 108h1.4v1.4h-1.4zM24 110h1.4v1.4h-1.4zM24 111h1.4v1.4h-1.4zM24 112h1.4v1.4h-1.4zM23 115h1.4v1.4h-1.4zM23 116h1.4v1.4h-1.4zM23 117h1.4v1.4h-1.4zM23 118h1.4v1.4h-1.4zM23 119h1.4v1.4h-1.4zM23 120h1.4v1.4h-1.4zM23 121h1.4v1.4h-1.4zM23 122h1.4v1.4h-1.4zM23 123h1.4v1.4h-1.4zM23 124h1.4v1.4h-1.4zM23 125h1.4v1.4h-1.4zM23 126h1.4v1.4h-1.4zM23 127h1.4v1.4h-1.4zM23 128h1.4v1.4h-1.4zM23 129h1.4v1.4h-1.4zM23 130h1.4v1.4h-1.4zM23 131h1.4v1h-1.4z"/><path fill="#009fc9" d="M11 -2h1.4v1.4h-1.4zM11 -1h1.4v1.4h-1.4zM11 0h2.4v1.4h-2.4zM11 1h2.4v1.4h-2.4zM50 1h1.4v1.4h-1.4zM12 2h2.4v1.4h-2.4zM13 3h1.4v1.4h-1.4zM48 3h1.4v1.4h-1.4zM14 4h1.4v1.4h-1.4zM15 5h1.4v1.4h-1.4zM17 6h1.4v1.4h-1.4zM48 6h1.4v1.4h-1.4zM18 7h1.4v1.4h-1.4zM20 8h1.4v1.4h-1.4zM21 9h1.4v1.4h-1.4zM22 10h1.4v1.4h-1.4zM23 11h1.4v1.4h-1.4zM24 12h1.4v1.4h-1.4zM25 13h1.4v1.4h-1.4zM25 14h1.4v1.4h-1.4zM26 15h1.4v1.4h-1.4zM57 15h1.4v1.4h-1.4zM27 16h1.4v1.4h-1.4zM27 17h1.4v1.4h-1.4zM24 21h1.4v1.4h-1.4zM24 22h1.4v1.4h-1.4zM24 26h1.4v1.4h-1.4zM58 28h1.4v1.4h-1.4zM56 30h1.4v1.4h-1.4zM53 34h1.4v1.4h-1.4zM24 36h1.4v1.4h-1.4zM24 37h1.4v1.4h-1.4zM51 37h1.4v1.4h-1.4zM25 41h1.4v1.4h-1.4zM25 42h1.4v1.4h-1.4zM26 44h1.4v1.4h-1.4zM26 45h1.4v1.4h-1.4zM26 46h1.4v1.4h-1.4zM26 47h1.4v1.4h-1.4zM25 48h1.4v1.4h-1.4zM25 49h1.4v1.4h-1.4zM24 50h1.4v1.4h-1.4zM22 51h2.4v1.4h-2.4zM21 52h2.4v1.4h-2.4zM20 53h1.4v1.4h-1.4zM19 54h1.4v1.4h-1.4zM17 55h2.4v1.4h-2.4zM16 56h1.4v1.4h-1.4zM15 57h1.4v1.4h-1.4zM15 58h1.4v1.4h-1.4zM62 59h1.4v1.4h-1.4zM14 62h1.4v1.4h-1.4zM62 63h1.4v1.4h-1.4zM13 64h1.4v1.4h-1.4zM13 65h1.4v1.4h-1.4zM13 66h1.4v1.4h-1.4zM61 66h1.4v1.4h-1.4zM13 67h1.4v1.4h-1.4zM14 68h1.4v1.4h-1.4zM60 69h1.4v1.4h-1.4zM15 70h1.4v1.4h-1.4zM15 71h1.4v1.4h-1.4zM16 73h1.4v1.4h-1.4zM59 73h1.4v1.4h-1.4zM16 74h1.4v1.4h-1.4zM16 75h1.4v1.4h-1.4zM16 76h1.4v1.4h-1.4zM58 76h1.4v1.4h-1.4zM16 77h1.4v1.4h-1.4zM16 78h1.4v1.4h-1.4zM57 78h1.4v1.4h-1.4zM16 79h1.4v1.4h-1.4zM16 80h1.4v1.4h-1.4zM16 81h1.4v1.4h-1.4zM16 82h1.4v1.4h-1.4zM17 83h1.4v1.4h-1.4zM17 84h1.4v1.4h-1.4zM18 85h1.4v1.4h-1.4zM51 85h1.4v1.4h-1.4zM18 86h1.4v1.4h-1.4zM19 87h1.4v1.4h-1.4zM51 87h1.4v1.4h-1.4zM19 88h1.4v1.4h-1.4zM20 89h1.4v1.4h-1.4zM20 90h1.4v1.4h-1.4zM52 90h1.4v1.4h-1.4zM21 91h1.4v1.4h-1.4zM22 92h1.4v1.4h-1.4zM23 93h1.4v1.4h-1.4zM54 93h1.4v1.4h-1.4zM23 94h1.4v1.4h-1.4zM24 95h1.4v1.4h-1.4zM24 96h2.4v1.4h-2.4zM25 97h1.4v1.4h-1.4zM25 98h2.4v1.4h-2.4zM26 99h1.4v1.4h-1.4zM26 100h1.4v1.4h-1.4zM26 101h1.4v1.4h-1.4zM26 102h1.4v1.4h-1.4zM55 102h1.4v1.4h-1.4zM26 103h1.4v1.4h-1.4zM26 104h1.4v1.4h-1.4zM26 105h1.4v1.4h-1.4zM26 106h1.4v1.4h-1.4zM26 107h1.4v1.4h-1.4zM25 109h1.4v1.4h-1.4zM25 110h1.4v1.4h-1.4zM25 111h1.4v1.4h-1.4zM24 113h1.4v1.4h-1.4zM24 114h1.4v1.4h-1.4zM24 115h1.4v1.4h-1.4zM65 115h1.4v1.4h-1.4zM66 118h1.4v1.4h-1.4zM67 123h1.4v1.4h-1.4z"/><path fill="#00a1c7" d="M12 -2h2.4v1.4h-2.4zM12 -1h2.4v1.4h-2.4zM13 0h1.4v1.4h-1.4zM13 1h1.4v1.4h-1.4zM14 2h1.4v1.4h-1.4zM14 3h2.4v1.4h-2.4zM15 4h2.4v1.4h-2.4zM16 5h2.4v1.4h-2.4zM18 6h1.4v1.4h-1.4zM19 7h1.4v1.4h-1.4zM21 8h1.4v1.4h-1.4zM22 9h1.4v1.4h-1.4zM23 10h1.4v1.4h-1.4zM24 11h1.4v1.4h-1.4zM25 12h1.4v1.4h-1.4zM26 13h1.4v1.4h-1.4zM26 14h1.4v1.4h-1.4zM27 15h1.4v1.4h-1.4zM28 16h1.4v1.4h-1.4zM28 17h1.4v1.4h-1.4zM27 18h1.4v1.4h-1.4zM26 19h1.4v1.4h-1.4zM25 20h1.4v1.4h-1.4zM24 27h1.4v1.4h-1.4zM24 35h1.4v1.4h-1.4zM25 39h1.4v1.4h-1.4zM25 40h1.4v1.4h-1.4zM26 42h1.4v1.4h-1.4zM26 43h1.4v1.4h-1.4zM27 44h1.4v1.4h-1.4zM27 45h1.4v1.4h-1.4zM27 46h1.4v1.4h-1.4zM27 47h1.4v1.4h-1.4zM26 48h2.4v1.4h-2.4zM26 49h1.4v1.4h-1.4zM25 50h1.4v1.4h-1.4zM24 51h1.4v1.4h-1.4zM23 52h1.4v1.4h-1.4zM21 53h2.4v1.4h-2.4zM20 54h1.4v1.4h-1.4zM19 55h1.4v1.4h-1.4zM17 56h1.4v1.4h-1.4zM16 57h1.4v1.4h-1.4zM15 59h1.4v1.4h-1.4zM15 60h1.4v1.4h-1.4zM15 61h1.4v1.4h-1.4zM15 62h1.4v1.4h-1.4zM14 63h1.4v1.4h-1.4zM14 64h1.4v1.4h-1.4zM14 67h1.4v1.4h-1.4zM15 69h1.4v1.4h-1.4zM16 71h1.4v1.4h-1.4zM16 72h1.4v1.4h-1.4zM17 74h1.4v1.4h-1.4zM17 75h1.4v1.4h-1.4zM17 76h1.4v1.4h-1.4zM17 77h1.4v1.4h-1.4zM17 78h1.4v1.4h-1.4zM17 79h1.4v1.4h-1.4zM17 80h1.4v1.4h-1.4zM17 81h1.4v1.4h-1.4zM17 82h1.4v1.4h-1.4zM18 83h1.4v1.4h-1.4zM18 84h1.4v1.4h-1.4zM19 85h1.4v1.4h-1.4zM19 86h1.4v1.4h-1.4zM20 87h1.4v1.4h-1.4zM20 88h1.4v1.4h-1.4zM21 89h1.4v1.4h-1.4zM21 90h2.4v1.4h-2.4zM22 91h1.4v1.4h-1.4zM23 92h1.4v1.4h-1.4zM24 93h1.4v1.4h-1.4zM24 94h2.4v1.4h-2.4zM25 95h1.4v1.4h-1.4zM26 96h1.4v1.4h-1.4zM26 97h1.4v1.4h-1.4zM27 98h1.4v1.4h-1.4zM27 99h1.4v1.4h-1.4zM27 100h1.4v1.4h-1.4zM27 101h1.4v1.4h-1.4zM27 102h1.4v1.4h-1.4zM27 103h1.4v1.4h-1.4zM27 104h1.4v1.4h-1.4zM27 105h1.4v1.4h-1.4zM27 106h1.4v1.4h-1.4zM26 108h1.4v1.4h-1.4zM26 109h1.4v1.4h-1.4zM26 110h1.4v1.4h-1.4zM25 112h1.4v1.4h-1.4zM25 113h1.4v1.4h-1.4zM24 116h1.4v1.4h-1.4zM24 117h1.4v1.4h-1.4zM24 118h1.4v1.4h-1.4zM24 119h1.4v1.4h-1.4zM24 120h1.4v1.4h-1.4zM24 121h1.4v1.4h-1.4zM24 122h1.4v1.4h-1.4zM24 123h1.4v1.4h-1.4zM24 124h1.4v1.4h-1.4zM24 125h1.4v1.4h-1.4zM24 126h1.4v1.4h-1.4zM24 127h1.4v1.4h-1.4zM24 128h1.4v1.4h-1.4zM24 129h1.4v1.4h-1.4zM24 130h1.4v1.4h-1.4zM24 131h1.4v1h-1.4z"/><path fill="#00a2c5" d="M14 -2h1.4v1.4h-1.4zM14 -1h1.4v1.4h-1.4zM14 0h1.4v1.4h-1.4zM14 1h2.4v1.4h-2.4zM15 2h1.4v1.4h-1.4zM16 3h1.4v1.4h-1.4zM17 4h1.4v1.4h-1.4zM18 5h1.4v1.4h-1.4zM19 6h1.4v1.4h-1.4zM20 7h2.4v1.4h-2.4zM22 8h1.4v1.4h-1.4zM23 9h1.4v1.4h-1.4zM24 10h1.4v1.4h-1.4zM25 11h1.4v1.4h-1.4zM26 12h1.4v1.4h-1.4zM27 13h1.4v1.4h-1.4zM27 14h1.4v1.4h-1.4zM28 15h1.4v1.4h-1.4zM29 16h1.4v1.4h-1.4zM29 17h1.4v1.4h-1.4zM28 18h1.4v1.4h-1.4zM27 19h1.4v1.4h-1.4zM24 28h1.4v1.4h-1.4zM24 29h1.4v1.4h-1.4zM24 33h1.4v1.4h-1.4zM24 34h1.4v1.4h-1.4zM25 38h1.4v1.4h-1.4zM26 41h1.4v1.4h-1.4zM27 43h1.4v1.4h-1.4zM28 45h1.4v1.4h-1.4zM28 46h1.4v1.4h-1.4zM28 47h1.4v1.4h-1.4zM28 48h1.4v1.4h-1.4zM27 49h2.4v1.4h-2.4zM26 50h2.4v1.4h-2.4zM25 51h2.4v1.4h-2.4zM24 52h1.4v1.4h-1.4zM23 53h1.4v1.4h-1.4zM21 54h1.4v1.4h-1.4zM20 55h1.4v1.4h-1.4zM18 56h1.4v1.4h-1.4zM17 57h1.4v1.4h-1.4zM16 58h1.4v1.4h-1.4zM16 59h1.4v1.4h-1.4zM16 60h1.4v1.4h-1.4zM16 61h1.4v1.4h-1.4zM15 63h1.4v1.4h-1.4zM14 65h1.4v1.4h-1.4zM14 66h1.4v1.4h-1.4zM15 68h1.4v1.4h-1.4zM16 70h1.4v1.4h-1.4zM17 72h1.4v1.4h-1.4zM17 73h1.4v1.4h-1.4zM18 78h1.4v1.4h-1.4zM18 79h1.4v1.4h-1.4zM18 80h1.4v1.4h-1.4zM18 81h1.4v1.4h-1.4zM18 82h1.4v1.4h-1.4zM19 83h1.4v1.4h-1.4zM19 84h1.4v1.4h-1.4zM20 85h1.4v1.4h-1.4zM20 86h1.4v1.4h-1.4zM21 87h1.4v1.4h-1.4zM21 88h1.4v1.4h-1.4zM22 89h1.4v1.4h-1.4zM23 90h1.4v1.4h-1.4zM23 91h1.4v1.4h-1.4zM24 92h1.4v1.4h-1.4zM25 93h1.4v1.4h-1.4zM26 94h1.4v1.4h-1.4zM26 95h2.4v1.4h-2.4zM27 96h1.4v1.4h-1.4zM27 97h2.4v1.4h-2.4zM28 98h1.4v1.4h-1.4zM28 99h1.4v1.4h-1.4zM28 100h1.4v1.4h-1.4zM28 101h2.4v1.4h-2.4zM28 102h1.4v1.4h-1.4zM28 103h1.4v1.4h-1.4zM28 104h1.4v1.4h-1.4zM28 105h1.4v1.4h-1.4zM28 106h1.4v1.4h-1.4zM27 107h1.4v1.4h-1.4zM27 108h1.4v1.4h-1.4zM27 109h1.4v1.4h-1.4zM26 111h1.4v1.4h-1.4zM26 112h1.4v1.4h-1.4zM25 114h1.4v1.4h-1.4zM25 115h1.4v1.4h-1.4zM25 116h1.4v1.4h-1.4zM25 117h1.4v1.4h-1.4zM25 118h1.4v1.4h-1.4zM25 119h1.4v1.4h-1.4zM25 120h1.4v1.4h-1.4zM25 121h1.4v1.4h-1.4zM25 122h1.4v1.4h-1.4zM25 123h1.4v1.4h-1.4zM25 124h1.4v1.4h-1.4zM25 125h1.4v1.4h-1.4zM25 126h1.4v1.4h-1.4zM25 127h1.4v1.4h-1.4zM25 128h1.4v1.4h-1.4zM25 129h1.4v1.4h-1.4zM25 130h1.4v1.4h-1.4zM25 131h1.4v1h-1.4z"/><path fill="#00a4c3" d="M15 -2h2.4v1.4h-2.4zM15 -1h2.4v1.4h-2.4zM15 0h2.4v1.4h-2.4zM16 1h1.4v1.4h-1.4zM16 2h2.4v1.4h-2.4zM17 3h1.4v1.4h-1.4zM18 4h1.4v1.4h-1.4zM19 5h1.4v1.4h-1.4zM20 6h1.4v1.4h-1.4zM22 7h1.4v1.4h-1.4zM23 8h1.4v1.4h-1.4zM24 9h1.4v1.4h-1.4zM25 10h1.4v1.4h-1.4zM26 11h1.4v1.4h-1.4zM27 12h1.4v1.4h-1.4zM28 13h1.4v1.4h-1.4zM28 14h1.4v1.4h-1.4zM29 15h1.4v1.4h-1.4zM30 16h1.4v1.4h-1.4zM30 17h1.4v1.4h-1.4zM26 20h1.4v1.4h-1.4zM25 21h1.4v1.4h-1.4zM24 30h1.4v1.4h-1.4zM24 31h1.4v1.4h-1.4zM24 32h1.4v1.4h-1.4zM25 37h1.4v1.4h-1.4zM26 40h1.4v1.4h-1.4zM27 42h1.4v1.4h-1.4zM28 44h1.4v1.4h-1.4zM29 45h1.4v1.4h-1.4zM29 46h1.4v1.4h-1.4zM29 47h1.4v1.4h-1.4zM29 48h1.4v1.4h-1.4zM29 49h1.4v1.4h-1.4zM28 50h1.4v1.4h-1.4zM27 51h1.4v1.4h-1.4zM25 52h2.4v1.4h-2.4zM24 53h1.4v1.4h-1.4zM22 54h1.4v1.4h-1.4zM21 55h1.4v1.4h-1.4zM19 56h1.4v1.4h-1.4zM18 57h1.4v1.4h-1.4zM17 58h1.4v1.4h-1.4zM17 59h1.4v1.4h-1.4zM17 60h1.4v1.4h-1.4zM16 62h1.4v1.4h-1.4zM15 64h1.4v1.4h-1.4zM15 65h1.4v1.4h-1.4zM15 66h1.4v1.4h-1.4zM15 67h1.4v1.4h-1.4zM16 68h1.4v1.4h-1.4zM16 69h1.4v1.4h-1.4zM17 71h1.4v1.4h-1.4zM18 74h1.4v1.4h-1.4zM18 75h1.4v1.4h-1.4zM18 76h1.4v1.4h-1.4zM18 77h1.4v1.4h-1.4zM19 79h1.4v1.4h-1.4zM19 80h1.4v1.4h-1.4zM19 81h1.4v1.4h-1.4zM19 82h1.4v1.4h-1.4zM20 83h1.4v1.4h-1.4zM20 84h1.4v1.4h-1.4zM21 85h1.4v1.4h-1.4zM21 86h1.4v1.4h-1.4zM22 87h1.4v1.4h-1.4zM22 88h1.4v1.4h-1.4zM23 89h1.4v1.4h-1.4zM24 90h1.4v1.4h-1.4zM24 91h2.4v1.4h-2.4zM25 92h2.4v1.4h-2.4zM26 93h1.4v1.4h-1.4zM27 94h1.4v1.4h-1.4zM28 95h1.4v1.4h-1.4zM28 96h1.4v1.4h-1.4zM29 97h1.4v1.4h-1.4zM29 98h1.4v1.4h-1.4zM29 99h2.4v1.4h-2.4zM29 100h2.4v1.4h-2.4zM30 101h1.4v1.4h-1.4zM29 102h2.4v1.4h-2.4zM29 103h1.4v1.4h-1.4zM29 104h1.4v1.4h-1.4zM29 105h1.4v1.4h-1.4zM28 107h1.4v1.4h-1.4zM28 108h1.4v1.4h-1.4zM28 109h1.4v1.4h-1.4zM27 110h1.4v1.4h-1.4zM27 111h1.4v1.4h-1.4zM26 113h1.4v1.4h-1.4zM26 114h1.4v1.4h-1.4z"/><path fill="#00a6c1" d="M17 -2h1.4v1.4h-1.4zM17 -1h1.4v1.4h-1.4zM17 0h1.4v1.4h-1.4zM17 1h2.4v1.4h-2.4zM18 2h1.4v1.4h-1.4zM18 3h2.4v1.4h-2.4zM19 4h1.4v1.4h-1.4zM20 5h1.4v1.4h-1.4zM21 6h1.4v1.4h-1.4zM23 7h1.4v1.4h-1.4zM24 8h1.4v1.4h-1.4zM25 9h1.4v1.4h-1.4zM26 10h1.4v1.4h-1.4zM27 11h1.4v1.4h-1.4zM28 12h1.4v1.4h-1.4zM29 13h1.4v1.4h-1.4zM29 14h1.4v1.4h-1.4zM30 15h1.4v1.4h-1.4zM29 18h1.4v1.4h-1.4zM28 19h1.4v1.4h-1.4zM25 22h1.4v1.4h-1.4zM25 23h1.4v1.4h-1.4zM26 39h1.4v1.4h-1.4zM27 41h1.4v1.4h-1.4zM28 43h1.4v1.4h-1.4zM29 44h1.4v1.4h-1.4zM30 46h1.4v1.4h-1.4zM30 47h1.4v1.4h-1.4zM30 48h1.4v1.4h-1.4zM30 49h1.4v1.4h-1.4zM29 50h1.4v1.4h-1.4zM28 51h1.4v1.4h-1.4zM27 52h1.4v1.4h-1.4zM25 53h1.4v1.4h-1.4zM23 54h1.4v1.4h-1.4zM22 55h1.4v1.4h-1.4zM20 56h1.4v1.4h-1.4zM18 58h1.4v1.4h-1.4zM17 61h1.4v1.4h-1.4zM16 63h1.4v1.4h-1.4zM16 67h1.4v1.4h-1.4zM17 69h1.4v1.4h-1.4zM17 70h1.4v1.4h-1.4zM18 72h1.4v1.4h-1.4zM18 73h1.4v1.4h-1.4zM19 76h1.4v1.4h-1.4zM19 77h1.4v1.4h-1.4zM19 78h1.4v1.4h-1.4zM20 81h1.4v1.4h-1.4zM20 82h1.4v1.4h-1.4zM21 84h1.4v1.4h-1.4zM22 86h1.4v1.4h-1.4zM23 88h1.4v1.4h-1.4zM24 89h1.4v1.4h-1.4zM25 90h1.4v1.4h-1.4zM27 93h1.4v1.4h-1.4zM28 94h1.4v1.4h-1.4zM29 95h1.4v1.4h-1.4zM29 96h2.4v1.4h-2.4zM30 97h1.4v1.4h-1.4zM30 98h1.4v1.4h-1.4zM31 99h1.4v1.4h-1.4zM31 100h1.4v1.4h-1.4zM31 101h1.4v1.4h-1.4zM30 103h1.4v1.4h-1.4zM30 104h1.4v1.4h-1.4zM29 106h1.4v1.4h-1.4zM29 107h1.4v1.4h-1.4zM29 108h1.4v1.4h-1.4zM28 110h1.4v1.4h-1.4zM27 112h1.4v1.4h-1.4zM26 115h1.4v1.4h-1.4zM26 116h1.4v1.4h-1.4zM26 117h1.4v1.4h-1.4zM26 118h1.4v1.4h-1.4zM26 119h1.4v1.4h-1.4zM26 120h1.4v1.4h-1.4zM26 121h1.4v1.4h-1.4zM26 122h1.4v1.4h-1.4zM26 123h1.4v1.4h-1.4zM26 124h1.4v1.4h-1.4zM26 125h1.4v1.4h-1.4zM26 126h1.4v1.4h-1.4zM26 127h1.4v1.4h-1.4zM26 128h1.4v1.4h-1.4zM26 129h1.4v1.4h-1.4zM26 130h1.4v1.4h-1.4zM26 131h1.4v1h-1.4z"/><path fill="#00a7bf" d="M18 -2h1.4v1.4h-1.4zM18 -1h1.4v1.4h-1.4zM18 0h1.4v1.4h-1.4zM19 2h1.4v1.4h-1.4zM20 4h1.4v1.4h-1.4zM21 5h1.4v1.4h-1.4zM22 6h1.4v1.4h-1.4zM25 8h1.4v1.4h-1.4zM26 9h1.4v1.4h-1.4zM27 10h1.4v1.4h-1.4zM28 11h1.4v1.4h-1.4zM29 12h1.4v1.4h-1.4zM30 14h1.4v1.4h-1.4zM31 15h1.4v1.4h-1.4zM31 16h1.4v1.4h-1.4zM31 17h1.4v1.4h-1.4zM30 18h1.4v1.4h-1.4zM25 24h1.4v1.4h-1.4zM25 36h1.4v1.4h-1.4zM28 42h1.4v1.4h-1.4zM30 45h1.4v1.4h-1.4zM31 47h1.4v1.4h-1.4zM31 48h1.4v1.4h-1.4zM31 49h1.4v1.4h-1.4zM30 50h1.4v1.4h-1.4zM29 51h1.4v1.4h-1.4zM26 53h1.4v1.4h-1.4zM24 54h1.4v1.4h-1.4zM21 56h1.4v1.4h-1.4zM19 57h1.4v1.4h-1.4zM18 59h1.4v1.4h-1.4zM18 60h1.4v1.4h-1.4zM17 62h1.4v1.4h-1.4zM16 64h1.4v1.4h-1.4zM16 65h1.4v1.4h-1.4zM16 66h1.4v1.4h-1.4zM18 71h1.4v1.4h-1.4zM19 75h1.4v1.4h-1.4zM20 79h1.4v1.4h-1.4zM20 80h1.4v1.4h-1.4zM21 82h1.4v1.4h-1.4zM21 83h1.4v1.4h-1.4zM22 85h1.4v1.4h-1.4zM23 87h1.4v1.4h-1.4zM24 88h1.4v1.4h-1.4zM26 91h1.4v1.4h-1.4zM27 92h1.4v1.4h-1.4zM28 93h1.4v1.4h-1.4zM29 94h1.4v1.4h-1.4zM30 95h1.4v1.4h-1.4zM31 97h1.4v1.4h-1.4zM31 98h1.4v1.4h-1.4zM31 102h1.4v1.4h-1.4zM31 103h1.4v1.4h-1.4zM30 105h1.4v1.4h-1.4zM30 106h1.4v1.4h-1.4zM29 109h1.4v1.4h-1.4zM28 111h1.4v1.4h-1.4zM27 113h1.4v1.4h-1.4zM27 114h1.4v1.4h-1.4z"/><path fill="#00a9bc" d="M19 -2h1.4v1.4h-1.4zM19 -1h1.4v1.4h-1.4zM19 0h1.4v1.4h-1.4zM19 1h1.4v1.4h-1.4zM20 3h1.4v1.4h-1.4zM24 7h1.4v1.4h-1.4zM27 9h1.4v1.4h-1.4zM28 10h1.4v1.4h-1.4zM30 13h1.4v1.4h-1.4zM31 14h1.4v1.4h-1.4zM32 16h1.4v1.4h-1.4zM32 17h1.4v1.4h-1.4zM27 20h1.4v1.4h-1.4zM26 21h1.4v1.4h-1.4zM25 25h1.4v1.4h-1.4zM25 35h1.4v1.4h-1.4zM26 38h1.4v1.4h-1.4zM27 40h1.4v1.4h-1.4zM29 43h1.4v1.4h-1.4zM31 46h1.4v1.4h-1.4zM31 50h1.4v1.4h-1.4zM28 52h1.4v1.4h-1.4zM27 53h1.4v1.4h-1.4zM25 54h1.4v1.4h-1.4zM23 55h1.4v1.4h-1.4zM20 57h1.4v1.4h-1.4zM19 58h1.4v1.4h-1.4zM18 61h1.4v1.4h-1.4zM17 63h1.4v1.4h-1.4zM17 68h1.4v1.4h-1.4zM18 70h1.4v1.4h-1.4zM19 73h1.4v1.4h-1.4zM19 74h1.4v1.4h-1.4zM20 77h1.4v1.4h-1.4zM20 78h1.4v1.4h-1.4zM21 81h1.4v1.4h-1.4zM22 83h1.4v1.4h-1.4zM22 84h1.4v1.4h-1.4zM23 86h1.4v1.4h-1.4zM25 89h1.4v1.4h-1.4zM26 90h1.4v1.4h-1.4zM27 91h1.4v1.4h-1.4zM28 92h1.4v1.4h-1.4zM29 93h1.4v1.4h-1.4zM30 94h1.4v1.4h-1.4zM31 96h1.4v1.4h-1.4zM32 98h1.4v1.4h-1.4zM32 99h1.4v1.4h-1.4zM32 100h1.4v1.4h-1.4zM32 101h1.4v1.4h-1.4zM32 102h1.4v1.4h-1.4zM31 104h1.4v1.4h-1.4zM30 107h1.4v1.4h-1.4zM28 112h1.4v1.4h-1.4zM27 115h1.4v1.4h-1.4z"/><path fill="#00aab9" d="M20 2h1.4v1.4h-1.4zM21 4h1.4v1.4h-1.4zM22 5h1.4v1.4h-1.4zM23 6h1.4v1.4h-1.4zM26 8h1.4v1.4h-1.4zM29 11h1.4v1.4h-1.4zM30 12h1.4v1.4h-1.4zM31 13h1.4v1.4h-1.4zM32 15h1.4v1.4h-1.4zM31 18h1.4v1.4h-1.4zM29 19h1.4v1.4h-1.4zM25 26h1.4v1.4h-1.4zM28 41h1.4v1.4h-1.4zM30 44h1.4v1.4h-1.4zM31 45h1.4v1.4h-1.4zM32 48h1.4v1.4h-1.4zM32 49h1.4v1.4h-1.4zM30 51h1.4v1.4h-1.4zM29 52h1.4v1.4h-1.4zM24 55h1.4v1.4h-1.4zM22 56h1.4v1.4h-1.4zM19 59h1.4v1.4h-1.4zM19 60h1.4v1.4h-1.4zM18 62h1.4v1.4h-1.4zM17 64h1.4v1.4h-1.4zM17 67h1.4v1.4h-1.4zM18 69h1.4v1.4h-1.4zM19 72h1.4v1.4h-1.4zM20 76h1.4v1.4h-1.4zM21 79h1.4v1.4h-1.4zM21 80h1.4v1.4h-1.4zM52 83h1.4v1.4h-1.4zM23 85h1.4v1.4h-1.4zM24 87h1.4v1.4h-1.4zM31 95h1.4v1.4h-1.4zM32 97h1.4v1.4h-1.4zM32 103h1.4v1.4h-1.4zM31 105h1.4v1.4h-1.4zM30 108h1.4v1.4h-1.4zM29 110h1.4v1.4h-1.4zM27 116h1.4v1.4h-1.4zM27 117h1.4v1.4h-1.4zM27 118h1.4v1.4h-1.4zM27 119h1.4v1.4h-1.4zM27 120h1.4v1.4h-1.4zM27 121h1.4v1.4h-1.4zM27 122h1.4v1.4h-1.4zM27 126h1.4v1.4h-1.4zM27 127h1.4v1.4h-1.4zM27 128h1.4v1.4h-1.4zM27 129h1.4v1.4h-1.4zM27 130h1.4v1.4h-1.4zM27 131h1.4v1h-1.4z"/><path fill="#00abb6" d="M20 -2h1.4v1.4h-1.4zM20 -1h1.4v1.4h-1.4zM20 0h1.4v1.4h-1.4zM20 1h1.4v1.4h-1.4zM21 3h1.4v1.4h-1.4zM25 7h1.4v1.4h-1.4zM29 10h1.4v1.4h-1.4zM32 14h1.4v1.4h-1.4zM33 16h1.4v1.4h-1.4zM33 17h1.4v1.4h-1.4zM26 22h1.4v1.4h-1.4zM26 37h1.4v1.4h-1.4zM27 39h1.4v1.4h-1.4zM29 42h1.4v1.4h-1.4zM32 47h1.4v1.4h-1.4zM32 50h1.4v1.4h-1.4zM28 53h1.4v1.4h-1.4zM26 54h1.4v1.4h-1.4zM21 57h1.4v1.4h-1.4zM20 58h1.4v1.4h-1.4zM19 61h1.4v1.4h-1.4zM18 63h1.4v1.4h-1.4zM17 65h1.4v1.4h-1.4zM17 66h1.4v1.4h-1.4zM18 68h1.4v1.4h-1.4zM19 71h1.4v1.4h-1.4zM20 75h1.4v1.4h-1.4zM21 78h1.4v1.4h-1.4zM22 82h1.4v1.4h-1.4zM23 84h1.4v1.4h-1.4zM24 86h1.4v1.4h-1.4zM25 88h1.4v1.4h-1.4zM32 96h1.4v1.4h-1.4zM33 98h1.4v1.4h-1.4zM33 99h1.4v1.4h-1.4zM33 100h1.4v1.4h-1.4zM33 101h1.4v1.4h-1.4zM31 106h1.4v1.4h-1.4zM30 109h1.4v1.4h-1.4zM29 111h1.4v1.4h-1.4zM28 113h1.4v1.4h-1.4zM27 123h1.4v1.4h-1.4zM27 124h1.4v1.4h-1.4zM27 125h1.4v1.4h-1.4z"/><path fill="#00adb2" d="M21 2h1.4v1.4h-1.4zM22 4h1.4v1.4h-1.4zM24 6h1.4v1.4h-1.4zM27 8h1.4v1.4h-1.4zM28 9h1.4v1.4h-1.4zM30 11h1.4v1.4h-1.4zM31 12h1.4v1.4h-1.4zM32 13h1.4v1.4h-1.4zM33 15h1.4v1.4h-1.4zM32 18h1.4v1.4h-1.4zM30 19h1.4v1.4h-1.4zM28 20h1.4v1.4h-1.4zM26 23h1.4v1.4h-1.4zM25 27h1.4v1.4h-1.4zM25 34h1.4v1.4h-1.4zM30 43h1.4v1.4h-1.4zM32 46h1.4v1.4h-1.4zM33 49h1.4v1.4h-1.4zM31 51h1.4v1.4h-1.4zM30 52h1.4v1.4h-1.4zM23 56h1.4v1.4h-1.4zM20 59h1.4v1.4h-1.4zM19 70h1.4v1.4h-1.4zM20 74h1.4v1.4h-1.4zM21 77h1.4v1.4h-1.4zM22 81h1.4v1.4h-1.4zM23 83h1.4v1.4h-1.4zM26 89h1.4v1.4h-1.4zM27 90h1.4v1.4h-1.4zM28 91h1.4v1.4h-1.4zM29 92h1.4v1.4h-1.4zM30 93h1.4v1.4h-1.4zM31 94h1.4v1.4h-1.4zM33 97h1.4v1.4h-1.4zM33 102h1.4v1.4h-1.4zM32 104h1.4v1.4h-1.4zM31 107h1.4v1.4h-1.4zM28 114h1.4v1.4h-1.4z"/><path fill="#00aeaf" d="M23 5h1.4v1.4h-1.4zM26 7h1.4v1.4h-1.4zM33 14h1.4v1.4h-1.4zM34 16h1.4v1.4h-1.4zM27 21h1.4v1.4h-1.4zM25 28h1.4v1.4h-1.4zM28 40h1.4v1.4h-1.4zM31 44h1.4v1.4h-1.4zM33 48h1.4v1.4h-1.4zM29 53h1.4v1.4h-1.4zM27 54h1.4v1.4h-1.4zM25 55h1.4v1.4h-1.4zM20 60h1.4v1.4h-1.4zM19 62h1.4v1.4h-1.4zM18 64h1.4v1.4h-1.4zM18 67h1.4v1.4h-1.4zM19 69h1.4v1.4h-1.4zM20 73h1.4v1.4h-1.4zM21 76h1.4v1.4h-1.4zM22 80h1.4v1.4h-1.4zM24 85h1.4v1.4h-1.4zM25 87h1.4v1.4h-1.4zM32 95h1.4v1.4h-1.4zM32 105h1.4v1.4h-1.4zM31 108h1.4v1.4h-1.4zM30 110h1.4v1.4h-1.4zM29 112h1.4v1.4h-1.4z"/><path fill="#00afac" d="M21 -2h1.4v1.4h-1.4zM21 -1h1.4v1.4h-1.4zM21 0h1.4v1.4h-1.4zM21 1h1.4v1.4h-1.4zM22 3h1.4v1.4h-1.4zM29 9h1.4v1.4h-1.4zM30 10h1.4v1.4h-1.4zM31 11h1.4v1.4h-1.4zM32 12h1.4v1.4h-1.4zM33 13h1.4v1.4h-1.4zM34 15h1.4v1.4h-1.4zM34 17h1.4v1.4h-1.4zM25 33h1.4v1.4h-1.4zM26 36h1.4v1.4h-1.4zM27 38h1.4v1.4h-1.4zM33 47h1.4v1.4h-1.4zM33 50h1.4v1.4h-1.4zM32 51h1.4v1.4h-1.4zM22 57h1.4v1.4h-1.4zM21 58h1.4v1.4h-1.4zM20 61h1.4v1.4h-1.4zM19 63h1.4v1.4h-1.4zM18 65h1.4v1.4h-1.4zM18 66h1.4v1.4h-1.4zM20 72h1.4v1.4h-1.4zM22 79h1.4v1.4h-1.4zM23 82h1.4v1.4h-1.4zM24 84h1.4v1.4h-1.4zM26 88h1.4v1.4h-1.4zM33 96h1.4v1.4h-1.4zM34 98h1.4v1.4h-1.4zM34 99h1.4v1.4h-1.4zM34 100h1.4v1.4h-1.4zM34 101h1.4v1.4h-1.4zM33 103h1.4v1.4h-1.4zM28 115h1.4v1.4h-1.4z"/><path fill="#00b0a9" d="M22 2h1.4v1.4h-1.4zM23 4h1.4v1.4h-1.4zM25 6h1.4v1.4h-1.4zM28 8h1.4v1.4h-1.4zM34 14h1.4v1.4h-1.4zM35 16h1.4v1.4h-1.4zM33 18h1.4v1.4h-1.4zM31 19h1.4v1.4h-1.4zM29 20h1.4v1.4h-1.4zM26 24h1.4v1.4h-1.4zM25 29h1.4v1.4h-1.4zM25 30h1.4v1.4h-1.4zM25 31h1.4v1.4h-1.4zM25 32h1.4v1.4h-1.4zM29 41h1.4v1.4h-1.4zM32 45h1.4v1.4h-1.4zM34 49h1.4v1.4h-1.4zM31 52h1.4v1.4h-1.4zM28 54h1.4v1.4h-1.4zM26 55h1.4v1.4h-1.4zM24 56h1.4v1.4h-1.4zM21 59h1.4v1.4h-1.4zM19 68h1.4v1.4h-1.4zM20 71h1.4v1.4h-1.4zM21 75h1.4v1.4h-1.4zM22 78h1.4v1.4h-1.4zM23 81h1.4v1.4h-1.4zM25 86h1.4v1.4h-1.4zM27 89h1.4v1.4h-1.4zM34 97h1.4v1.4h-1.4zM34 102h1.4v1.4h-1.4zM32 106h1.4v1.4h-1.4zM31 109h1.4v1.4h-1.4zM30 111h1.4v1.4h-1.4zM29 113h1.4v1.4h-1.4zM28 116h1.4v1.4h-1.4zM28 117h1.4v1.4h-1.4zM28 118h1.4v1.4h-1.4zM28 119h1.4v1.4h-1.4zM28 120h1.4v1.4h-1.4zM28 128h1.4v1.4h-1.4zM28 129h1.4v1.4h-1.4zM28 130h1.4v1.4h-1.4zM28 131h1.4v1h-1.4z"/><path fill="#00b1a5" d="M24 5h1.4v1.4h-1.4zM27 7h1.4v1.4h-1.4zM31 10h1.4v1.4h-1.4zM32 11h1.4v1.4h-1.4zM33 12h1.4v1.4h-1.4zM34 13h1.4v1.4h-1.4zM35 14h1.4v1.4h-1.4zM35 15h1.4v1.4h-1.4zM35 17h1.4v1.4h-1.4zM27 22h1.4v1.4h-1.4zM28 39h1.4v1.4h-1.4zM30 42h1.4v1.4h-1.4zM34 48h1.4v1.4h-1.4zM30 53h1.4v1.4h-1.4zM23 57h1.4v1.4h-1.4zM22 58h1.4v1.4h-1.4zM21 60h1.4v1.4h-1.4zM20 62h1.4v1.4h-1.4zM19 64h1.4v1.4h-1.4zM19 67h1.4v1.4h-1.4zM20 70h1.4v1.4h-1.4zM21 74h1.4v1.4h-1.4zM22 77h1.4v1.4h-1.4zM23 80h1.4v1.4h-1.4zM24 83h1.4v1.4h-1.4zM26 87h1.4v1.4h-1.4zM28 90h1.4v1.4h-1.4zM29 91h1.4v1.4h-1.4zM30 92h1.4v1.4h-1.4zM31 93h1.4v1.4h-1.4zM32 94h1.4v1.4h-1.4zM33 104h1.4v1.4h-1.4zM32 107h1.4v1.4h-1.4zM28 121h1.4v1.4h-1.4zM28 122h1.4v1.4h-1.4zM28 126h1.4v1.4h-1.4zM28 127h1.4v1.4h-1.4z"/><path fill="#00b2a2" d="M22 0h1.4v1.4h-1.4zM22 1h1.4v1.4h-1.4zM23 3h1.4v1.4h-1.4zM30 9h1.4v1.4h-1.4zM36 16h1.4v1.4h-1.4zM28 21h1.4v1.4h-1.4zM26 25h1.4v1.4h-1.4zM26 35h1.4v1.4h-1.4zM27 37h1.4v1.4h-1.4zM31 43h1.4v1.4h-1.4zM33 46h1.4v1.4h-1.4zM34 50h1.4v1.4h-1.4zM33 51h1.4v1.4h-1.4zM25 56h1.4v1.4h-1.4zM19 65h1.4v1.4h-1.4zM19 66h1.4v1.4h-1.4zM20 69h1.4v1.4h-1.4zM21 73h1.4v1.4h-1.4zM24 82h1.4v1.4h-1.4zM25 85h1.4v1.4h-1.4zM33 95h1.4v1.4h-1.4zM35 98h1.4v1.4h-1.4zM35 99h1.4v1.4h-1.4zM35 100h1.4v1.4h-1.4zM35 101h1.4v1.4h-1.4zM34 103h1.4v1.4h-1.4zM30 112h1.4v1.4h-1.4zM29 114h1.4v1.4h-1.4zM28 123h1.4v1.4h-1.4zM28 124h1.4v1.4h-1.4zM28 125h1.4v1.4h-1.4z"/><path fill="#00b39e" d="M22 -2h1.4v1.4h-1.4zM22 -1h1.4v1.4h-1.4zM24 4h1.4v1.4h-1.4zM26 6h1.4v1.4h-1.4zM29 8h1.4v1.4h-1.4zM33 11h1.4v1.4h-1.4zM34 12h1.4v1.4h-1.4zM35 13h1.4v1.4h-1.4zM36 14h1.4v1.4h-1.4zM36 15h1.4v1.4h-1.4zM34 18h1.4v1.4h-1.4zM64 22h1.4v1.4h-1.4zM29 40h1.4v1.4h-1.4zM32 52h1.4v1.4h-1.4zM29 54h1.4v1.4h-1.4zM27 55h1.4v1.4h-1.4zM22 59h1.4v1.4h-1.4zM21 61h1.4v1.4h-1.4zM20 63h1.4v1.4h-1.4zM21 72h1.4v1.4h-1.4zM22 76h1.4v1.4h-1.4zM23 79h1.4v1.4h-1.4zM25 84h1.4v1.4h-1.4zM27 88h1.4v1.4h-1.4zM34 96h1.4v1.4h-1.4zM33 105h1.4v1.4h-1.4zM32 108h1.4v1.4h-1.4zM31 110h1.4v1.4h-1.4z"/><path fill="#00b39a" d="M23 2h1.4v1.4h-1.4zM25 5h1.4v1.4h-1.4zM31 9h1.4v1.4h-1.4zM32 10h1.4v1.4h-1.4zM37 16h1.4v1.4h-1.4zM36 17h1.4v1.4h-1.4zM32 19h1.4v1.4h-1.4zM27 23h1.4v1.4h-1.4zM32 44h1.4v1.4h-1.4zM34 47h1.4v1.4h-1.4zM35 49h1.4v1.4h-1.4zM31 53h1.4v1.4h-1.4zM24 57h1.4v1.4h-1.4zM23 58h1.4v1.4h-1.4zM22 60h1.4v1.4h-1.4zM21 62h1.4v1.4h-1.4zM20 64h1.4v1.4h-1.4zM20 68h1.4v1.4h-1.4zM21 71h1.4v1.4h-1.4zM22 75h1.4v1.4h-1.4zM23 78h1.4v1.4h-1.4zM24 81h1.4v1.4h-1.4zM26 86h1.4v1.4h-1.4zM35 97h1.4v1.4h-1.4zM35 102h1.4v1.4h-1.4zM29 115h1.4v1.4h-1.4z"/><path fill="#00b496" d="M23 1h1.4v1.4h-1.4zM24 3h1.4v1.4h-1.4zM28 7h1.4v1.4h-1.4zM35 12h1.4v1.4h-1.4zM36 13h1.4v1.4h-1.4zM37 15h1.4v1.4h-1.4zM30 20h1.4v1.4h-1.4zM26 26h1.4v1.4h-1.4zM28 38h1.4v1.4h-1.4zM30 41h1.4v1.4h-1.4zM28 55h1.4v1.4h-1.4zM26 56h1.4v1.4h-1.4zM20 67h1.4v1.4h-1.4zM22 74h1.4v1.4h-1.4zM25 83h1.4v1.4h-1.4zM28 89h1.4v1.4h-1.4zM32 93h1.4v1.4h-1.4zM34 104h1.4v1.4h-1.4zM33 106h1.4v1.4h-1.4zM31 111h1.4v1.4h-1.4zM30 113h1.4v1.4h-1.4z"/><path fill="#00b593" d="M23 -2h1.4v1.4h-1.4zM23 -1h1.4v1.4h-1.4zM23 0h1.4v1.4h-1.4zM30 8h1.4v1.4h-1.4zM33 10h1.4v1.4h-1.4zM34 11h1.4v1.4h-1.4zM37 14h1.4v1.4h-1.4zM26 34h1.4v1.4h-1.4zM27 36h1.4v1.4h-1.4zM33 45h1.4v1.4h-1.4zM35 48h1.4v1.4h-1.4zM35 50h1.4v1.4h-1.4zM34 51h1.4v1.4h-1.4zM33 52h1.4v1.4h-1.4zM30 54h1.4v1.4h-1.4zM23 59h1.4v1.4h-1.4zM22 61h1.4v1.4h-1.4zM21 63h1.4v1.4h-1.4zM20 65h1.4v1.4h-1.4zM20 66h1.4v1.4h-1.4zM21 70h1.4v1.4h-1.4zM22 73h1.4v1.4h-1.4zM23 77h1.4v1.4h-1.4zM24 80h1.4v1.4h-1.4zM26 85h1.4v1.4h-1.4zM27 87h1.4v1.4h-1.4zM29 90h1.4v1.4h-1.4zM30 91h1.4v1.4h-1.4zM31 92h1.4v1.4h-1.4zM33 94h1.4v1.4h-1.4zM36 98h1.4v1.4h-1.4zM36 99h1.4v1.4h-1.4zM36 100h1.4v1.4h-1.4zM36 101h1.4v1.4h-1.4zM32 109h1.4v1.4h-1.4zM29 116h1.4v1.4h-1.4z"/><path fill="#00b68f" d="M25 4h1.4v1.4h-1.4zM27 6h1.4v1.4h-1.4zM37 17h1.4v1.4h-1.4zM35 18h1.4v1.4h-1.4zM28 22h1.4v1.4h-1.4zM26 27h1.4v1.4h-1.4zM29 39h1.4v1.4h-1.4zM31 42h1.4v1.4h-1.4zM32 53h1.4v1.4h-1.4zM25 57h1.4v1.4h-1.4zM24 58h1.4v1.4h-1.4zM21 69h1.4v1.4h-1.4zM23 76h1.4v1.4h-1.4zM24 79h1.4v1.4h-1.4zM25 82h1.4v1.4h-1.4zM34 95h1.4v1.4h-1.4zM35 103h1.4v1.4h-1.4zM33 107h1.4v1.4h-1.4zM29 117h1.4v1.4h-1.4zM29 118h1.4v1.4h-1.4zM29 119h1.4v1.4h-1.4zM29 120h1.4v1.4h-1.4zM29 128h1.4v1.4h-1.4zM29 129h1.4v1.4h-1.4zM29 130h1.4v1.4h-1.4zM29 131h1.4v1h-1.4z"/><path fill="#04b68c" d="M24 2h1.4v1.4h-1.4zM26 5h1.4v1.4h-1.4zM29 7h1.4v1.4h-1.4zM32 9h1.4v1.4h-1.4zM36 12h1.4v1.4h-1.4zM37 13h1.4v1.4h-1.4zM38 16h1.4v1.4h-1.4zM33 19h1.4v1.4h-1.4zM29 21h1.4v1.4h-1.4zM27 24h1.4v1.4h-1.4zM34 46h1.4v1.4h-1.4zM36 49h1.4v1.4h-1.4zM27 56h1.4v1.4h-1.4zM23 60h1.4v1.4h-1.4zM22 62h1.4v1.4h-1.4zM21 64h1.4v1.4h-1.4zM21 68h1.4v1.4h-1.4zM22 72h1.4v1.4h-1.4zM26 84h1.4v1.4h-1.4zM28 88h1.4v1.4h-1.4zM35 96h1.4v1.4h-1.4zM34 105h1.4v1.4h-1.4zM32 110h1.4v1.4h-1.4zM31 112h1.4v1.4h-1.4zM30 114h1.4v1.4h-1.4zM29 121h1.4v1.4h-1.4zM29 127h1.4v1.4h-1.4z"/><path fill="#09b78a" d="M35 11h1.4v1.4h-1.4zM38 15h1.4v1.4h-1.4zM31 20h1.4v1.4h-1.4zM26 28h1.4v1.4h-1.4zM28 37h1.4v1.4h-1.4zM30 40h1.4v1.4h-1.4zM32 43h1.4v1.4h-1.4zM35 47h1.4v1.4h-1.4zM29 55h1.4v1.4h-1.4zM24 59h1.4v1.4h-1.4zM21 67h1.4v1.4h-1.4zM22 71h1.4v1.4h-1.4zM23 75h1.4v1.4h-1.4zM24 78h1.4v1.4h-1.4zM25 81h1.4v1.4h-1.4zM27 86h1.4v1.4h-1.4zM36 97h1.4v1.4h-1.4zM36 102h1.4v1.4h-1.4zM29 122h1.4v1.4h-1.4zM29 126h1.4v1.4h-1.4z"/><path fill="#0fb888" d="M24 0h1.4v1.4h-1.4zM24 1h1.4v1.4h-1.4zM25 3h1.4v1.4h-1.4zM31 8h1.4v1.4h-1.4zM34 10h1.4v1.4h-1.4zM38 14h1.4v1.4h-1.4zM36 50h1.4v1.4h-1.4zM35 51h1.4v1.4h-1.4zM31 54h1.4v1.4h-1.4zM26 57h1.4v1.4h-1.4zM25 58h1.4v1.4h-1.4zM23 61h1.4v1.4h-1.4zM22 63h1.4v1.4h-1.4zM21 65h1.4v1.4h-1.4zM21 66h1.4v1.4h-1.4zM23 74h1.4v1.4h-1.4zM26 83h1.4v1.4h-1.4zM33 108h1.4v1.4h-1.4zM29 125h1.4v1.4h-1.4z"/><path fill="#14b886" d="M24 -2h1.4v1.4h-1.4zM24 -1h1.4v1.4h-1.4zM28 6h1.4v1.4h-1.4zM36 18h1.4v1.4h-1.4zM28 23h1.4v1.4h-1.4zM26 29h1.4v1.4h-1.4zM26 33h1.4v1.4h-1.4zM27 35h1.4v1.4h-1.4zM31 41h1.4v1.4h-1.4zM33 44h1.4v1.4h-1.4zM36 48h1.4v1.4h-1.4zM34 52h1.4v1.4h-1.4zM33 53h1.4v1.4h-1.4zM28 56h1.4v1.4h-1.4zM22 70h1.4v1.4h-1.4zM24 77h1.4v1.4h-1.4zM25 80h1.4v1.4h-1.4zM29 89h1.4v1.4h-1.4zM37 99h1.4v1.4h-1.4zM37 100h1.4v1.4h-1.4zM34 106h1.4v1.4h-1.4zM32 111h1.4v1.4h-1.4zM31 113h1.4v1.4h-1.4zM30 115h1.4v1.4h-1.4zM29 123h1.4v1.4h-1.4zM29 124h1.4v1.4h-1.4z"/><path fill="#1ab984" d="M25 2h1.4v1.4h-1.4zM26 4h1.4v1.4h-1.4zM33 9h1.4v1.4h-1.4zM38 17h1.4v1.4h-1.4zM26 30h1.4v1.4h-1.4zM26 31h1.4v1.4h-1.4zM26 32h1.4v1.4h-1.4zM29 38h1.4v1.4h-1.4zM30 55h1.4v1.4h-1.4zM24 60h1.4v1.4h-1.4zM22 64h1.4v1.4h-1.4zM22 69h1.4v1.4h-1.4zM23 73h1.4v1.4h-1.4zM26 82h1.4v1.4h-1.4zM27 85h1.4v1.4h-1.4zM28 87h1.4v1.4h-1.4zM32 92h1.4v1.4h-1.4zM33 93h1.4v1.4h-1.4zM34 94h1.4v1.4h-1.4zM37 98h1.4v1.4h-1.4zM37 101h1.4v1.4h-1.4zM35 104h1.4v1.4h-1.4z"/><path fill="#1fba81" d="M27 5h1.4v1.4h-1.4zM30 7h1.4v1.4h-1.4zM37 12h1.4v1.4h-1.4zM38 13h1.4v1.4h-1.4zM34 19h1.4v1.4h-1.4zM27 25h1.4v1.4h-1.4zM32 42h1.4v1.4h-1.4zM34 45h1.4v1.4h-1.4zM37 49h1.4v1.4h-1.4zM25 59h1.4v1.4h-1.4zM23 62h1.4v1.4h-1.4zM22 68h1.4v1.4h-1.4zM23 72h1.4v1.4h-1.4zM24 76h1.4v1.4h-1.4zM25 79h1.4v1.4h-1.4zM30 90h1.4v1.4h-1.4zM31 91h1.4v1.4h-1.4zM35 95h1.4v1.4h-1.4zM33 109h1.4v1.4h-1.4z"/><path fill="#26ba7f" d="M36 11h1.4v1.4h-1.4zM32 20h1.4v1.4h-1.4zM30 21h1.4v1.4h-1.4zM29 22h1.4v1.4h-1.4zM30 39h1.4v1.4h-1.4zM32 54h1.4v1.4h-1.4zM27 57h1.4v1.4h-1.4zM26 58h1.4v1.4h-1.4zM22 65h1.4v1.4h-1.4zM22 67h1.4v1.4h-1.4zM24 75h1.4v1.4h-1.4zM27 84h1.4v1.4h-1.4zM36 96h1.4v1.4h-1.4zM36 103h1.4v1.4h-1.4zM34 107h1.4v1.4h-1.4zM30 116h1.4v1.4h-1.4z"/><path fill="#2fbb7d" d="M25 1h1.4v1.4h-1.4zM26 3h1.4v1.4h-1.4zM32 8h1.4v1.4h-1.4zM35 10h1.4v1.4h-1.4zM39 16h1.4v1.4h-1.4zM28 36h1.4v1.4h-1.4zM35 46h1.4v1.4h-1.4zM37 50h1.4v1.4h-1.4zM36 51h1.4v1.4h-1.4zM29 56h1.4v1.4h-1.4zM24 61h1.4v1.4h-1.4zM23 63h1.4v1.4h-1.4zM22 66h1.4v1.4h-1.4zM23 71h1.4v1.4h-1.4zM25 78h1.4v1.4h-1.4zM26 81h1.4v1.4h-1.4zM29 88h1.4v1.4h-1.4zM37 102h1.4v1.4h-1.4zM35 105h1.4v1.4h-1.4zM32 112h1.4v1.4h-1.4zM31 114h1.4v1.4h-1.4zM30 117h1.4v1.4h-1.4zM30 118h1.4v1.4h-1.4zM30 119h1.4v1.4h-1.4zM30 120h1.4v1.4h-1.4zM30 128h1.4v1.4h-1.4zM30 129h1.4v1.4h-1.4zM30 130h1.4v1.4h-1.4zM30 131h1.4v1h-1.4z"/><path fill="#38bb7b" d="M25 -2h1.4v1.4h-1.4zM25 -1h1.4v1.4h-1.4zM25 0h1.4v1.4h-1.4zM29 6h1.4v1.4h-1.4zM49 8h1.4v1.4h-1.4zM52 11h1.4v1.4h-1.4zM39 15h1.4v1.4h-1.4zM27 26h1.4v1.4h-1.4zM52 35h1.4v1.4h-1.4zM31 40h1.4v1.4h-1.4zM51 40h1.4v1.4h-1.4zM52 42h1.4v1.4h-1.4zM33 43h1.4v1.4h-1.4zM53 44h1.4v1.4h-1.4zM54 46h1.4v1.4h-1.4zM36 47h1.4v1.4h-1.4zM37 48h1.4v1.4h-1.4zM56 49h1.4v1.4h-1.4zM35 52h1.4v1.4h-1.4zM34 53h1.4v1.4h-1.4zM31 55h1.4v1.4h-1.4zM61 57h1.4v1.4h-1.4zM23 70h1.4v1.4h-1.4zM24 74h1.4v1.4h-1.4zM28 86h1.4v1.4h-1.4zM37 97h1.4v1.4h-1.4zM33 110h1.4v1.4h-1.4zM30 127h1.4v1.4h-1.4z"/><path fill="#41bc79" d="M52 -1h1.4v1.4h-1.4zM51 0h1.4v1.4h-1.4zM27 4h1.4v1.4h-1.4zM34 9h1.4v1.4h-1.4zM39 14h1.4v1.4h-1.4zM58 16h1.4v1.4h-1.4zM37 18h1.4v1.4h-1.4zM28 24h1.4v1.4h-1.4zM59 27h1.4v1.4h-1.4zM55 31h1.4v1.4h-1.4zM27 34h1.4v1.4h-1.4zM29 37h1.4v1.4h-1.4zM59 53h1.4v1.4h-1.4zM60 55h1.4v1.4h-1.4zM28 57h1.4v1.4h-1.4zM25 60h1.4v1.4h-1.4zM62 60h1.4v1.4h-1.4zM62 62h1.4v1.4h-1.4zM23 64h1.4v1.4h-1.4zM61 65h1.4v1.4h-1.4zM60 68h1.4v1.4h-1.4zM59 72h1.4v1.4h-1.4zM24 73h1.4v1.4h-1.4zM58 75h1.4v1.4h-1.4zM25 77h1.4v1.4h-1.4zM56 79h1.4v1.4h-1.4zM26 80h1.4v1.4h-1.4zM53 82h1.4v1.4h-1.4zM27 83h1.4v1.4h-1.4zM51 88h1.4v1.4h-1.4zM53 92h1.4v1.4h-1.4zM54 94h1.4v1.4h-1.4zM56 104h1.4v1.4h-1.4zM34 108h1.4v1.4h-1.4zM64 113h1.4v1.4h-1.4zM65 116h1.4v1.4h-1.4zM66 119h1.4v1.4h-1.4zM30 121h1.4v1.4h-1.4zM67 124h1.4v1.4h-1.4z"/><path fill="#49bd77" d="M26 2h1.4v1.4h-1.4zM28 5h1.4v1.4h-1.4zM31 7h1.4v1.4h-1.4zM39 17h1.4v1.4h-1.4zM35 19h1.4v1.4h-1.4zM27 27h1.4v1.4h-1.4zM32 41h1.4v1.4h-1.4zM34 44h1.4v1.4h-1.4zM33 54h1.4v1.4h-1.4zM27 58h1.4v1.4h-1.4zM26 59h1.4v1.4h-1.4zM24 62h1.4v1.4h-1.4zM23 68h1.4v1.4h-1.4zM23 69h1.4v1.4h-1.4zM25 76h1.4v1.4h-1.4zM57 77h1.4v1.4h-1.4zM51 84h1.4v1.4h-1.4zM30 89h1.4v1.4h-1.4zM30 122h1.4v1.4h-1.4zM30 126h1.4v1.4h-1.4z"/><path fill="#52bd75" d="M38 12h1.4v1.4h-1.4zM29 23h1.4v1.4h-1.4zM30 38h1.4v1.4h-1.4zM38 49h1.4v1.4h-1.4zM30 56h1.4v1.4h-1.4zM23 65h1.4v1.4h-1.4zM23 66h1.4v1.4h-1.4zM23 67h1.4v1.4h-1.4zM24 72h1.4v1.4h-1.4zM26 79h1.4v1.4h-1.4zM27 82h1.4v1.4h-1.4zM28 85h1.4v1.4h-1.4zM29 87h1.4v1.4h-1.4zM33 92h1.4v1.4h-1.4zM34 93h1.4v1.4h-1.4zM35 94h1.4v1.4h-1.4zM38 99h1.4v1.4h-1.4zM38 100h1.4v1.4h-1.4zM36 104h1.4v1.4h-1.4zM35 106h1.4v1.4h-1.4zM33 111h1.4v1.4h-1.4zM32 113h1.4v1.4h-1.4zM31 115h1.4v1.4h-1.4zM30 125h1.4v1.4h-1.4z"/><path fill="#5abd73" d="M33 8h1.4v1.4h-1.4zM37 11h1.4v1.4h-1.4zM39 13h1.4v1.4h-1.4zM33 20h1.4v1.4h-1.4zM31 21h1.4v1.4h-1.4zM27 28h1.4v1.4h-1.4zM28 35h1.4v1.4h-1.4zM33 42h1.4v1.4h-1.4zM35 45h1.4v1.4h-1.4zM25 61h1.4v1.4h-1.4zM24 63h1.4v1.4h-1.4zM25 75h1.4v1.4h-1.4zM31 90h1.4v1.4h-1.4zM32 91h1.4v1.4h-1.4zM36 95h1.4v1.4h-1.4zM38 98h1.4v1.4h-1.4zM38 101h1.4v1.4h-1.4zM34 109h1.4v1.4h-1.4zM30 123h1.4v1.4h-1.4zM30 124h1.4v1.4h-1.4z"/><path fill="#62bc71" d="M26 0h1.4v1.4h-1.4zM26 1h1.4v1.4h-1.4zM27 3h1.4v1.4h-1.4zM30 6h1.4v1.4h-1.4zM36 10h1.4v1.4h-1.4zM30 22h1.4v1.4h-1.4zM27 33h1.4v1.4h-1.4zM31 39h1.4v1.4h-1.4zM36 46h1.4v1.4h-1.4zM38 50h1.4v1.4h-1.4zM37 51h1.4v1.4h-1.4zM36 52h1.4v1.4h-1.4zM35 53h1.4v1.4h-1.4zM32 55h1.4v1.4h-1.4zM29 57h1.4v1.4h-1.4zM26 60h1.4v1.4h-1.4zM24 71h1.4v1.4h-1.4zM25 74h1.4v1.4h-1.4zM26 78h1.4v1.4h-1.4zM27 81h1.4v1.4h-1.4zM37 96h1.4v1.4h-1.4zM37 103h1.4v1.4h-1.4z"/><path fill="#6abc6e" d="M26 -2h1.4v1.4h-1.4zM26 -1h1.4v1.4h-1.4zM35 9h1.4v1.4h-1.4zM38 18h1.4v1.4h-1.4zM28 25h1.4v1.4h-1.4zM27 29h1.4v1.4h-1.4zM29 36h1.4v1.4h-1.4zM32 40h1.4v1.4h-1.4zM34 43h1.4v1.4h-1.4zM37 47h1.4v1.4h-1.4zM38 48h1.4v1.4h-1.4zM34 54h1.4v1.4h-1.4zM28 58h1.4v1.4h-1.4zM27 59h1.4v1.4h-1.4zM24 64h1.4v1.4h-1.4zM24 70h1.4v1.4h-1.4zM28 84h1.4v1.4h-1.4zM38 102h1.4v1.4h-1.4zM35 107h1.4v1.4h-1.4zM33 112h1.4v1.4h-1.4zM32 114h1.4v1.4h-1.4zM31 116h1.4v1.4h-1.4zM31 117h1.4v1.4h-1.4zM31 118h1.4v1.4h-1.4zM31 119h1.4v1.4h-1.4zM31 129h1.4v1.4h-1.4zM31 130h1.4v1.4h-1.4zM31 131h1.4v1h-1.4z"/><path fill="#72bb6c" d="M27 2h1.4v1.4h-1.4zM48 2h1.4v1.4h-1.4zM28 4h1.4v1.4h-1.4zM29 5h1.4v1.4h-1.4zM32 7h1.4v1.4h-1.4zM48 7h1.4v1.4h-1.4zM50 10h1.4v1.4h-1.4zM53 12h1.4v1.4h-1.4zM54 13h1.4v1.4h-1.4zM55 14h1.4v1.4h-1.4zM59 17h1.4v1.4h-1.4zM60 18h1.4v1.4h-1.4zM36 19h1.4v1.4h-1.4zM61 19h1.4v1.4h-1.4zM62 20h1.4v1.4h-1.4zM63 21h1.4v1.4h-1.4zM63 23h1.4v1.4h-1.4zM62 24h1.4v1.4h-1.4zM61 25h1.4v1.4h-1.4zM60 26h1.4v1.4h-1.4zM56 29h1.4v1.4h-1.4zM27 30h1.4v1.4h-1.4zM27 31h1.4v1.4h-1.4zM27 32h1.4v1.4h-1.4zM54 32h1.4v1.4h-1.4zM53 33h1.4v1.4h-1.4zM51 36h1.4v1.4h-1.4zM55 48h1.4v1.4h-1.4zM57 51h1.4v1.4h-1.4zM58 52h1.4v1.4h-1.4zM31 56h1.4v1.4h-1.4zM25 62h1.4v1.4h-1.4zM24 65h1.4v1.4h-1.4zM24 68h1.4v1.4h-1.4zM24 69h1.4v1.4h-1.4zM25 73h1.4v1.4h-1.4zM26 77h1.4v1.4h-1.4zM27 80h1.4v1.4h-1.4zM29 86h1.4v1.4h-1.4zM30 88h1.4v1.4h-1.4zM38 97h1.4v1.4h-1.4zM55 103h1.4v1.4h-1.4zM36 105h1.4v1.4h-1.4zM57 106h1.4v1.4h-1.4zM58 107h1.4v1.4h-1.4zM59 108h1.4v1.4h-1.4zM60 109h1.4v1.4h-1.4zM34 110h1.4v1.4h-1.4zM61 110h1.4v1.4h-1.4zM62 111h1.4v1.4h-1.4zM63 112h1.4v1.4h-1.4zM31 120h1.4v1.4h-1.4zM31 128h1.4v1.4h-1.4z"/><path fill="#79bb6a" d="M49 1h1.4v1.4h-1.4zM56 15h1.4v1.4h-1.4zM40 16h1.4v1.4h-1.4zM34 20h1.4v1.4h-1.4zM32 21h1.4v1.4h-1.4zM29 24h1.4v1.4h-1.4zM28 26h1.4v1.4h-1.4zM57 28h1.4v1.4h-1.4zM28 34h1.4v1.4h-1.4zM30 37h1.4v1.4h-1.4zM33 41h1.4v1.4h-1.4zM35 44h1.4v1.4h-1.4zM39 49h1.4v1.4h-1.4zM33 55h1.4v1.4h-1.4zM30 57h1.4v1.4h-1.4zM26 61h1.4v1.4h-1.4zM25 63h1.4v1.4h-1.4zM24 66h1.4v1.4h-1.4zM24 67h1.4v1.4h-1.4zM25 72h1.4v1.4h-1.4zM26 76h1.4v1.4h-1.4zM55 80h1.4v1.4h-1.4zM54 81h1.4v1.4h-1.4zM28 83h1.4v1.4h-1.4zM52 91h1.4v1.4h-1.4zM31 121h1.4v1.4h-1.4zM31 127h1.4v1.4h-1.4z"/><path fill="#81bb67" d="M27 1h1.4v1.4h-1.4zM31 6h1.4v1.4h-1.4zM34 8h1.4v1.4h-1.4zM40 15h1.4v1.4h-1.4zM30 23h1.4v1.4h-1.4zM28 27h1.4v1.4h-1.4zM31 38h1.4v1.4h-1.4zM34 42h1.4v1.4h-1.4zM39 50h1.4v1.4h-1.4zM38 51h1.4v1.4h-1.4zM37 52h1.4v1.4h-1.4zM36 53h1.4v1.4h-1.4zM32 56h1.4v1.4h-1.4zM29 58h1.4v1.4h-1.4zM28 59h1.4v1.4h-1.4zM27 60h1.4v1.4h-1.4zM25 71h1.4v1.4h-1.4zM26 75h1.4v1.4h-1.4zM27 79h1.4v1.4h-1.4zM31 89h1.4v1.4h-1.4zM35 108h1.4v1.4h-1.4zM33 113h1.4v1.4h-1.4zM31 126h1.4v1.4h-1.4z"/><path fill="#89ba65" d="M27 -2h1.4v1.4h-1.4zM27 -1h1.4v1.4h-1.4zM27 0h1.4v1.4h-1.4zM28 3h1.4v1.4h-1.4zM38 11h1.4v1.4h-1.4zM39 12h1.4v1.4h-1.4zM40 14h1.4v1.4h-1.4zM40 17h1.4v1.4h-1.4zM31 22h1.4v1.4h-1.4zM28 28h1.4v1.4h-1.4zM29 35h1.4v1.4h-1.4zM32 39h1.4v1.4h-1.4zM33 40h1.4v1.4h-1.4zM36 45h1.4v1.4h-1.4zM37 46h1.4v1.4h-1.4zM38 47h1.4v1.4h-1.4zM39 48h1.4v1.4h-1.4zM35 54h1.4v1.4h-1.4zM31 57h1.4v1.4h-1.4zM26 62h1.4v1.4h-1.4zM25 64h1.4v1.4h-1.4zM25 65h1.4v1.4h-1.4zM25 69h1.4v1.4h-1.4zM25 70h1.4v1.4h-1.4zM26 74h1.4v1.4h-1.4zM28 82h1.4v1.4h-1.4zM29 85h1.4v1.4h-1.4zM30 87h1.4v1.4h-1.4zM32 90h1.4v1.4h-1.4zM33 91h1.4v1.4h-1.4zM34 92h1.4v1.4h-1.4zM35 93h1.4v1.4h-1.4zM36 94h1.4v1.4h-1.4zM37 104h1.4v1.4h-1.4zM36 106h1.4v1.4h-1.4zM34 111h1.4v1.4h-1.4zM32 115h1.4v1.4h-1.4zM31 122h1.4v1.4h-1.4z"/><path fill="#90ba63" d="M28 2h1.4v1.4h-1.4zM29 4h1.4v1.4h-1.4zM30 5h1.4v1.4h-1.4zM33 7h1.4v1.4h-1.4zM36 9h1.4v1.4h-1.4zM37 10h1.4v1.4h-1.4zM39 18h1.4v1.4h-1.4zM37 19h1.4v1.4h-1.4zM35 20h1.4v1.4h-1.4zM33 21h1.4v1.4h-1.4zM30 24h1.4v1.4h-1.4zM29 25h1.4v1.4h-1.4zM28 29h1.4v1.4h-1.4zM28 30h1.4v1.4h-1.4zM28 31h1.4v1.4h-1.4zM28 32h1.4v1.4h-1.4zM28 33h1.4v1.4h-1.4zM30 36h1.4v1.4h-1.4zM31 37h1.4v1.4h-1.4zM34 41h1.4v1.4h-1.4zM35 43h1.4v1.4h-1.4zM34 55h1.4v1.4h-1.4zM33 56h1.4v1.4h-1.4zM30 58h1.4v1.4h-1.4zM29 59h1.4v1.4h-1.4zM28 60h1.4v1.4h-1.4zM27 61h1.4v1.4h-1.4zM26 63h1.4v1.4h-1.4zM25 66h1.4v1.4h-1.4zM25 67h1.4v1.4h-1.4zM25 68h1.4v1.4h-1.4zM26 73h1.4v1.4h-1.4zM27 78h1.4v1.4h-1.4zM37 95h1.4v1.4h-1.4zM39 99h1.4v1.4h-1.4zM39 100h1.4v1.4h-1.4zM39 101h1.4v1.4h-1.4zM38 103h1.4v1.4h-1.4zM35 109h1.4v1.4h-1.4zM32 116h1.4v1.4h-1.4zM31 123h1.4v1.4h-1.4zM31 124h1.4v1.4h-1.4zM31 125h1.4v1.4h-1.4z"/><path fill="#95b961" d="M40 13h1.4v1.4h-1.4zM32 22h1.4v1.4h-1.4zM31 23h1.4v1.4h-1.4zM30 25h1.4v1.4h-1.4zM29 26h1.4v1.4h-1.4zM29 27h1.4v1.4h-1.4zM29 28h1.4v1.4h-1.4zM29 34h1.4v1.4h-1.4zM30 35h1.4v1.4h-1.4zM32 38h1.4v1.4h-1.4zM50 38h1.4v1.4h-1.4zM33 39h1.4v1.4h-1.4zM35 42h1.4v1.4h-1.4zM36 44h1.4v1.4h-1.4zM40 49h1.4v1.4h-1.4zM40 50h1.4v1.4h-1.4zM39 51h1.4v1.4h-1.4zM38 52h1.4v1.4h-1.4zM37 53h1.4v1.4h-1.4zM36 54h1.4v1.4h-1.4zM35 55h1.4v1.4h-1.4zM32 57h1.4v1.4h-1.4zM31 58h1.4v1.4h-1.4zM30 59h1.4v1.4h-1.4zM29 60h1.4v1.4h-1.4zM28 61h1.4v1.4h-1.4zM62 61h1.4v1.4h-1.4zM27 62h1.4v1.4h-1.4zM27 63h1.4v1.4h-1.4zM26 64h1.4v1.4h-1.4zM26 65h1.4v1.4h-1.4zM26 66h1.4v1.4h-1.4zM26 67h1.4v1.4h-1.4zM26 68h1.4v1.4h-1.4zM26 69h1.4v1.4h-1.4zM26 70h1.4v1.4h-1.4zM26 71h1.4v1.4h-1.4zM26 72h1.4v1.4h-1.4zM27 77h1.4v1.4h-1.4zM28 81h1.4v1.4h-1.4zM29 84h1.4v1.4h-1.4zM39 98h1.4v1.4h-1.4zM36 107h1.4v1.4h-1.4zM34 112h1.4v1.4h-1.4zM33 114h1.4v1.4h-1.4zM32 117h1.4v1.4h-1.4zM32 118h1.4v1.4h-1.4zM32 119h1.4v1.4h-1.4zM32 120h1.4v1.4h-1.4zM32 128h1.4v1.4h-1.4zM32 129h1.4v1.4h-1.4zM32 130h1.4v1.4h-1.4zM32 131h1.4v1h-1.4z"/><path fill="#9bb860" d="M52 -2h1.4v1.4h-1.4zM28 0h1.4v1.4h-1.4zM28 1h1.4v1.4h-1.4zM29 3h1.4v1.4h-1.4zM47 5h1.4v1.4h-1.4zM32 6h1.4v1.4h-1.4zM35 8h1.4v1.4h-1.4zM32 23h1.4v1.4h-1.4zM31 24h1.4v1.4h-1.4zM31 25h1.4v1.4h-1.4zM30 26h1.4v1.4h-1.4zM30 27h1.4v1.4h-1.4zM30 28h1.4v1.4h-1.4zM29 29h1.4v1.4h-1.4zM29 30h1.4v1.4h-1.4zM29 31h1.4v1.4h-1.4zM29 32h1.4v1.4h-1.4zM29 33h1.4v1.4h-1.4zM30 34h1.4v1.4h-1.4zM31 35h1.4v1.4h-1.4zM31 36h1.4v1.4h-1.4zM32 37h1.4v1.4h-1.4zM33 38h1.4v1.4h-1.4zM34 40h1.4v1.4h-1.4zM35 41h1.4v1.4h-1.4zM36 43h1.4v1.4h-1.4zM37 45h1.4v1.4h-1.4zM38 46h1.4v1.4h-1.4zM39 47h1.4v1.4h-1.4zM40 48h1.4v1.4h-1.4zM38 53h1.4v1.4h-1.4zM37 54h1.4v1.4h-1.4zM34 56h1.4v1.4h-1.4zM33 57h1.4v1.4h-1.4zM32 58h1.4v1.4h-1.4zM61 58h1.4v1.4h-1.4zM31 59h1.4v1.4h-1.4zM30 60h1.4v1.4h-1.4zM29 61h1.4v1.4h-1.4zM28 62h2.4v1.4h-2.4zM28 63h1.4v1.4h-1.4zM27 64h2.4v1.4h-2.4zM61 64h1.4v1.4h-1.4zM27 65h1.4v1.4h-1.4zM27 66h1.4v1.4h-1.4zM27 67h1.4v1.4h-1.4zM27 68h1.4v1.4h-1.4zM59 71h1.4v1.4h-1.4zM27 75h1.4v1.4h-1.4zM27 76h1.4v1.4h-1.4zM30 86h1.4v1.4h-1.4zM31 88h1.4v1.4h-1.4zM51 89h1.4v1.4h-1.4zM54 95h1.4v1.4h-1.4zM38 96h1.4v1.4h-1.4zM39 102h1.4v1.4h-1.4zM37 105h1.4v1.4h-1.4zM35 110h1.4v1.4h-1.4zM64 114h1.4v1.4h-1.4zM65 117h1.4v1.4h-1.4zM66 120h1.4v1.4h-1.4zM32 121h1.4v1.4h-1.4zM67 125h1.4v1.4h-1.4zM32 127h1.4v1.4h-1.4z"/><path fill="#a0b85e" d="M28 -2h1.4v1.4h-1.4zM28 -1h1.4v1.4h-1.4zM29 2h1.4v1.4h-1.4zM30 4h1.4v1.4h-1.4zM47 4h1.4v1.4h-1.4zM31 5h1.4v1.4h-1.4zM34 7h1.4v1.4h-1.4zM38 19h1.4v1.4h-1.4zM36 20h1.4v1.4h-1.4zM34 21h1.4v1.4h-1.4zM33 22h1.4v1.4h-1.4zM33 23h1.4v1.4h-1.4zM32 24h1.4v1.4h-1.4zM32 25h1.4v1.4h-1.4zM31 26h1.4v1.4h-1.4zM31 27h1.4v1.4h-1.4zM31 28h1.4v1.4h-1.4zM30 29h2.4v1.4h-2.4zM30 30h1.4v1.4h-1.4zM30 31h1.4v1.4h-1.4zM30 32h1.4v1.4h-1.4zM30 33h1.4v1.4h-1.4zM31 34h1.4v1.4h-1.4zM32 35h1.4v1.4h-1.4zM32 36h1.4v1.4h-1.4zM33 37h1.4v1.4h-1.4zM34 38h1.4v1.4h-1.4zM34 39h1.4v1.4h-1.4zM35 40h1.4v1.4h-1.4zM36 42h1.4v1.4h-1.4zM37 44h1.4v1.4h-1.4zM38 45h1.4v1.4h-1.4zM41 49h1.4v1.4h-1.4zM41 50h1.4v1.4h-1.4zM40 51h1.4v1.4h-1.4zM39 52h1.4v1.4h-1.4zM36 55h1.4v1.4h-1.4zM35 56h1.4v1.4h-1.4zM34 57h1.4v1.4h-1.4zM33 58h1.4v1.4h-1.4zM32 59h1.4v1.4h-1.4zM31 60h1.4v1.4h-1.4zM30 61h1.4v1.4h-1.4zM30 62h1.4v1.4h-1.4zM29 63h1.4v1.4h-1.4zM29 64h1.4v1.4h-1.4zM28 65h2.4v1.4h-2.4zM28 66h1.4v1.4h-1.4zM28 67h1.4v1.4h-1.4zM60 67h1.4v1.4h-1.4zM28 68h1.4v1.4h-1.4zM27 69h1.4v1.4h-1.4zM27 70h1.4v1.4h-1.4zM27 71h1.4v1.4h-1.4zM27 72h1.4v1.4h-1.4zM27 73h1.4v1.4h-1.4zM27 74h1.4v1.4h-1.4zM58 74h1.4v1.4h-1.4zM28 80h1.4v1.4h-1.4zM29 83h1.4v1.4h-1.4zM54 96h1.4v1.4h-1.4zM54 97h1.4v1.4h-1.4zM54 98h1.4v1.4h-1.4zM54 99h1.4v1.4h-1.4zM54 100h1.4v1.4h-1.4zM54 101h1.4v1.4h-1.4zM34 113h1.4v1.4h-1.4zM33 115h1.4v1.4h-1.4zM66 121h1.4v1.4h-1.4zM32 122h1.4v1.4h-1.4zM66 122h1.4v1.4h-1.4zM32 126h1.4v1.4h-1.4zM67 126h1.4v1.4h-1.4zM67 127h1.4v1.4h-1.4zM67 128h1.4v1.4h-1.4zM67 129h1.4v1.4h-1.4zM67 130h1.4v1.4h-1.4zM67 131h1.4v1h-1.4z"/><path fill="#a6b75d" d="M29 1h1.4v1.4h-1.4zM30 3h1.4v1.4h-1.4zM33 6h1.4v1.4h-1.4zM41 15h1.4v1.4h-1.4zM41 16h1.4v1.4h-1.4zM40 18h1.4v1.4h-1.4zM35 21h1.4v1.4h-1.4zM34 22h1.4v1.4h-1.4zM34 23h1.4v1.4h-1.4zM33 24h1.4v1.4h-1.4zM33 25h1.4v1.4h-1.4zM32 26h2.4v1.4h-2.4zM32 27h1.4v1.4h-1.4zM32 28h1.4v1.4h-1.4zM32 29h1.4v1.4h-1.4zM31 30h2.4v1.4h-2.4zM31 31h2.4v1.4h-2.4zM31 32h1.4v1.4h-1.4zM31 33h2.4v1.4h-2.4zM32 34h1.4v1.4h-1.4zM33 35h1.4v1.4h-1.4zM33 36h1.4v1.4h-1.4zM34 37h1.4v1.4h-1.4zM35 39h1.4v1.4h-1.4zM36 40h1.4v1.4h-1.4zM36 41h1.4v1.4h-1.4zM37 42h1.4v1.4h-1.4zM37 43h1.4v1.4h-1.4zM38 44h1.4v1.4h-1.4zM39 46h1.4v1.4h-1.4zM40 47h1.4v1.4h-1.4zM41 48h1.4v1.4h-1.4zM41 51h1.4v1.4h-1.4zM40 52h1.4v1.4h-1.4zM39 53h1.4v1.4h-1.4zM38 54h1.4v1.4h-1.4zM37 55h1.4v1.4h-1.4zM36 56h1.4v1.4h-1.4zM35 57h1.4v1.4h-1.4zM34 58h1.4v1.4h-1.4zM33 59h2.4v1.4h-2.4zM32 60h2.4v1.4h-2.4zM31 61h2.4v1.4h-2.4zM31 62h1.4v1.4h-1.4zM30 63h2.4v1.4h-2.4zM30 64h1.4v1.4h-1.4zM30 65h1.4v1.4h-1.4zM29 66h2.4v1.4h-2.4zM29 67h1.4v1.4h-1.4zM29 68h1.4v1.4h-1.4zM28 69h1.4v1.4h-1.4zM28 70h1.4v1.4h-1.4zM59 70h1.4v1.4h-1.4zM28 71h1.4v1.4h-1.4zM28 79h1.4v1.4h-1.4zM30 85h1.4v1.4h-1.4zM50 86h1.4v1.4h-1.4zM31 87h1.4v1.4h-1.4zM32 89h1.4v1.4h-1.4zM39 97h1.4v1.4h-1.4zM38 104h1.4v1.4h-1.4zM37 106h1.4v1.4h-1.4zM36 108h1.4v1.4h-1.4zM35 111h1.4v1.4h-1.4zM33 116h1.4v1.4h-1.4zM33 117h1.4v1.4h-1.4zM33 118h1.4v1.4h-1.4zM33 119h1.4v1.4h-1.4zM33 120h1.4v1.4h-1.4zM32 123h1.4v1.4h-1.4zM32 124h1.4v1.4h-1.4zM32 125h1.4v1.4h-1.4z"/><path fill="#abb65b" d="M29 -2h1.4v1.4h-1.4zM29 -1h1.4v1.4h-1.4zM29 0h1.4v1.4h-1.4zM31 4h1.4v1.4h-1.4zM32 5h1.4v1.4h-1.4zM36 8h1.4v1.4h-1.4zM37 9h1.4v1.4h-1.4zM38 10h1.4v1.4h-1.4zM39 11h1.4v1.4h-1.4zM40 12h1.4v1.4h-1.4zM41 14h1.4v1.4h-1.4zM41 17h1.4v1.4h-1.4zM37 20h1.4v1.4h-1.4zM35 22h1.4v1.4h-1.4zM35 23h1.4v1.4h-1.4zM34 24h1.4v1.4h-1.4zM34 25h1.4v1.4h-1.4zM34 26h1.4v1.4h-1.4zM33 27h2.4v1.4h-2.4zM33 28h1.4v1.4h-1.4zM33 29h1.4v1.4h-1.4zM33 30h1.4v1.4h-1.4zM33 31h1.4v1.4h-1.4zM32 32h2.4v1.4h-2.4zM33 33h1.4v1.4h-1.4zM33 34h1.4v1.4h-1.4zM34 35h1.4v1.4h-1.4zM34 36h1.4v1.4h-1.4zM35 37h1.4v1.4h-1.4zM35 38h1.4v1.4h-1.4zM36 39h1.4v1.4h-1.4zM37 41h1.4v1.4h-1.4zM38 42h1.4v1.4h-1.4zM38 43h1.4v1.4h-1.4zM39 45h1.4v1.4h-1.4zM40 46h1.4v1.4h-1.4zM42 49h1.4v1.4h-1.4zM42 50h1.4v1.4h-1.4zM41 52h1.4v1.4h-1.4zM40 53h1.4v1.4h-1.4zM39 54h1.4v1.4h-1.4zM38 55h1.4v1.4h-1.4zM37 56h1.4v1.4h-1.4zM36 57h2.4v1.4h-2.4zM35 58h2.4v1.4h-2.4zM35 59h1.4v1.4h-1.4zM34 60h1.4v1.4h-1.4zM33 61h1.4v1.4h-1.4zM32 62h2.4v1.4h-2.4zM32 63h1.4v1.4h-1.4zM31 64h2.4v1.4h-2.4zM31 65h1.4v1.4h-1.4zM31 66h1.4v1.4h-1.4zM30 67h1.4v1.4h-1.4zM30 68h1.4v1.4h-1.4zM29 69h1.4v1.4h-1.4zM29 70h1.4v1.4h-1.4zM28 72h1.4v1.4h-1.4zM28 73h1.4v1.4h-1.4zM28 74h1.4v1.4h-1.4zM29 82h1.4v1.4h-1.4zM33 90h1.4v1.4h-1.4zM34 91h1.4v1.4h-1.4zM35 92h1.4v1.4h-1.4zM36 93h1.4v1.4h-1.4zM36 109h1.4v1.4h-1.4zM34 114h1.4v1.4h-1.4zM33 121h1.4v1.4h-1.4zM33 127h1.4v1.4h-1.4zM33 128h1.4v1.4h-1.4zM33 129h1.4v1.4h-1.4zM33 130h1.4v1.4h-1.4zM33 131h1.4v1h-1.4z"/><path fill="#b1b65a" d="M30 2h1.4v1.4h-1.4zM31 3h1.4v1.4h-1.4zM35 7h1.4v1.4h-1.4zM39 19h1.4v1.4h-1.4zM36 21h1.4v1.4h-1.4zM36 22h1.4v1.4h-1.4zM36 23h1.4v1.4h-1.4zM35 24h1.4v1.4h-1.4zM35 25h1.4v1.4h-1.4zM35 26h1.4v1.4h-1.4zM35 27h1.4v1.4h-1.4zM34 28h1.4v1.4h-1.4zM34 29h1.4v1.4h-1.4zM34 30h1.4v1.4h-1.4zM34 31h1.4v1.4h-1.4zM34 32h1.4v1.4h-1.4zM34 33h1.4v1.4h-1.4zM34 34h1.4v1.4h-1.4zM35 35h1.4v1.4h-1.4zM35 36h1.4v1.4h-1.4zM36 37h1.4v1.4h-1.4zM36 38h1.4v1.4h-1.4zM37 39h1.4v1.4h-1.4zM50 39h1.4v1.4h-1.4zM37 40h1.4v1.4h-1.4zM38 41h1.4v1.4h-1.4zM51 41h1.4v1.4h-1.4zM39 43h1.4v1.4h-1.4zM52 43h1.4v1.4h-1.4zM39 44h1.4v1.4h-1.4zM40 45h1.4v1.4h-1.4zM41 47h1.4v1.4h-1.4zM42 48h1.4v1.4h-1.4zM42 51h1.4v1.4h-1.4zM41 53h1.4v1.4h-1.4zM40 54h1.4v1.4h-1.4zM39 55h1.4v1.4h-1.4zM38 56h2.4v1.4h-2.4zM38 57h1.4v1.4h-1.4zM37 58h1.4v1.4h-1.4zM36 59h1.4v1.4h-1.4zM35 60h1.4v1.4h-1.4zM34 61h2.4v1.4h-2.4zM34 62h1.4v1.4h-1.4zM33 63h1.4v1.4h-1.4zM33 64h1.4v1.4h-1.4zM32 65h2.4v1.4h-2.4zM32 66h1.4v1.4h-1.4zM31 67h1.4v1.4h-1.4zM31 68h1.4v1.4h-1.4zM30 69h1.4v1.4h-1.4zM29 71h1.4v1.4h-1.4zM29 72h1.4v1.4h-1.4zM28 75h1.4v1.4h-1.4zM28 76h1.4v1.4h-1.4zM28 77h1.4v1.4h-1.4zM28 78h1.4v1.4h-1.4zM30 84h1.4v1.4h-1.4zM32 88h1.4v1.4h-1.4zM37 94h1.4v1.4h-1.4zM40 99h1.4v1.4h-1.4zM40 100h1.4v1.4h-1.4zM39 103h1.4v1.4h-1.4zM37 107h1.4v1.4h-1.4zM35 112h1.4v1.4h-1.4zM34 115h1.4v1.4h-1.4zM34 119h1.4v1.4h-1.4zM34 120h1.4v1.4h-1.4zM33 122h1.4v1.4h-1.4zM33 126h1.4v1.4h-1.4z"/><path fill="#b6b558" d="M30 -2h1.4v1.4h-1.4zM30 -1h1.4v1.4h-1.4zM30 0h1.4v1.4h-1.4zM30 1h1.4v1.4h-1.4zM32 4h1.4v1.4h-1.4zM33 5h1.4v1.4h-1.4zM34 6h1.4v1.4h-1.4zM49 9h1.4v1.4h-1.4zM41 13h1.4v1.4h-1.4zM38 20h1.4v1.4h-1.4zM37 21h1.4v1.4h-1.4zM37 22h1.4v1.4h-1.4zM36 24h1.4v1.4h-1.4zM36 25h1.4v1.4h-1.4zM36 26h1.4v1.4h-1.4zM36 27h1.4v1.4h-1.4zM35 28h2.4v1.4h-2.4zM35 29h1.4v1.4h-1.4zM35 30h1.4v1.4h-1.4zM35 31h1.4v1.4h-1.4zM35 32h1.4v1.4h-1.4zM35 33h1.4v1.4h-1.4zM35 34h1.4v1.4h-1.4zM36 35h1.4v1.4h-1.4zM36 36h1.4v1.4h-1.4zM37 37h1.4v1.4h-1.4zM50 37h1.4v1.4h-1.4zM37 38h1.4v1.4h-1.4zM38 39h1.4v1.4h-1.4zM38 40h1.4v1.4h-1.4zM39 41h1.4v1.4h-1.4zM39 42h1.4v1.4h-1.4zM40 44h1.4v1.4h-1.4zM53 45h1.4v1.4h-1.4zM41 46h1.4v1.4h-1.4zM42 47h1.4v1.4h-1.4zM54 47h1.4v1.4h-1.4zM43 49h1.4v1.4h-1.4zM43 50h1.4v1.4h-1.4zM43 51h1.4v1.4h-1.4zM42 52h1.4v1.4h-1.4zM42 53h1.4v1.4h-1.4zM41 54h1.4v1.4h-1.4zM40 55h1.4v1.4h-1.4zM40 56h1.4v1.4h-1.4zM39 57h1.4v1.4h-1.4zM38 58h1.4v1.4h-1.4zM37 59h1.4v1.4h-1.4zM36 60h2.4v1.4h-2.4zM36 61h1.4v1.4h-1.4zM35 62h1.4v1.4h-1.4zM34 63h2.4v1.4h-2.4zM34 64h1.4v1.4h-1.4zM34 65h1.4v1.4h-1.4zM33 66h1.4v1.4h-1.4zM32 67h1.4v1.4h-1.4zM32 68h1.4v1.4h-1.4zM31 69h1.4v1.4h-1.4zM30 70h1.4v1.4h-1.4zM30 71h1.4v1.4h-1.4zM29 73h1.4v1.4h-1.4zM29 81h1.4v1.4h-1.4zM31 86h1.4v1.4h-1.4zM38 95h1.4v1.4h-1.4zM40 98h1.4v1.4h-1.4zM40 101h1.4v1.4h-1.4zM38 105h1.4v1.4h-1.4zM36 110h1.4v1.4h-1.4zM35 113h1.4v1.4h-1.4zM34 116h1.4v1.4h-1.4zM34 117h1.4v1.4h-1.4zM34 118h1.4v1.4h-1.4zM34 121h1.4v1.4h-1.4zM33 123h1.4v1.4h-1.4zM33 124h1.4v1.4h-1.4zM33 125h1.4v1.4h-1.4z"/><path fill="#bbb556" d="M31 2h1.4v1.4h-1.4zM32 3h1.4v1.4h-1.4zM47 6h1.4v1.4h-1.4zM42 16h1.4v1.4h-1.4zM41 18h1.4v1.4h-1.4zM40 19h1.4v1.4h-1.4zM39 20h1.4v1.4h-1.4zM38 21h1.4v1.4h-1.4zM37 23h1.4v1.4h-1.4zM37 24h2.4v1.4h-2.4zM37 25h2.4v1.4h-2.4zM37 26h1.4v1.4h-1.4zM37 27h1.4v1.4h-1.4zM37 28h1.4v1.4h-1.4zM36 29h2.4v1.4h-2.4zM36 30h1.4v1.4h-1.4zM55 30h1.4v1.4h-1.4zM36 31h1.4v1.4h-1.4zM36 32h1.4v1.4h-1.4zM36 33h1.4v1.4h-1.4zM36 34h1.4v1.4h-1.4zM52 34h1.4v1.4h-1.4zM37 35h1.4v1.4h-1.4zM37 36h1.4v1.4h-1.4zM38 37h1.4v1.4h-1.4zM38 38h1.4v1.4h-1.4zM39 39h1.4v1.4h-1.4zM39 40h1.4v1.4h-1.4zM40 42h1.4v1.4h-1.4zM40 43h1.4v1.4h-1.4zM41 44h1.4v1.4h-1.4zM41 45h1.4v1.4h-1.4zM42 46h1.4v1.4h-1.4zM43 48h1.4v1.4h-1.4zM44 49h1.4v1.4h-1.4zM44 50h1.4v1.4h-1.4zM56 50h1.4v1.4h-1.4zM43 52h1.4v1.4h-1.4zM43 53h1.4v1.4h-1.4zM42 54h1.4v1.4h-1.4zM59 54h1.4v1.4h-1.4zM41 55h1.4v1.4h-1.4zM41 56h1.4v1.4h-1.4zM60 56h1.4v1.4h-1.4zM40 57h1.4v1.4h-1.4zM39 58h1.4v1.4h-1.4zM38 59h2.4v1.4h-2.4zM38 60h1.4v1.4h-1.4zM37 61h1.4v1.4h-1.4zM36 62h2.4v1.4h-2.4zM36 63h1.4v1.4h-1.4zM35 64h2.4v1.4h-2.4zM35 65h1.4v1.4h-1.4zM34 66h1.4v1.4h-1.4zM33 67h2.4v1.4h-2.4zM33 68h1.4v1.4h-1.4zM32 69h1.4v1.4h-1.4zM31 70h1.4v1.4h-1.4zM30 72h1.4v1.4h-1.4zM29 74h1.4v1.4h-1.4zM29 80h1.4v1.4h-1.4zM30 83h1.4v1.4h-1.4zM32 87h1.4v1.4h-1.4zM33 89h1.4v1.4h-1.4zM39 96h1.4v1.4h-1.4zM40 102h1.4v1.4h-1.4zM39 104h1.4v1.4h-1.4zM56 105h1.4v1.4h-1.4zM37 108h1.4v1.4h-1.4zM36 111h1.4v1.4h-1.4zM35 114h1.4v1.4h-1.4zM34 122h1.4v1.4h-1.4zM34 127h1.4v1.4h-1.4zM34 128h1.4v1.4h-1.4zM34 129h1.4v1.4h-1.4zM34 130h1.4v1.4h-1.4zM34 131h1.4v1h-1.4z"/><path fill="#c1b554" d="M31 1h1.4v1.4h-1.4zM47 3h1.4v1.4h-1.4zM33 4h1.4v1.4h-1.4zM34 5h1.4v1.4h-1.4zM35 6h1.4v1.4h-1.4zM36 7h1.4v1.4h-1.4zM37 8h1.4v1.4h-1.4zM38 9h1.4v1.4h-1.4zM39 10h1.4v1.4h-1.4zM40 11h1.4v1.4h-1.4zM42 15h1.4v1.4h-1.4zM42 17h1.4v1.4h-1.4zM38 22h1.4v1.4h-1.4zM38 23h1.4v1.4h-1.4zM39 24h1.4v1.4h-1.4zM39 25h1.4v1.4h-1.4zM38 26h2.4v1.4h-2.4zM38 27h1.4v1.4h-1.4zM38 28h1.4v1.4h-1.4zM38 29h1.4v1.4h-1.4zM37 30h2.4v1.4h-2.4zM37 31h1.4v1.4h-1.4zM37 32h1.4v1.4h-1.4zM37 33h1.4v1.4h-1.4zM37 34h1.4v1.4h-1.4zM38 35h1.4v1.4h-1.4zM38 36h1.4v1.4h-1.4zM39 37h1.4v1.4h-1.4zM39 38h1.4v1.4h-1.4zM40 40h1.4v1.4h-1.4zM40 41h1.4v1.4h-1.4zM41 42h1.4v1.4h-1.4zM41 43h1.4v1.4h-1.4zM42 45h1.4v1.4h-1.4zM43 47h1.4v1.4h-1.4zM44 48h1.4v1.4h-1.4zM44 51h1.4v1.4h-1.4zM44 52h1.4v1.4h-1.4zM43 54h1.4v1.4h-1.4zM42 55h1.4v1.4h-1.4zM42 56h1.4v1.4h-1.4zM41 57h1.4v1.4h-1.4zM40 58h2.4v1.4h-2.4zM40 59h1.4v1.4h-1.4zM61 59h1.4v1.4h-1.4zM39 60h1.4v1.4h-1.4zM38 61h2.4v1.4h-2.4zM38 62h1.4v1.4h-1.4zM37 63h2.4v1.4h-2.4zM37 64h1.4v1.4h-1.4zM36 65h1.4v1.4h-1.4zM35 66h2.4v1.4h-2.4zM35 67h1.4v1.4h-1.4zM34 68h1.4v1.4h-1.4zM33 69h1.4v1.4h-1.4zM32 70h1.4v1.4h-1.4zM31 71h1.4v1.4h-1.4zM30 73h1.4v1.4h-1.4zM29 75h1.4v1.4h-1.4zM57 76h1.4v1.4h-1.4zM56 78h1.4v1.4h-1.4zM31 85h1.4v1.4h-1.4zM34 90h1.4v1.4h-1.4zM35 91h1.4v1.4h-1.4zM36 92h1.4v1.4h-1.4zM53 93h1.4v1.4h-1.4zM40 97h1.4v1.4h-1.4zM54 102h1.4v1.4h-1.4zM38 106h1.4v1.4h-1.4zM37 109h1.4v1.4h-1.4zM36 112h1.4v1.4h-1.4zM35 115h1.4v1.4h-1.4zM35 118h1.4v1.4h-1.4zM35 119h1.4v1.4h-1.4zM35 120h1.4v1.4h-1.4zM34 123h1.4v1.4h-1.4zM34 126h1.4v1.4h-1.4z"/><path fill="#c6b552" d="M31 -2h1.4v1.4h-1.4zM31 -1h1.4v1.4h-1.4zM31 0h1.4v1.4h-1.4zM32 2h1.4v1.4h-1.4zM33 3h1.4v1.4h-1.4zM41 12h1.4v1.4h-1.4zM42 14h1.4v1.4h-1.4zM41 19h1.4v1.4h-1.4zM40 20h1.4v1.4h-1.4zM39 21h1.4v1.4h-1.4zM39 22h1.4v1.4h-1.4zM39 23h1.4v1.4h-1.4zM40 24h1.4v1.4h-1.4zM40 25h1.4v1.4h-1.4zM40 26h1.4v1.4h-1.4zM39 27h2.4v1.4h-2.4zM39 28h1.4v1.4h-1.4zM39 29h1.4v1.4h-1.4zM39 30h1.4v1.4h-1.4zM38 31h2.4v1.4h-2.4zM38 32h1.4v1.4h-1.4zM38 33h1.4v1.4h-1.4zM38 34h1.4v1.4h-1.4zM39 35h1.4v1.4h-1.4zM39 36h1.4v1.4h-1.4zM40 37h1.4v1.4h-1.4zM40 38h1.4v1.4h-1.4zM40 39h1.4v1.4h-1.4zM41 40h1.4v1.4h-1.4zM41 41h1.4v1.4h-1.4zM42 43h1.4v1.4h-1.4zM42 44h1.4v1.4h-1.4zM43 46h1.4v1.4h-1.4zM44 47h1.4v1.4h-1.4zM45 49h1.4v1.4h-1.4zM45 50h1.4v1.4h-1.4zM45 51h1.4v1.4h-1.4zM44 53h1.4v1.4h-1.4zM44 54h1.4v1.4h-1.4zM43 55h1.4v1.4h-1.4zM43 56h1.4v1.4h-1.4zM42 57h1.4v1.4h-1.4zM42 58h1.4v1.4h-1.4zM41 59h1.4v1.4h-1.4zM40 60h2.4v1.4h-2.4zM40 61h1.4v1.4h-1.4zM39 62h1.4v1.4h-1.4zM39 63h1.4v1.4h-1.4zM61 63h1.4v1.4h-1.4zM38 64h1.4v1.4h-1.4zM37 65h2.4v1.4h-2.4zM37 66h1.4v1.4h-1.4zM60 66h1.4v1.4h-1.4zM36 67h1.4v1.4h-1.4zM35 68h1.4v1.4h-1.4zM34 69h1.4v1.4h-1.4zM59 69h1.4v1.4h-1.4zM33 70h1.4v1.4h-1.4zM32 71h1.4v1.4h-1.4zM31 72h1.4v1.4h-1.4zM58 73h1.4v1.4h-1.4zM30 74h1.4v1.4h-1.4zM29 76h1.4v1.4h-1.4zM29 79h1.4v1.4h-1.4zM30 82h1.4v1.4h-1.4zM51 83h1.4v1.4h-1.4zM31 84h1.4v1.4h-1.4zM50 85h1.4v1.4h-1.4zM32 86h1.4v1.4h-1.4zM50 87h1.4v1.4h-1.4zM33 88h1.4v1.4h-1.4zM51 90h1.4v1.4h-1.4zM37 93h1.4v1.4h-1.4zM40 103h1.4v1.4h-1.4zM39 105h1.4v1.4h-1.4zM38 107h1.4v1.4h-1.4zM37 110h1.4v1.4h-1.4zM36 113h1.4v1.4h-1.4zM64 115h1.4v1.4h-1.4zM35 116h1.4v1.4h-1.4zM35 117h1.4v1.4h-1.4zM65 118h1.4v1.4h-1.4zM35 121h1.4v1.4h-1.4zM66 123h1.4v1.4h-1.4zM34 124h1.4v1.4h-1.4zM34 125h1.4v1.4h-1.4zM35 128h1.4v1.4h-1.4zM35 129h1.4v1.4h-1.4zM35 130h1.4v1.4h-1.4zM35 131h1.4v1h-1.4z"/><path fill="#cbb451" d="M32 1h1.4v1.4h-1.4zM34 4h1.4v1.4h-1.4zM35 5h1.4v1.4h-1.4zM36 6h1.4v1.4h-1.4zM37 7h1.4v1.4h-1.4zM42 13h1.4v1.4h-1.4zM42 18h1.4v1.4h-1.4zM40 21h1.4v1.4h-1.4zM40 22h1.4v1.4h-1.4zM40 23h1.4v1.4h-1.4zM41 24h1.4v1.4h-1.4zM41 25h1.4v1.4h-1.4zM41 26h1.4v1.4h-1.4zM41 27h1.4v1.4h-1.4zM40 28h1.4v1.4h-1.4zM40 29h1.4v1.4h-1.4zM40 30h1.4v1.4h-1.4zM40 31h1.4v1.4h-1.4zM39 32h1.4v1.4h-1.4zM39 33h1.4v1.4h-1.4zM39 34h1.4v1.4h-1.4zM40 35h1.4v1.4h-1.4zM40 36h1.4v1.4h-1.4zM41 38h1.4v1.4h-1.4zM41 39h1.4v1.4h-1.4zM42 41h1.4v1.4h-1.4zM42 42h1.4v1.4h-1.4zM43 44h1.4v1.4h-1.4zM43 45h1.4v1.4h-1.4zM45 48h1.4v1.4h-1.4zM45 52h1.4v1.4h-1.4zM45 53h1.4v1.4h-1.4zM45 54h1.4v1.4h-1.4zM44 55h1.4v1.4h-1.4zM44 56h1.4v1.4h-1.4zM43 57h2.4v1.4h-2.4zM43 58h1.4v1.4h-1.4zM42 59h1.4v1.4h-1.4zM42 60h1.4v1.4h-1.4zM41 61h1.4v1.4h-1.4zM40 62h2.4v1.4h-2.4zM40 63h1.4v1.4h-1.4zM39 64h2.4v1.4h-2.4zM39 65h1.4v1.4h-1.4zM38 66h1.4v1.4h-1.4zM37 67h1.4v1.4h-1.4zM36 68h1.4v1.4h-1.4zM31 73h1.4v1.4h-1.4zM29 77h1.4v1.4h-1.4zM29 78h1.4v1.4h-1.4zM30 81h1.4v1.4h-1.4zM34 89h1.4v1.4h-1.4zM38 94h1.4v1.4h-1.4zM39 95h1.4v1.4h-1.4zM37 111h1.4v1.4h-1.4zM36 114h1.4v1.4h-1.4zM36 118h1.4v1.4h-1.4zM36 119h1.4v1.4h-1.4zM36 120h1.4v1.4h-1.4zM35 122h1.4v1.4h-1.4zM35 126h1.4v1.4h-1.4zM35 127h1.4v1.4h-1.4z"/><path fill="#d0b44f" d="M32 -2h1.4v1.4h-1.4zM32 -1h1.4v1.4h-1.4zM32 0h1.4v1.4h-1.4zM33 2h1.4v1.4h-1.4zM34 3h1.4v1.4h-1.4zM38 8h1.4v1.4h-1.4zM39 9h1.4v1.4h-1.4zM40 10h1.4v1.4h-1.4zM51 11h1.4v1.4h-1.4zM43 16h1.4v1.4h-1.4zM57 16h1.4v1.4h-1.4zM43 17h1.4v1.4h-1.4zM42 19h1.4v1.4h-1.4zM41 20h1.4v1.4h-1.4zM41 21h1.4v1.4h-1.4zM41 22h1.4v1.4h-1.4zM41 23h1.4v1.4h-1.4zM42 24h1.4v1.4h-1.4zM42 25h1.4v1.4h-1.4zM42 26h1.4v1.4h-1.4zM42 27h1.4v1.4h-1.4zM41 28h1.4v1.4h-1.4zM41 29h1.4v1.4h-1.4zM41 30h1.4v1.4h-1.4zM41 31h1.4v1.4h-1.4zM40 32h1.4v1.4h-1.4zM40 33h1.4v1.4h-1.4zM40 34h1.4v1.4h-1.4zM41 35h1.4v1.4h-1.4zM41 36h1.4v1.4h-1.4zM41 37h1.4v1.4h-1.4zM42 39h1.4v1.4h-1.4zM42 40h1.4v1.4h-1.4zM43 42h1.4v1.4h-1.4zM43 43h1.4v1.4h-1.4zM44 45h1.4v1.4h-1.4zM44 46h1.4v1.4h-1.4zM45 47h1.4v1.4h-1.4zM46 49h1.4v1.4h-1.4zM46 50h1.4v1.4h-1.4zM46 51h1.4v1.4h-1.4zM46 52h1.4v1.4h-1.4zM46 53h1.4v1.4h-1.4zM46 54h1.4v1.4h-1.4zM45 55h1.4v1.4h-1.4zM45 56h1.4v1.4h-1.4zM45 57h1.4v1.4h-1.4zM44 58h1.4v1.4h-1.4zM43 59h2.4v1.4h-2.4zM43 60h1.4v1.4h-1.4zM42 61h1.4v1.4h-1.4zM42 62h1.4v1.4h-1.4zM41 63h1.4v1.4h-1.4zM41 64h1.4v1.4h-1.4zM40 65h1.4v1.4h-1.4zM39 66h1.4v1.4h-1.4zM38 67h1.4v1.4h-1.4zM35 69h1.4v1.4h-1.4zM34 70h1.4v1.4h-1.4zM33 71h1.4v1.4h-1.4zM32 72h1.4v1.4h-1.4zM30 75h1.4v1.4h-1.4zM31 83h1.4v1.4h-1.4zM32 85h1.4v1.4h-1.4zM33 87h1.4v1.4h-1.4zM35 90h1.4v1.4h-1.4zM36 91h1.4v1.4h-1.4zM40 96h1.4v1.4h-1.4zM41 98h1.4v1.4h-1.4zM41 99h1.4v1.4h-1.4zM41 100h1.4v1.4h-1.4zM41 101h1.4v1.4h-1.4zM41 102h1.4v1.4h-1.4zM40 104h1.4v1.4h-1.4zM39 106h1.4v1.4h-1.4zM38 108h1.4v1.4h-1.4zM38 109h1.4v1.4h-1.4zM37 112h1.4v1.4h-1.4zM36 115h1.4v1.4h-1.4zM36 116h1.4v1.4h-1.4zM36 117h1.4v1.4h-1.4zM36 121h1.4v1.4h-1.4zM36 122h1.4v1.4h-1.4zM35 123h1.4v1.4h-1.4zM35 124h1.4v1.4h-1.4zM35 125h1.4v1.4h-1.4zM36 128h1.4v1.4h-1.4zM36 129h1.4v1.4h-1.4zM36 130h1.4v1.4h-1.4zM36 131h1.4v1h-1.4z"/><path fill="#d6b44d" d="M50 0h1.4v1.4h-1.4zM33 1h1.4v1.4h-1.4zM35 4h1.4v1.4h-1.4zM36 5h1.4v1.4h-1.4zM41 11h1.4v1.4h-1.4zM43 15h1.4v1.4h-1.4zM43 18h1.4v1.4h-1.4zM42 20h1.4v1.4h-1.4zM42 22h1.4v1.4h-1.4zM42 23h1.4v1.4h-1.4zM43 25h1.4v1.4h-1.4zM43 26h1.4v1.4h-1.4zM58 27h1.4v1.4h-1.4zM42 28h1.4v1.4h-1.4zM42 29h1.4v1.4h-1.4zM42 30h1.4v1.4h-1.4zM41 32h1.4v1.4h-1.4zM41 33h1.4v1.4h-1.4zM41 34h1.4v1.4h-1.4zM42 37h1.4v1.4h-1.4zM42 38h1.4v1.4h-1.4zM43 40h1.4v1.4h-1.4zM43 41h1.4v1.4h-1.4zM44 44h1.4v1.4h-1.4zM45 46h1.4v1.4h-1.4zM46 48h1.4v1.4h-1.4zM46 55h1.4v1.4h-1.4zM46 56h1.4v1.4h-1.4zM45 58h1.4v1.4h-1.4zM44 60h1.4v1.4h-1.4zM43 61h1.4v1.4h-1.4zM43 62h1.4v1.4h-1.4zM42 63h1.4v1.4h-1.4zM42 64h1.4v1.4h-1.4zM41 65h1.4v1.4h-1.4zM40 66h1.4v1.4h-1.4zM39 67h1.4v1.4h-1.4zM37 68h1.4v1.4h-1.4zM36 69h1.4v1.4h-1.4zM35 70h1.4v1.4h-1.4zM34 71h1.4v1.4h-1.4zM31 74h1.4v1.4h-1.4zM30 76h1.4v1.4h-1.4zM30 80h1.4v1.4h-1.4zM31 82h1.4v1.4h-1.4zM32 84h1.4v1.4h-1.4zM33 86h1.4v1.4h-1.4zM34 88h1.4v1.4h-1.4zM37 92h1.4v1.4h-1.4zM38 93h1.4v1.4h-1.4zM41 103h1.4v1.4h-1.4zM40 105h1.4v1.4h-1.4zM39 107h1.4v1.4h-1.4zM38 110h1.4v1.4h-1.4zM38 111h1.4v1.4h-1.4zM37 113h1.4v1.4h-1.4zM37 114h1.4v1.4h-1.4zM37 115h1.4v1.4h-1.4zM37 116h1.4v1.4h-1.4zM37 117h1.4v1.4h-1.4zM37 118h1.4v1.4h-1.4zM37 119h1.4v1.4h-1.4zM37 120h1.4v1.4h-1.4zM37 121h1.4v1.4h-1.4zM36 123h1.4v1.4h-1.4zM36 124h1.4v1.4h-1.4zM36 125h1.4v1.4h-1.4zM36 126h1.4v1.4h-1.4zM36 127h1.4v1.4h-1.4zM37 129h1.4v1.4h-1.4zM37 130h1.4v1.4h-1.4zM37 131h1.4v1h-1.4z"/><path fill="#dbb44b" d="M33 -2h1.4v1.4h-1.4zM33 -1h1.4v1.4h-1.4zM33 0h1.4v1.4h-1.4zM34 2h1.4v1.4h-1.4zM35 3h1.4v1.4h-1.4zM37 6h1.4v1.4h-1.4zM38 7h1.4v1.4h-1.4zM39 8h1.4v1.4h-1.4zM42 12h1.4v1.4h-1.4zM43 14h1.4v1.4h-1.4zM43 19h1.4v1.4h-1.4zM42 21h1.4v1.4h-1.4zM43 23h1.4v1.4h-1.4zM43 24h1.4v1.4h-1.4zM43 27h1.4v1.4h-1.4zM43 28h1.4v1.4h-1.4zM42 31h1.4v1.4h-1.4zM42 35h1.4v1.4h-1.4zM42 36h1.4v1.4h-1.4zM43 39h1.4v1.4h-1.4zM44 42h1.4v1.4h-1.4zM44 43h1.4v1.4h-1.4zM45 45h1.4v1.4h-1.4zM46 47h1.4v1.4h-1.4zM47 49h1.4v1.4h-1.4zM47 50h1.4v1.4h-1.4zM47 51h1.4v1.4h-1.4zM47 52h1.4v1.4h-1.4zM47 53h1.4v1.4h-1.4zM47 54h1.4v1.4h-1.4zM47 55h1.4v1.4h-1.4zM46 57h1.4v1.4h-1.4zM46 58h1.4v1.4h-1.4zM45 59h1.4v1.4h-1.4zM45 60h1.4v1.4h-1.4zM44 61h1.4v1.4h-1.4zM43 63h1.4v1.4h-1.4zM42 65h1.4v1.4h-1.4zM41 66h1.4v1.4h-1.4zM38 68h1.4v1.4h-1.4zM37 69h1.4v1.4h-1.4zM33 72h1.4v1.4h-1.4zM32 73h1.4v1.4h-1.4zM31 75h1.4v1.4h-1.4zM30 77h1.4v1.4h-1.4zM30 78h1.4v1.4h-1.4zM30 79h1.4v1.4h-1.4zM52 82h1.4v1.4h-1.4zM34 87h1.4v1.4h-1.4zM35 89h1.4v1.4h-1.4zM39 94h1.4v1.4h-1.4zM41 97h1.4v1.4h-1.4zM41 104h1.4v1.4h-1.4zM40 106h1.4v1.4h-1.4zM40 107h1.4v1.4h-1.4zM39 108h1.4v1.4h-1.4zM39 109h1.4v1.4h-1.4zM39 110h1.4v1.4h-1.4zM39 111h1.4v1.4h-1.4zM38 112h1.4v1.4h-1.4zM38 113h1.4v1.4h-1.4zM38 114h1.4v1.4h-1.4zM38 115h1.4v1.4h-1.4zM38 116h1.4v1.4h-1.4zM38 117h1.4v1.4h-1.4zM38 118h1.4v1.4h-1.4zM38 119h1.4v1.4h-1.4zM38 120h1.4v1.4h-1.4zM38 121h1.4v1.4h-1.4zM37 122h2.4v1.4h-2.4zM37 123h1.4v1.4h-1.4zM37 124h1.4v1.4h-1.4zM37 125h1.4v1.4h-1.4zM37 126h1.4v1.4h-1.4zM37 127h2.4v1.4h-2.4zM37 128h2.4v1.4h-2.4zM38 129h1.4v1.4h-1.4zM38 130h1.4v1.4h-1.4zM38 131h1.4v1h-1.4z"/><path fill="#e0b448" d="M34 -2h1.4v1.4h-1.4zM34 -1h1.4v1.4h-1.4zM34 0h1.4v1.4h-1.4zM34 1h1.4v1.4h-1.4zM36 4h1.4v1.4h-1.4zM37 5h1.4v1.4h-1.4zM40 9h1.4v1.4h-1.4zM41 10h1.4v1.4h-1.4zM43 13h1.4v1.4h-1.4zM44 16h1.4v1.4h-1.4zM44 17h1.4v1.4h-1.4zM44 18h1.4v1.4h-1.4zM43 20h1.4v1.4h-1.4zM43 21h1.4v1.4h-1.4zM43 22h1.4v1.4h-1.4zM44 24h1.4v1.4h-1.4zM44 25h1.4v1.4h-1.4zM44 26h1.4v1.4h-1.4zM43 29h1.4v1.4h-1.4zM43 30h1.4v1.4h-1.4zM42 32h1.4v1.4h-1.4zM42 33h1.4v1.4h-1.4zM42 34h1.4v1.4h-1.4zM43 37h1.4v1.4h-1.4zM43 38h1.4v1.4h-1.4zM44 40h1.4v1.4h-1.4zM44 41h1.4v1.4h-1.4zM45 44h1.4v1.4h-1.4zM47 56h1.4v1.4h-1.4zM47 57h1.4v1.4h-1.4zM46 59h1.4v1.4h-1.4zM45 61h1.4v1.4h-1.4zM44 62h1.4v1.4h-1.4zM44 63h1.4v1.4h-1.4zM43 64h1.4v1.4h-1.4zM40 67h1.4v1.4h-1.4zM39 68h1.4v1.4h-1.4zM36 70h1.4v1.4h-1.4zM35 71h1.4v1.4h-1.4zM32 74h1.4v1.4h-1.4zM31 81h1.4v1.4h-1.4zM32 83h1.4v1.4h-1.4zM33 85h1.4v1.4h-1.4zM35 88h1.4v1.4h-1.4zM36 90h1.4v1.4h-1.4zM37 91h1.4v1.4h-1.4zM38 92h1.4v1.4h-1.4zM40 95h1.4v1.4h-1.4zM42 100h1.4v1.4h-1.4zM42 101h1.4v1.4h-1.4zM42 102h1.4v1.4h-1.4zM42 103h1.4v1.4h-1.4zM41 105h1.4v1.4h-1.4zM41 106h1.4v1.4h-1.4zM40 108h1.4v1.4h-1.4zM40 109h1.4v1.4h-1.4zM40 110h1.4v1.4h-1.4zM40 111h1.4v1.4h-1.4zM39 112h2.4v1.4h-2.4zM39 113h1.4v1.4h-1.4zM39 114h1.4v1.4h-1.4zM39 115h1.4v1.4h-1.4zM39 116h1.4v1.4h-1.4zM39 117h1.4v1.4h-1.4zM39 118h1.4v1.4h-1.4zM39 119h2.4v1.4h-2.4zM39 120h2.4v1.4h-2.4zM39 121h1.4v1.4h-1.4zM39 122h1.4v1.4h-1.4zM38 123h2.4v1.4h-2.4zM38 124h1.4v1.4h-1.4zM38 125h2.4v1.4h-2.4zM38 126h2.4v1.4h-2.4zM39 127h1.4v1.4h-1.4zM39 128h1.4v1.4h-1.4zM39 129h1.4v1.4h-1.4zM39 130h1.4v1.4h-1.4zM39 131h1.4v1h-1.4z"/><path fill="#e4b544" d="M35 2h1.4v1.4h-1.4zM36 3h1.4v1.4h-1.4zM38 6h1.4v1.4h-1.4zM39 7h1.4v1.4h-1.4zM42 11h1.4v1.4h-1.4zM44 14h1.4v1.4h-1.4zM44 15h1.4v1.4h-1.4zM44 19h1.4v1.4h-1.4zM44 20h1.4v1.4h-1.4zM44 22h1.4v1.4h-1.4zM44 23h1.4v1.4h-1.4zM44 27h1.4v1.4h-1.4zM44 28h1.4v1.4h-1.4zM43 31h1.4v1.4h-1.4zM43 35h1.4v1.4h-1.4zM43 36h1.4v1.4h-1.4zM44 39h1.4v1.4h-1.4zM45 42h1.4v1.4h-1.4zM45 43h1.4v1.4h-1.4zM46 46h1.4v1.4h-1.4zM47 48h1.4v1.4h-1.4zM48 50h1.4v1.4h-1.4zM48 51h1.4v1.4h-1.4zM48 52h1.4v1.4h-1.4zM48 53h1.4v1.4h-1.4zM48 54h1.4v1.4h-1.4zM48 55h1.4v1.4h-1.4zM48 56h1.4v1.4h-1.4zM47 58h1.4v1.4h-1.4zM46 60h1.4v1.4h-1.4zM45 62h1.4v1.4h-1.4zM44 64h1.4v1.4h-1.4zM43 65h1.4v1.4h-1.4zM42 66h1.4v1.4h-1.4zM41 67h1.4v1.4h-1.4zM38 69h1.4v1.4h-1.4zM34 72h1.4v1.4h-1.4zM33 73h1.4v1.4h-1.4zM31 76h1.4v1.4h-1.4zM31 79h1.4v1.4h-1.4zM31 80h1.4v1.4h-1.4zM32 82h1.4v1.4h-1.4zM33 84h1.4v1.4h-1.4zM34 86h1.4v1.4h-1.4zM35 87h1.4v1.4h-1.4zM36 89h1.4v1.4h-1.4zM39 93h1.4v1.4h-1.4zM41 96h1.4v1.4h-1.4zM42 98h1.4v1.4h-1.4zM42 99h1.4v1.4h-1.4zM42 104h1.4v1.4h-1.4zM42 105h1.4v1.4h-1.4zM42 106h1.4v1.4h-1.4zM41 107h1.4v1.4h-1.4zM41 108h1.4v1.4h-1.4zM41 109h1.4v1.4h-1.4zM41 110h1.4v1.4h-1.4zM41 111h1.4v1.4h-1.4zM41 112h1.4v1.4h-1.4zM40 113h2.4v1.4h-2.4zM40 114h1.4v1.4h-1.4zM40 115h1.4v1.4h-1.4zM40 116h1.4v1.4h-1.4zM40 117h1.4v1.4h-1.4zM40 118h2.4v1.4h-2.4zM41 119h1.4v1.4h-1.4zM41 120h1.4v1.4h-1.4zM40 121h2.4v1.4h-2.4zM40 122h1.4v1.4h-1.4zM40 123h1.4v1.4h-1.4zM39 124h2.4v1.4h-2.4zM40 125h1.4v1.4h-1.4zM40 126h1.4v1.4h-1.4zM40 127h1.4v1.4h-1.4zM40 128h2.4v1.4h-2.4zM40 129h2.4v1.4h-2.4zM40 130h2.4v1.4h-2.4zM40 131h2.4v1h-2.4z"/><path fill="#e9b640" d="M35 -2h1.4v1.4h-1.4zM35 -1h1.4v1.4h-1.4zM35 0h1.4v1.4h-1.4zM35 1h1.4v1.4h-1.4zM36 2h1.4v1.4h-1.4zM37 4h1.4v1.4h-1.4zM38 5h1.4v1.4h-1.4zM40 8h1.4v1.4h-1.4zM41 9h1.4v1.4h-1.4zM43 12h1.4v1.4h-1.4zM44 13h1.4v1.4h-1.4zM45 16h1.4v1.4h-1.4zM45 17h1.4v1.4h-1.4zM45 18h1.4v1.4h-1.4zM44 21h1.4v1.4h-1.4zM63 22h1.4v1.4h-1.4zM45 24h1.4v1.4h-1.4zM45 25h1.4v1.4h-1.4zM45 26h1.4v1.4h-1.4zM44 29h1.4v1.4h-1.4zM43 32h1.4v1.4h-1.4zM43 33h1.4v1.4h-1.4zM43 34h1.4v1.4h-1.4zM44 38h1.4v1.4h-1.4zM45 41h1.4v1.4h-1.4zM46 44h1.4v1.4h-1.4zM46 45h1.4v1.4h-1.4zM47 47h1.4v1.4h-1.4zM48 49h1.4v1.4h-1.4zM48 57h1.4v1.4h-1.4zM48 58h1.4v1.4h-1.4zM47 59h1.4v1.4h-1.4zM46 61h1.4v1.4h-1.4zM45 63h1.4v1.4h-1.4zM44 65h1.4v1.4h-1.4zM43 66h1.4v1.4h-1.4zM40 68h1.4v1.4h-1.4zM37 70h1.4v1.4h-1.4zM36 71h1.4v1.4h-1.4zM32 75h1.4v1.4h-1.4zM31 77h1.4v1.4h-1.4zM31 78h1.4v1.4h-1.4zM32 81h1.4v1.4h-1.4zM33 83h1.4v1.4h-1.4zM34 85h1.4v1.4h-1.4zM36 88h1.4v1.4h-1.4zM37 90h1.4v1.4h-1.4zM38 91h1.4v1.4h-1.4zM40 94h1.4v1.4h-1.4zM42 97h1.4v1.4h-1.4zM43 102h1.4v1.4h-1.4zM43 103h1.4v1.4h-1.4zM43 104h1.4v1.4h-1.4zM43 105h1.4v1.4h-1.4zM42 107h1.4v1.4h-1.4zM42 108h1.4v1.4h-1.4zM42 109h1.4v1.4h-1.4zM42 110h1.4v1.4h-1.4zM42 111h1.4v1.4h-1.4zM42 112h1.4v1.4h-1.4zM42 113h1.4v1.4h-1.4zM41 114h2.4v1.4h-2.4zM41 115h1.4v1.4h-1.4zM41 116h1.4v1.4h-1.4zM41 117h2.4v1.4h-2.4zM42 118h1.4v1.4h-1.4zM42 119h1.4v1.4h-1.4zM42 120h1.4v1.4h-1.4zM42 121h1.4v1.4h-1.4zM41 122h2.4v1.4h-2.4zM41 123h1.4v1.4h-1.4zM41 124h1.4v1.4h-1.4zM41 125h1.4v1.4h-1.4zM41 126h2.4v1.4h-2.4zM41 127h2.4v1.4h-2.4zM42 128h1.4v1.4h-1.4zM42 129h1.4v1.4h-1.4zM42 130h1.4v1.4h-1.4zM42 131h1.4v1h-1.4z"/><path fill="#edb63c" d="M36 1h1.4v1.4h-1.4zM37 3h1.4v1.4h-1.4zM39 6h1.4v1.4h-1.4zM42 10h1.4v1.4h-1.4zM43 11h1.4v1.4h-1.4zM45 15h1.4v1.4h-1.4zM45 19h1.4v1.4h-1.4zM45 20h1.4v1.4h-1.4zM45 21h1.4v1.4h-1.4zM45 22h1.4v1.4h-1.4zM45 23h1.4v1.4h-1.4zM45 27h1.4v1.4h-1.4zM44 30h1.4v1.4h-1.4zM44 31h1.4v1.4h-1.4zM44 37h1.4v1.4h-1.4zM45 40h1.4v1.4h-1.4zM46 43h1.4v1.4h-1.4zM47 46h1.4v1.4h-1.4zM48 48h1.4v1.4h-1.4zM49 52h1.4v1.4h-1.4zM49 53h1.4v1.4h-1.4zM49 54h1.4v1.4h-1.4zM49 55h1.4v1.4h-1.4zM49 56h1.4v1.4h-1.4zM49 57h1.4v1.4h-1.4zM48 59h1.4v1.4h-1.4zM47 60h1.4v1.4h-1.4zM47 61h1.4v1.4h-1.4zM46 62h1.4v1.4h-1.4zM46 63h1.4v1.4h-1.4zM45 64h1.4v1.4h-1.4zM45 65h1.4v1.4h-1.4zM42 67h1.4v1.4h-1.4zM39 69h1.4v1.4h-1.4zM35 72h1.4v1.4h-1.4zM34 73h1.4v1.4h-1.4zM33 74h1.4v1.4h-1.4zM32 76h1.4v1.4h-1.4zM32 80h1.4v1.4h-1.4zM33 82h1.4v1.4h-1.4zM34 84h1.4v1.4h-1.4zM35 86h1.4v1.4h-1.4zM36 87h1.4v1.4h-1.4zM37 89h1.4v1.4h-1.4zM38 90h1.4v1.4h-1.4zM39 92h1.4v1.4h-1.4zM40 93h1.4v1.4h-1.4zM41 95h1.4v1.4h-1.4zM43 100h1.4v1.4h-1.4zM43 101h1.4v1.4h-1.4zM43 106h1.4v1.4h-1.4zM43 107h1.4v1.4h-1.4zM43 108h1.4v1.4h-1.4zM43 109h1.4v1.4h-1.4zM43 110h1.4v1.4h-1.4zM43 111h1.4v1.4h-1.4zM43 112h1.4v1.4h-1.4zM43 113h1.4v1.4h-1.4zM43 114h1.4v1.4h-1.4zM42 115h2.4v1.4h-2.4zM42 116h2.4v1.4h-2.4zM43 117h1.4v1.4h-1.4zM43 118h1.4v1.4h-1.4zM43 119h1.4v1.4h-1.4zM43 120h1.4v1.4h-1.4zM43 121h1.4v1.4h-1.4zM43 122h1.4v1.4h-1.4zM42 123h2.4v1.4h-2.4zM42 124h2.4v1.4h-2.4zM42 125h2.4v1.4h-2.4zM43 126h1.4v1.4h-1.4zM43 127h1.4v1.4h-1.4zM43 128h1.4v1.4h-1.4zM43 129h1.4v1.4h-1.4zM43 130h1.4v1.4h-1.4zM43 131h1.4v1h-1.4z"/><path fill="#f1b738" d="M36 -2h1.4v1.4h-1.4zM36 -1h1.4v1.4h-1.4zM36 0h1.4v1.4h-1.4zM37 2h1.4v1.4h-1.4zM38 4h1.4v1.4h-1.4zM39 5h1.4v1.4h-1.4zM40 7h1.4v1.4h-1.4zM41 8h1.4v1.4h-1.4zM44 12h1.4v1.4h-1.4zM45 14h1.4v1.4h-1.4zM46 16h1.4v1.4h-1.4zM46 17h1.4v1.4h-1.4zM46 18h1.4v1.4h-1.4zM46 19h1.4v1.4h-1.4zM46 23h1.4v1.4h-1.4zM46 24h1.4v1.4h-1.4zM46 25h1.4v1.4h-1.4zM46 26h1.4v1.4h-1.4zM45 28h1.4v1.4h-1.4zM44 32h1.4v1.4h-1.4zM44 34h1.4v1.4h-1.4zM44 35h1.4v1.4h-1.4zM44 36h1.4v1.4h-1.4zM45 39h1.4v1.4h-1.4zM46 42h1.4v1.4h-1.4zM47 45h1.4v1.4h-1.4zM48 47h1.4v1.4h-1.4zM49 50h1.4v1.4h-1.4zM49 51h1.4v1.4h-1.4zM49 58h1.4v1.4h-1.4zM48 60h1.4v1.4h-1.4zM47 62h1.4v1.4h-1.4zM46 64h1.4v1.4h-1.4zM44 66h1.4v1.4h-1.4zM43 67h1.4v1.4h-1.4zM41 68h1.4v1.4h-1.4zM38 70h1.4v1.4h-1.4zM37 71h1.4v1.4h-1.4zM33 75h1.4v1.4h-1.4zM32 77h1.4v1.4h-1.4zM32 78h1.4v1.4h-1.4zM32 79h1.4v1.4h-1.4zM33 81h1.4v1.4h-1.4zM34 83h1.4v1.4h-1.4zM35 85h1.4v1.4h-1.4zM37 88h1.4v1.4h-1.4zM39 91h1.4v1.4h-1.4zM41 94h1.4v1.4h-1.4zM42 96h1.4v1.4h-1.4zM43 99h1.4v1.4h-1.4zM44 102h1.4v1.4h-1.4zM44 103h1.4v1.4h-1.4zM44 104h1.4v1.4h-1.4zM44 105h1.4v1.4h-1.4zM44 106h1.4v1.4h-1.4zM44 107h1.4v1.4h-1.4zM44 108h1.4v1.4h-1.4zM44 109h1.4v1.4h-1.4zM44 110h1.4v1.4h-1.4zM44 111h1.4v1.4h-1.4zM44 112h1.4v1.4h-1.4zM44 113h1.4v1.4h-1.4zM44 114h1.4v1.4h-1.4zM44 115h1.4v1.4h-1.4zM44 116h1.4v1.4h-1.4zM44 117h1.4v1.4h-1.4zM44 118h1.4v1.4h-1.4zM44 119h2.4v1.4h-2.4zM44 120h2.4v1.4h-2.4zM44 121h2.4v1.4h-2.4zM44 122h1.4v1.4h-1.4zM44 123h1.4v1.4h-1.4zM44 124h1.4v1.4h-1.4zM44 125h1.4v1.4h-1.4zM44 126h1.4v1.4h-1.4zM44 127h2.4v1.4h-2.4zM44 128h2.4v1.4h-2.4zM44 129h2.4v1.4h-2.4zM44 130h2.4v1.4h-2.4zM44 131h2.4v1h-2.4z"/><path fill="#f6b734" d="M37 -2h1.4v1.4h-1.4zM37 -1h1.4v1.4h-1.4zM37 0h1.4v1.4h-1.4zM37 1h1.4v1.4h-1.4zM38 3h1.4v1.4h-1.4zM40 6h1.4v1.4h-1.4zM42 9h1.4v1.4h-1.4zM43 10h1.4v1.4h-1.4zM45 13h1.4v1.4h-1.4zM46 15h1.4v1.4h-1.4zM46 20h1.4v1.4h-1.4zM46 21h1.4v1.4h-1.4zM46 22h1.4v1.4h-1.4zM46 27h1.4v1.4h-1.4zM45 29h1.4v1.4h-1.4zM45 30h1.4v1.4h-1.4zM44 33h1.4v1.4h-1.4zM45 38h1.4v1.4h-1.4zM46 40h1.4v1.4h-1.4zM46 41h1.4v1.4h-1.4zM47 43h1.4v1.4h-1.4zM47 44h1.4v1.4h-1.4zM49 49h1.4v1.4h-1.4zM50 52h1.4v1.4h-1.4zM50 53h1.4v1.4h-1.4zM50 54h1.4v1.4h-1.4zM50 55h1.4v1.4h-1.4zM50 56h1.4v1.4h-1.4zM50 57h1.4v1.4h-1.4zM50 58h1.4v1.4h-1.4zM49 59h1.4v1.4h-1.4zM48 61h1.4v1.4h-1.4zM47 63h1.4v1.4h-1.4zM46 65h1.4v1.4h-1.4zM45 66h1.4v1.4h-1.4zM42 68h1.4v1.4h-1.4zM40 69h1.4v1.4h-1.4zM39 70h1.4v1.4h-1.4zM36 72h1.4v1.4h-1.4zM35 73h1.4v1.4h-1.4zM34 74h1.4v1.4h-1.4zM33 76h1.4v1.4h-1.4zM33 80h1.4v1.4h-1.4zM34 82h1.4v1.4h-1.4zM35 84h1.4v1.4h-1.4zM36 86h1.4v1.4h-1.4zM37 87h1.4v1.4h-1.4zM38 89h1.4v1.4h-1.4zM39 90h1.4v1.4h-1.4zM40 92h1.4v1.4h-1.4zM41 93h1.4v1.4h-1.4zM42 95h1.4v1.4h-1.4zM43 98h1.4v1.4h-1.4zM44 101h1.4v1.4h-1.4zM45 104h1.4v1.4h-1.4zM45 105h1.4v1.4h-1.4zM45 106h1.4v1.4h-1.4zM45 107h1.4v1.4h-1.4zM45 108h1.4v1.4h-1.4zM45 109h1.4v1.4h-1.4zM45 110h1.4v1.4h-1.4zM45 111h1.4v1.4h-1.4zM45 112h1.4v1.4h-1.4zM45 113h1.4v1.4h-1.4zM45 114h1.4v1.4h-1.4zM45 115h1.4v1.4h-1.4zM45 116h1.4v1.4h-1.4zM45 117h1.4v1.4h-1.4zM45 118h2.4v1.4h-2.4zM46 119h1.4v1.4h-1.4zM46 120h1.4v1.4h-1.4zM46 121h1.4v1.4h-1.4zM45 122h2.4v1.4h-2.4zM45 123h2.4v1.4h-2.4zM45 124h2.4v1.4h-2.4zM45 125h2.4v1.4h-2.4zM45 126h2.4v1.4h-2.4zM46 127h1.4v1.4h-1.4zM46 128h1.4v1.4h-1.4zM46 129h1.4v1.4h-1.4zM46 130h1.4v1.4h-1.4zM46 131h1.4v1h-1.4z"/><path fill="#fab830" d="M38 2h1.4v1.4h-1.4zM39 4h1.4v1.4h-1.4zM41 7h1.4v1.4h-1.4zM44 11h1.4v1.4h-1.4zM45 12h1.4v1.4h-1.4zM46 14h1.4v1.4h-1.4zM47 16h1.4v1.4h-1.4zM47 17h1.4v1.4h-1.4zM47 18h1.4v1.4h-1.4zM47 19h1.4v1.4h-1.4zM47 20h1.4v1.4h-1.4zM47 21h1.4v1.4h-1.4zM47 22h1.4v1.4h-1.4zM47 23h1.4v1.4h-1.4zM47 24h1.4v1.4h-1.4zM47 25h1.4v1.4h-1.4zM47 26h1.4v1.4h-1.4zM46 28h1.4v1.4h-1.4zM45 31h1.4v1.4h-1.4zM45 36h1.4v1.4h-1.4zM45 37h1.4v1.4h-1.4zM50 40h1.4v1.4h-1.4zM47 42h1.4v1.4h-1.4zM51 42h1.4v1.4h-1.4zM48 45h1.4v1.4h-1.4zM48 46h1.4v1.4h-1.4zM49 48h1.4v1.4h-1.4zM50 51h1.4v1.4h-1.4zM51 56h1.4v1.4h-1.4zM50 59h1.4v1.4h-1.4zM49 60h1.4v1.4h-1.4zM48 62h1.4v1.4h-1.4zM48 63h1.4v1.4h-1.4zM47 64h1.4v1.4h-1.4zM47 65h1.4v1.4h-1.4zM44 67h1.4v1.4h-1.4zM41 69h1.4v1.4h-1.4zM38 71h1.4v1.4h-1.4zM33 77h1.4v1.4h-1.4zM33 79h1.4v1.4h-1.4zM34 81h1.4v1.4h-1.4zM35 83h1.4v1.4h-1.4zM36 85h1.4v1.4h-1.4zM38 88h1.4v1.4h-1.4zM40 91h1.4v1.4h-1.4zM42 94h1.4v1.4h-1.4zM43 97h1.4v1.4h-1.4zM44 100h1.4v1.4h-1.4zM45 103h1.4v1.4h-1.4zM46 104h1.4v1.4h-1.4zM46 105h1.4v1.4h-1.4zM46 106h1.4v1.4h-1.4zM46 107h1.4v1.4h-1.4zM46 108h1.4v1.4h-1.4zM46 109h1.4v1.4h-1.4zM46 110h1.4v1.4h-1.4zM46 111h2.4v1.4h-2.4zM46 112h2.4v1.4h-2.4zM46 113h2.4v1.4h-2.4zM46 114h1.4v1.4h-1.4zM46 115h1.4v1.4h-1.4zM46 116h1.4v1.4h-1.4zM46 117h2.4v1.4h-2.4zM47 118h1.4v1.4h-1.4zM47 119h1.4v1.4h-1.4zM47 120h1.4v1.4h-1.4zM47 121h1.4v1.4h-1.4zM47 122h1.4v1.4h-1.4zM47 123h1.4v1.4h-1.4zM47 124h1.4v1.4h-1.4zM47 125h1.4v1.4h-1.4zM47 126h1.4v1.4h-1.4zM47 127h1.4v1.4h-1.4zM47 128h1.4v1.4h-1.4zM47 129h1.4v1.4h-1.4zM47 130h1.4v1.4h-1.4zM47 131h1.4v1h-1.4z"/><path fill="#fbba2b" d="M38 -2h1.4v1.4h-1.4zM38 -1h1.4v1.4h-1.4zM38 0h1.4v1.4h-1.4zM38 1h1.4v1.4h-1.4zM39 3h1.4v1.4h-1.4zM40 5h1.4v1.4h-1.4zM41 6h1.4v1.4h-1.4zM42 8h1.4v1.4h-1.4zM43 9h1.4v1.4h-1.4zM46 13h1.4v1.4h-1.4zM47 15h1.4v1.4h-1.4zM47 27h1.4v1.4h-1.4zM46 29h1.4v1.4h-1.4zM45 32h1.4v1.4h-1.4zM45 33h1.4v1.4h-1.4zM45 34h1.4v1.4h-1.4zM45 35h1.4v1.4h-1.4zM46 39h1.4v1.4h-1.4zM47 41h1.4v1.4h-1.4zM48 44h1.4v1.4h-1.4zM52 44h1.4v1.4h-1.4zM53 46h1.4v1.4h-1.4zM49 47h1.4v1.4h-1.4zM50 50h1.4v1.4h-1.4zM51 53h1.4v1.4h-1.4zM51 54h1.4v1.4h-1.4zM51 55h1.4v1.4h-1.4zM51 57h1.4v1.4h-1.4zM51 58h1.4v1.4h-1.4zM50 60h1.4v1.4h-1.4zM49 61h1.4v1.4h-1.4zM49 62h1.4v1.4h-1.4zM48 64h1.4v1.4h-1.4zM46 66h1.4v1.4h-1.4zM43 68h1.4v1.4h-1.4zM40 70h1.4v1.4h-1.4zM37 72h1.4v1.4h-1.4zM35 74h1.4v1.4h-1.4zM34 75h1.4v1.4h-1.4zM33 78h1.4v1.4h-1.4zM34 80h1.4v1.4h-1.4zM35 82h1.4v1.4h-1.4zM36 84h1.4v1.4h-1.4zM37 86h1.4v1.4h-1.4zM38 87h1.4v1.4h-1.4zM39 89h1.4v1.4h-1.4zM40 90h1.4v1.4h-1.4zM41 92h1.4v1.4h-1.4zM42 93h1.4v1.4h-1.4zM43 96h1.4v1.4h-1.4zM44 99h1.4v1.4h-1.4zM45 102h1.4v1.4h-1.4zM46 103h1.4v1.4h-1.4zM47 105h1.4v1.4h-1.4zM47 106h1.4v1.4h-1.4zM47 107h1.4v1.4h-1.4zM47 108h1.4v1.4h-1.4zM47 109h1.4v1.4h-1.4zM47 110h1.4v1.4h-1.4zM48 111h1.4v1.4h-1.4zM48 112h1.4v1.4h-1.4zM48 113h1.4v1.4h-1.4zM47 114h2.4v1.4h-2.4zM47 115h2.4v1.4h-2.4zM47 116h2.4v1.4h-2.4zM48 117h1.4v1.4h-1.4zM48 118h1.4v1.4h-1.4zM48 119h1.4v1.4h-1.4zM48 120h1.4v1.4h-1.4zM48 121h2.4v1.4h-2.4zM48 122h1.4v1.4h-1.4zM48 123h1.4v1.4h-1.4zM48 124h1.4v1.4h-1.4zM48 125h2.4v1.4h-2.4zM48 126h2.4v1.4h-2.4zM48 127h2.4v1.4h-2.4zM48 128h2.4v1.4h-2.4zM48 129h2.4v1.4h-2.4zM48 130h2.4v1.4h-2.4zM48 131h2.4v1h-2.4z"/><path fill="#fcbd26" d="M39 0h1.4v1.4h-1.4zM39 1h1.4v1.4h-1.4zM39 2h1.4v1.4h-1.4zM40 4h1.4v1.4h-1.4zM42 7h1.4v1.4h-1.4zM48 8h1.4v1.4h-1.4zM44 10h1.4v1.4h-1.4zM45 11h1.4v1.4h-1.4zM47 14h1.4v1.4h-1.4zM48 16h1.4v1.4h-1.4zM48 17h1.4v1.4h-1.4zM48 18h1.4v1.4h-1.4zM48 19h1.4v1.4h-1.4zM48 20h1.4v1.4h-1.4zM48 21h1.4v1.4h-1.4zM48 22h1.4v1.4h-1.4zM48 23h1.4v1.4h-1.4zM48 24h1.4v1.4h-1.4zM48 25h1.4v1.4h-1.4zM48 26h1.4v1.4h-1.4zM47 28h1.4v1.4h-1.4zM46 30h1.4v1.4h-1.4zM46 31h1.4v1.4h-1.4zM51 35h1.4v1.4h-1.4zM46 38h1.4v1.4h-1.4zM47 40h1.4v1.4h-1.4zM48 43h1.4v1.4h-1.4zM49 46h1.4v1.4h-1.4zM54 48h1.4v1.4h-1.4zM50 49h1.4v1.4h-1.4zM55 49h1.4v1.4h-1.4zM51 51h1.4v1.4h-1.4zM51 52h1.4v1.4h-1.4zM52 55h1.4v1.4h-1.4zM52 56h1.4v1.4h-1.4zM52 57h1.4v1.4h-1.4zM51 59h1.4v1.4h-1.4zM50 61h1.4v1.4h-1.4zM49 63h1.4v1.4h-1.4zM48 65h1.4v1.4h-1.4zM47 66h1.4v1.4h-1.4zM45 67h1.4v1.4h-1.4zM42 69h1.4v1.4h-1.4zM39 71h1.4v1.4h-1.4zM36 73h1.4v1.4h-1.4zM34 76h1.4v1.4h-1.4zM34 79h1.4v1.4h-1.4zM35 81h1.4v1.4h-1.4zM36 83h1.4v1.4h-1.4zM37 85h1.4v1.4h-1.4zM39 88h1.4v1.4h-1.4zM40 89h1.4v1.4h-1.4zM41 91h1.4v1.4h-1.4zM42 92h1.4v1.4h-1.4zM43 94h1.4v1.4h-1.4zM43 95h1.4v1.4h-1.4zM44 98h1.4v1.4h-1.4zM45 101h1.4v1.4h-1.4zM47 104h1.4v1.4h-1.4zM55 104h1.4v1.4h-1.4zM48 106h1.4v1.4h-1.4zM48 107h1.4v1.4h-1.4zM48 108h1.4v1.4h-1.4zM48 109h1.4v1.4h-1.4zM48 110h2.4v1.4h-2.4zM49 111h1.4v1.4h-1.4zM49 112h1.4v1.4h-1.4zM49 113h1.4v1.4h-1.4zM49 114h1.4v1.4h-1.4zM49 115h1.4v1.4h-1.4zM49 116h1.4v1.4h-1.4zM49 117h1.4v1.4h-1.4zM49 118h1.4v1.4h-1.4zM49 119h2.4v1.4h-2.4zM49 120h2.4v1.4h-2.4zM50 121h1.4v1.4h-1.4zM49 122h2.4v1.4h-2.4zM49 123h2.4v1.4h-2.4zM49 124h2.4v1.4h-2.4zM50 125h1.4v1.4h-1.4zM50 126h1.4v1.4h-1.4zM50 127h1.4v1.4h-1.4zM50 128h1.4v1.4h-1.4zM50 129h1.4v1.4h-1.4zM50 130h1.4v1.4h-1.4zM50 131h1.4v1h-1.4z"/><path fill="#fcbf22" d="M39 -2h1.4v1.4h-1.4zM39 -1h1.4v1.4h-1.4zM51 -1h1.4v1.4h-1.4zM48 1h1.4v1.4h-1.4zM40 2h1.4v1.4h-1.4zM40 3h1.4v1.4h-1.4zM41 5h1.4v1.4h-1.4zM42 6h1.4v1.4h-1.4zM47 7h1.4v1.4h-1.4zM43 8h1.4v1.4h-1.4zM49 10h1.4v1.4h-1.4zM46 12h1.4v1.4h-1.4zM52 12h1.4v1.4h-1.4zM53 13h1.4v1.4h-1.4zM54 14h1.4v1.4h-1.4zM48 15h1.4v1.4h-1.4zM55 15h1.4v1.4h-1.4zM49 18h1.4v1.4h-1.4zM49 19h1.4v1.4h-1.4zM49 20h1.4v1.4h-1.4zM49 21h1.4v1.4h-1.4zM49 22h1.4v1.4h-1.4zM49 23h1.4v1.4h-1.4zM49 24h1.4v1.4h-1.4zM48 27h1.4v1.4h-1.4zM47 29h1.4v1.4h-1.4zM54 31h1.4v1.4h-1.4zM46 32h1.4v1.4h-1.4zM46 33h1.4v1.4h-1.4zM46 34h1.4v1.4h-1.4zM46 35h1.4v1.4h-1.4zM46 36h1.4v1.4h-1.4zM50 36h1.4v1.4h-1.4zM46 37h1.4v1.4h-1.4zM47 39h1.4v1.4h-1.4zM48 41h1.4v1.4h-1.4zM48 42h1.4v1.4h-1.4zM49 45h1.4v1.4h-1.4zM50 48h1.4v1.4h-1.4zM51 50h1.4v1.4h-1.4zM56 51h1.4v1.4h-1.4zM57 52h1.4v1.4h-1.4zM52 53h1.4v1.4h-1.4zM58 53h1.4v1.4h-1.4zM52 54h1.4v1.4h-1.4zM59 55h1.4v1.4h-1.4zM60 57h1.4v1.4h-1.4zM52 58h1.4v1.4h-1.4zM52 59h1.4v1.4h-1.4zM51 60h1.4v1.4h-1.4zM50 62h1.4v1.4h-1.4zM49 64h1.4v1.4h-1.4zM49 65h1.4v1.4h-1.4zM46 67h1.4v1.4h-1.4zM44 68h1.4v1.4h-1.4zM41 70h1.4v1.4h-1.4zM38 72h1.4v1.4h-1.4zM35 75h1.4v1.4h-1.4zM34 77h1.4v1.4h-1.4zM34 78h1.4v1.4h-1.4zM35 80h1.4v1.4h-1.4zM36 82h1.4v1.4h-1.4zM37 84h1.4v1.4h-1.4zM38 86h1.4v1.4h-1.4zM39 87h1.4v1.4h-1.4zM41 90h1.4v1.4h-1.4zM52 92h1.4v1.4h-1.4zM43 93h1.4v1.4h-1.4zM44 96h1.4v1.4h-1.4zM44 97h1.4v1.4h-1.4zM45 100h1.4v1.4h-1.4zM46 102h1.4v1.4h-1.4zM47 103h1.4v1.4h-1.4zM48 104h1.4v1.4h-1.4zM48 105h1.4v1.4h-1.4zM56 106h1.4v1.4h-1.4zM49 107h1.4v1.4h-1.4zM57 107h1.4v1.4h-1.4zM49 108h1.4v1.4h-1.4zM58 108h1.4v1.4h-1.4zM49 109h1.4v1.4h-1.4zM59 109h1.4v1.4h-1.4zM50 110h1.4v1.4h-1.4zM60 110h1.4v1.4h-1.4zM50 111h1.4v1.4h-1.4zM50 112h1.4v1.4h-1.4zM50 113h1.4v1.4h-1.4zM63 113h1.4v1.4h-1.4zM50 114h1.4v1.4h-1.4zM50 115h1.4v1.4h-1.4zM50 116h1.4v1.4h-1.4zM50 117h1.4v1.4h-1.4zM50 118h2.4v1.4h-2.4zM51 119h1.4v1.4h-1.4zM51 120h1.4v1.4h-1.4zM51 121h1.4v1.4h-1.4zM51 122h1.4v1.4h-1.4zM51 123h1.4v1.4h-1.4zM51 124h1.4v1.4h-1.4zM51 125h1.4v1.4h-1.4zM51 126h1.4v1.4h-1.4zM51 127h2.4v1.4h-2.4zM51 128h2.4v1.4h-2.4zM51 129h2.4v1.4h-2.4zM51 130h2.4v1.4h-2.4zM51 131h2.4v1h-2.4z"/><path fill="#fdc11d" d="M40 -2h1.4v1.4h-1.4zM40 -1h1.4v1.4h-1.4zM40 0h1.4v1.4h-1.4zM40 1h1.4v1.4h-1.4zM47 2h1.4v1.4h-1.4zM41 3h1.4v1.4h-1.4zM41 4h1.4v1.4h-1.4zM43 7h1.4v1.4h-1.4zM44 9h1.4v1.4h-1.4zM45 10h1.4v1.4h-1.4zM50 11h1.4v1.4h-1.4zM47 13h1.4v1.4h-1.4zM49 17h1.4v1.4h-1.4zM58 17h1.4v1.4h-1.4zM59 18h1.4v1.4h-1.4zM60 19h1.4v1.4h-1.4zM61 20h1.4v1.4h-1.4zM62 21h1.4v1.4h-1.4zM62 23h1.4v1.4h-1.4zM61 24h1.4v1.4h-1.4zM49 25h1.4v1.4h-1.4zM60 25h1.4v1.4h-1.4zM59 26h1.4v1.4h-1.4zM56 28h1.4v1.4h-1.4zM55 29h1.4v1.4h-1.4zM47 30h1.4v1.4h-1.4zM53 32h1.4v1.4h-1.4zM52 33h1.4v1.4h-1.4zM47 38h1.4v1.4h-1.4zM49 43h1.4v1.4h-1.4zM49 44h1.4v1.4h-1.4zM50 47h1.4v1.4h-1.4zM51 49h1.4v1.4h-1.4zM52 52h1.4v1.4h-1.4zM53 55h1.4v1.4h-1.4zM53 56h1.4v1.4h-1.4zM53 57h1.4v1.4h-1.4zM53 58h1.4v1.4h-1.4zM52 60h1.4v1.4h-1.4zM61 60h1.4v1.4h-1.4zM51 61h1.4v1.4h-1.4zM61 62h1.4v1.4h-1.4zM50 63h1.4v1.4h-1.4zM50 64h1.4v1.4h-1.4zM60 65h1.4v1.4h-1.4zM48 66h1.4v1.4h-1.4zM45 68h1.4v1.4h-1.4zM43 69h1.4v1.4h-1.4zM40 71h1.4v1.4h-1.4zM37 73h1.4v1.4h-1.4zM36 74h1.4v1.4h-1.4zM35 76h1.4v1.4h-1.4zM35 79h1.4v1.4h-1.4zM55 79h1.4v1.4h-1.4zM36 81h1.4v1.4h-1.4zM53 81h1.4v1.4h-1.4zM37 83h1.4v1.4h-1.4zM38 85h1.4v1.4h-1.4zM40 88h1.4v1.4h-1.4zM50 88h1.4v1.4h-1.4zM41 89h1.4v1.4h-1.4zM42 91h1.4v1.4h-1.4zM43 92h1.4v1.4h-1.4zM53 94h1.4v1.4h-1.4zM44 95h1.4v1.4h-1.4zM45 99h1.4v1.4h-1.4zM46 101h1.4v1.4h-1.4zM54 103h1.4v1.4h-1.4zM49 105h1.4v1.4h-1.4zM49 106h1.4v1.4h-1.4zM50 107h1.4v1.4h-1.4zM50 108h1.4v1.4h-1.4zM50 109h1.4v1.4h-1.4zM51 110h1.4v1.4h-1.4zM51 111h1.4v1.4h-1.4zM61 111h1.4v1.4h-1.4zM51 112h1.4v1.4h-1.4zM62 112h1.4v1.4h-1.4zM51 113h1.4v1.4h-1.4zM51 114h1.4v1.4h-1.4zM51 115h1.4v1.4h-1.4zM51 116h1.4v1.4h-1.4zM64 116h1.4v1.4h-1.4zM51 117h2.4v1.4h-2.4zM52 118h1.4v1.4h-1.4zM52 119h1.4v1.4h-1.4zM65 119h1.4v1.4h-1.4zM52 120h1.4v1.4h-1.4zM52 121h1.4v1.4h-1.4zM52 122h2.4v1.4h-2.4zM52 123h2.4v1.4h-2.4zM52 124h2.4v1.4h-2.4zM66 124h1.4v1.4h-1.4zM52 125h2.4v1.4h-2.4zM52 126h2.4v1.4h-2.4zM53 127h1.4v1.4h-1.4zM53 128h1.4v1.4h-1.4zM53 129h1.4v1.4h-1.4zM53 130h1.4v1.4h-1.4zM53 131h1.4v1h-1.4z"/><path fill="#fec318" d="M41 2h1.4v1.4h-1.4zM42 5h1.4v1.4h-1.4zM44 8h1.4v1.4h-1.4zM46 11h1.4v1.4h-1.4zM47 12h1.4v1.4h-1.4zM48 14h1.4v1.4h-1.4zM49 16h1.4v1.4h-1.4zM50 18h1.4v1.4h-1.4zM50 19h1.4v1.4h-1.4zM50 20h1.4v1.4h-1.4zM50 21h1.4v1.4h-1.4zM50 22h1.4v1.4h-1.4zM50 23h1.4v1.4h-1.4zM50 24h1.4v1.4h-1.4zM49 26h1.4v1.4h-1.4zM48 28h1.4v1.4h-1.4zM47 31h1.4v1.4h-1.4zM47 32h1.4v1.4h-1.4zM47 37h1.4v1.4h-1.4zM48 40h1.4v1.4h-1.4zM50 41h1.4v1.4h-1.4zM49 42h1.4v1.4h-1.4zM50 45h1.4v1.4h-1.4zM50 46h1.4v1.4h-1.4zM51 48h1.4v1.4h-1.4zM52 51h1.4v1.4h-1.4zM53 53h1.4v1.4h-1.4zM53 54h1.4v1.4h-1.4zM54 57h1.4v1.4h-1.4zM53 59h1.4v1.4h-1.4zM52 61h1.4v1.4h-1.4zM51 62h1.4v1.4h-1.4zM51 63h1.4v1.4h-1.4zM50 65h1.4v1.4h-1.4zM49 66h1.4v1.4h-1.4zM47 67h1.4v1.4h-1.4zM59 68h1.4v1.4h-1.4zM44 69h1.4v1.4h-1.4zM42 70h1.4v1.4h-1.4zM39 72h1.4v1.4h-1.4zM58 72h1.4v1.4h-1.4zM36 75h1.4v1.4h-1.4zM57 75h1.4v1.4h-1.4zM35 77h1.4v1.4h-1.4zM56 77h1.4v1.4h-1.4zM35 78h1.4v1.4h-1.4zM36 80h1.4v1.4h-1.4zM54 80h1.4v1.4h-1.4zM37 82h1.4v1.4h-1.4zM38 84h1.4v1.4h-1.4zM50 84h1.4v1.4h-1.4zM39 86h1.4v1.4h-1.4zM40 87h1.4v1.4h-1.4zM42 90h1.4v1.4h-1.4zM51 91h1.4v1.4h-1.4zM44 93h1.4v1.4h-1.4zM44 94h1.4v1.4h-1.4zM45 98h1.4v1.4h-1.4zM46 100h1.4v1.4h-1.4zM47 102h1.4v1.4h-1.4zM48 103h1.4v1.4h-1.4zM49 104h1.4v1.4h-1.4zM50 105h1.4v1.4h-1.4zM50 106h1.4v1.4h-1.4zM51 108h1.4v1.4h-1.4zM51 109h1.4v1.4h-1.4zM52 110h1.4v1.4h-1.4zM52 111h1.4v1.4h-1.4zM52 112h1.4v1.4h-1.4zM52 113h2.4v1.4h-2.4zM52 114h1.4v1.4h-1.4zM52 115h1.4v1.4h-1.4zM52 116h2.4v1.4h-2.4zM53 117h1.4v1.4h-1.4zM53 118h1.4v1.4h-1.4zM53 119h1.4v1.4h-1.4zM53 120h2.4v1.4h-2.4zM53 121h2.4v1.4h-2.4zM54 122h1.4v1.4h-1.4zM54 123h1.4v1.4h-1.4zM54 124h1.4v1.4h-1.4zM54 125h1.4v1.4h-1.4zM54 126h1.4v1.4h-1.4zM54 127h1.4v1.4h-1.4zM54 128h1.4v1.4h-1.4zM54 129h1.4v1.4h-1.4zM54 130h1.4v1.4h-1.4zM54 131h1.4v1h-1.4z"/><path fill="#ffc513" d="M41 -2h1.4v1.4h-1.4zM41 -1h1.4v1.4h-1.4zM41 0h1.4v1.4h-1.4zM49 0h1.4v1.4h-1.4zM41 1h1.4v1.4h-1.4zM42 3h1.4v1.4h-1.4zM42 4h1.4v1.4h-1.4zM43 6h1.4v1.4h-1.4zM45 9h1.4v1.4h-1.4zM48 13h1.4v1.4h-1.4zM49 15h1.4v1.4h-1.4zM56 16h1.4v1.4h-1.4zM50 17h1.4v1.4h-1.4zM51 20h1.4v1.4h-1.4zM51 21h1.4v1.4h-1.4zM51 22h1.4v1.4h-1.4zM50 25h1.4v1.4h-1.4zM50 26h1.4v1.4h-1.4zM49 27h1.4v1.4h-1.4zM57 27h1.4v1.4h-1.4zM48 29h1.4v1.4h-1.4zM48 30h1.4v1.4h-1.4zM47 33h1.4v1.4h-1.4zM47 34h1.4v1.4h-1.4zM47 35h1.4v1.4h-1.4zM47 36h1.4v1.4h-1.4zM49 38h1.4v1.4h-1.4zM48 39h2.4v1.4h-2.4zM49 40h1.4v1.4h-1.4zM49 41h1.4v1.4h-1.4zM51 43h1.4v1.4h-1.4zM50 44h1.4v1.4h-1.4zM51 47h1.4v1.4h-1.4zM52 50h1.4v1.4h-1.4zM53 52h1.4v1.4h-1.4zM54 55h1.4v1.4h-1.4zM54 56h1.4v1.4h-1.4zM54 58h1.4v1.4h-1.4zM53 60h1.4v1.4h-1.4zM52 62h1.4v1.4h-1.4zM51 64h1.4v1.4h-1.4zM51 65h1.4v1.4h-1.4zM50 66h1.4v1.4h-1.4zM48 67h1.4v1.4h-1.4zM46 68h1.4v1.4h-1.4zM43 70h1.4v1.4h-1.4zM41 71h1.4v1.4h-1.4zM40 72h1.4v1.4h-1.4zM38 73h1.4v1.4h-1.4zM37 74h1.4v1.4h-1.4zM36 76h1.4v1.4h-1.4zM36 79h1.4v1.4h-1.4zM37 81h1.4v1.4h-1.4zM38 83h1.4v1.4h-1.4zM39 85h1.4v1.4h-1.4zM41 88h1.4v1.4h-1.4zM42 89h1.4v1.4h-1.4zM43 91h1.4v1.4h-1.4zM44 92h1.4v1.4h-1.4zM45 95h1.4v1.4h-1.4zM45 96h1.4v1.4h-1.4zM45 97h1.4v1.4h-1.4zM46 99h1.4v1.4h-1.4zM47 101h1.4v1.4h-1.4zM49 103h1.4v1.4h-1.4zM50 104h1.4v1.4h-1.4zM51 106h1.4v1.4h-1.4zM51 107h1.4v1.4h-1.4zM52 108h1.4v1.4h-1.4zM52 109h1.4v1.4h-1.4zM53 110h1.4v1.4h-1.4zM53 111h1.4v1.4h-1.4zM53 112h2.4v1.4h-2.4zM54 113h1.4v1.4h-1.4zM53 114h2.4v1.4h-2.4zM53 115h2.4v1.4h-2.4zM54 116h1.4v1.4h-1.4zM54 117h1.4v1.4h-1.4zM54 118h1.4v1.4h-1.4zM54 119h2.4v1.4h-2.4zM55 120h1.4v1.4h-1.4zM55 121h1.4v1.4h-1.4zM55 122h1.4v1.4h-1.4zM55 123h1.4v1.4h-1.4zM55 124h2.4v1.4h-2.4zM55 125h2.4v1.4h-2.4zM55 126h2.4v1.4h-2.4zM55 127h2.4v1.4h-2.4zM55 128h2.4v1.4h-2.4zM55 129h2.4v1.4h-2.4zM55 130h2.4v1.4h-2.4zM55 131h2.4v1h-2.4z"/><path fill="#ffc810" d="M42 -2h1.4v1.4h-1.4zM42 -1h1.4v1.4h-1.4zM42 0h1.4v1.4h-1.4zM42 1h1.4v1.4h-1.4zM42 2h1.4v1.4h-1.4zM43 5h1.4v1.4h-1.4zM44 7h1.4v1.4h-1.4zM46 10h1.4v1.4h-1.4zM47 11h1.4v1.4h-1.4zM49 14h1.4v1.4h-1.4zM50 16h1.4v1.4h-1.4zM51 17h1.4v1.4h-1.4zM51 18h1.4v1.4h-1.4zM51 19h1.4v1.4h-1.4zM51 23h1.4v1.4h-1.4zM51 24h1.4v1.4h-1.4zM51 25h1.4v1.4h-1.4zM50 27h1.4v1.4h-1.4zM49 28h1.4v1.4h-1.4zM48 31h1.4v1.4h-1.4zM48 32h1.4v1.4h-1.4zM48 38h1.4v1.4h-1.4zM50 42h1.4v1.4h-1.4zM50 43h1.4v1.4h-1.4zM52 45h1.4v1.4h-1.4zM51 46h1.4v1.4h-1.4zM52 49h1.4v1.4h-1.4zM53 51h1.4v1.4h-1.4zM54 53h1.4v1.4h-1.4zM54 54h1.4v1.4h-1.4zM55 56h1.4v1.4h-1.4zM55 57h1.4v1.4h-1.4zM55 58h1.4v1.4h-1.4zM54 59h1.4v1.4h-1.4zM54 60h1.4v1.4h-1.4zM53 61h1.4v1.4h-1.4zM53 62h1.4v1.4h-1.4zM52 63h1.4v1.4h-1.4zM52 64h1.4v1.4h-1.4zM49 67h1.4v1.4h-1.4zM47 68h1.4v1.4h-1.4zM45 69h1.4v1.4h-1.4zM44 70h1.4v1.4h-1.4zM42 71h1.4v1.4h-1.4zM39 73h1.4v1.4h-1.4zM38 74h1.4v1.4h-1.4zM37 75h1.4v1.4h-1.4zM36 77h1.4v1.4h-1.4zM36 78h1.4v1.4h-1.4zM37 80h1.4v1.4h-1.4zM38 82h1.4v1.4h-1.4zM39 84h1.4v1.4h-1.4zM40 86h1.4v1.4h-1.4zM41 87h1.4v1.4h-1.4zM42 88h1.4v1.4h-1.4zM43 90h1.4v1.4h-1.4zM44 91h1.4v1.4h-1.4zM45 93h1.4v1.4h-1.4zM45 94h1.4v1.4h-1.4zM46 98h1.4v1.4h-1.4zM48 102h1.4v1.4h-1.4zM51 105h1.4v1.4h-1.4zM52 106h1.4v1.4h-1.4zM52 107h1.4v1.4h-1.4zM53 108h1.4v1.4h-1.4zM53 109h1.4v1.4h-1.4zM54 110h1.4v1.4h-1.4zM54 111h1.4v1.4h-1.4zM55 112h1.4v1.4h-1.4zM55 113h1.4v1.4h-1.4zM55 114h1.4v1.4h-1.4zM55 115h1.4v1.4h-1.4zM55 116h1.4v1.4h-1.4zM55 117h1.4v1.4h-1.4zM55 118h1.4v1.4h-1.4zM56 119h1.4v1.4h-1.4zM56 120h1.4v1.4h-1.4zM56 121h1.4v1.4h-1.4zM56 122h1.4v1.4h-1.4zM56 123h2.4v1.4h-2.4zM57 124h1.4v1.4h-1.4zM57 125h1.4v1.4h-1.4zM57 126h1.4v1.4h-1.4zM57 127h1.4v1.4h-1.4zM57 128h1.4v1.4h-1.4zM57 129h1.4v1.4h-1.4zM57 130h1.4v1.4h-1.4zM57 131h1.4v1h-1.4z"/><path fill="#ffcb0c" d="M43 -2h1.4v1.4h-1.4zM43 -1h1.4v1.4h-1.4zM43 0h1.4v1.4h-1.4zM43 2h1.4v1.4h-1.4zM43 3h1.4v1.4h-1.4zM43 4h1.4v1.4h-1.4zM44 6h1.4v1.4h-1.4zM45 8h1.4v1.4h-1.4zM46 9h1.4v1.4h-1.4zM48 12h1.4v1.4h-1.4zM49 13h1.4v1.4h-1.4zM50 15h1.4v1.4h-1.4zM51 16h1.4v1.4h-1.4zM52 18h1.4v1.4h-1.4zM52 19h1.4v1.4h-1.4zM52 20h1.4v1.4h-1.4zM52 21h1.4v1.4h-1.4zM52 22h1.4v1.4h-1.4zM52 23h1.4v1.4h-1.4zM52 24h1.4v1.4h-1.4zM51 26h1.4v1.4h-1.4zM50 28h1.4v1.4h-1.4zM49 29h1.4v1.4h-1.4zM49 30h1.4v1.4h-1.4zM48 33h1.4v1.4h-1.4zM48 34h1.4v1.4h-1.4zM48 35h1.4v1.4h-1.4zM48 36h1.4v1.4h-1.4zM48 37h2.4v1.4h-2.4zM51 44h1.4v1.4h-1.4zM51 45h1.4v1.4h-1.4zM53 47h1.4v1.4h-1.4zM52 48h1.4v1.4h-1.4zM55 55h1.4v1.4h-1.4zM55 59h1.4v1.4h-1.4zM54 61h1.4v1.4h-1.4zM53 63h1.4v1.4h-1.4zM53 64h1.4v1.4h-1.4zM52 65h1.4v1.4h-1.4zM51 66h1.4v1.4h-1.4zM50 67h1.4v1.4h-1.4zM48 68h1.4v1.4h-1.4zM46 69h1.4v1.4h-1.4zM45 70h1.4v1.4h-1.4zM43 71h1.4v1.4h-1.4zM41 72h2.4v1.4h-2.4zM40 73h1.4v1.4h-1.4zM39 74h1.4v1.4h-1.4zM38 75h1.4v1.4h-1.4zM37 76h2.4v1.4h-2.4zM37 77h1.4v1.4h-1.4zM37 78h1.4v1.4h-1.4zM37 79h2.4v1.4h-2.4zM38 80h1.4v1.4h-1.4zM38 81h2.4v1.4h-2.4zM39 82h1.4v1.4h-1.4zM51 82h1.4v1.4h-1.4zM39 83h1.4v1.4h-1.4zM40 84h1.4v1.4h-1.4zM40 85h1.4v1.4h-1.4zM41 86h1.4v1.4h-1.4zM42 87h1.4v1.4h-1.4zM43 89h1.4v1.4h-1.4zM44 90h1.4v1.4h-1.4zM45 92h1.4v1.4h-1.4zM46 94h1.4v1.4h-1.4zM46 95h1.4v1.4h-1.4zM46 96h1.4v1.4h-1.4zM46 97h1.4v1.4h-1.4zM47 99h1.4v1.4h-1.4zM47 100h1.4v1.4h-1.4zM48 101h1.4v1.4h-1.4zM49 102h1.4v1.4h-1.4zM50 103h1.4v1.4h-1.4zM51 104h1.4v1.4h-1.4zM52 105h1.4v1.4h-1.4zM53 107h1.4v1.4h-1.4zM54 109h1.4v1.4h-1.4zM55 110h1.4v1.4h-1.4zM55 111h1.4v1.4h-1.4zM56 112h1.4v1.4h-1.4zM56 113h1.4v1.4h-1.4zM56 114h1.4v1.4h-1.4zM56 115h1.4v1.4h-1.4zM56 116h1.4v1.4h-1.4zM56 117h1.4v1.4h-1.4zM56 118h1.4v1.4h-1.4zM57 119h1.4v1.4h-1.4zM57 120h1.4v1.4h-1.4zM57 121h1.4v1.4h-1.4zM57 122h2.4v1.4h-2.4zM58 123h1.4v1.4h-1.4zM58 124h1.4v1.4h-1.4zM58 125h1.4v1.4h-1.4zM58 126h1.4v1.4h-1.4zM58 127h1.4v1.4h-1.4zM58 128h1.4v1.4h-1.4zM58 129h1.4v1.4h-1.4zM58 130h1.4v1.4h-1.4zM58 131h1.4v1h-1.4z"/><path fill="#ffcd08" d="M44 -2h1.4v1.4h-1.4zM44 -1h1.4v1.4h-1.4zM43 1h1.4v1.4h-1.4zM46 4h1.4v1.4h-1.4zM44 5h1.4v1.4h-1.4zM46 5h1.4v1.4h-1.4zM46 6h1.4v1.4h-1.4zM45 7h1.4v1.4h-1.4zM48 9h1.4v1.4h-1.4zM47 10h1.4v1.4h-1.4zM48 11h1.4v1.4h-1.4zM50 14h1.4v1.4h-1.4zM51 15h1.4v1.4h-1.4zM52 17h1.4v1.4h-1.4zM53 19h1.4v1.4h-1.4zM53 20h1.4v1.4h-1.4zM53 21h2.4v1.4h-2.4zM53 22h2.4v1.4h-2.4zM53 23h1.4v1.4h-1.4zM53 24h1.4v1.4h-1.4zM52 25h1.4v1.4h-1.4zM52 26h1.4v1.4h-1.4zM51 27h1.4v1.4h-1.4zM50 29h1.4v1.4h-1.4zM49 31h1.4v1.4h-1.4zM49 32h1.4v1.4h-1.4zM52 46h1.4v1.4h-1.4zM52 47h1.4v1.4h-1.4zM53 50h1.4v1.4h-1.4zM55 50h1.4v1.4h-1.4zM54 52h1.4v1.4h-1.4zM55 54h1.4v1.4h-1.4zM56 56h1.4v1.4h-1.4zM56 57h1.4v1.4h-1.4zM56 58h1.4v1.4h-1.4zM56 59h1.4v1.4h-1.4zM55 60h1.4v1.4h-1.4zM55 61h1.4v1.4h-1.4zM54 62h1.4v1.4h-1.4zM54 63h1.4v1.4h-1.4zM54 64h1.4v1.4h-1.4zM53 65h1.4v1.4h-1.4zM52 66h1.4v1.4h-1.4zM51 67h1.4v1.4h-1.4zM49 68h1.4v1.4h-1.4zM47 69h2.4v1.4h-2.4zM46 70h1.4v1.4h-1.4zM44 71h2.4v1.4h-2.4zM43 72h1.4v1.4h-1.4zM41 73h2.4v1.4h-2.4zM40 74h2.4v1.4h-2.4zM39 75h2.4v1.4h-2.4zM39 76h2.4v1.4h-2.4zM38 77h3.4v1.4h-3.4zM38 78h2.4v1.4h-2.4zM39 79h2.4v1.4h-2.4zM39 80h2.4v1.4h-2.4zM40 81h1.4v1.4h-1.4zM40 82h1.4v1.4h-1.4zM40 83h2.4v1.4h-2.4zM41 84h1.4v1.4h-1.4zM41 85h1.4v1.4h-1.4zM42 86h1.4v1.4h-1.4zM43 87h1.4v1.4h-1.4zM43 88h1.4v1.4h-1.4zM44 89h1.4v1.4h-1.4zM45 90h1.4v1.4h-1.4zM45 91h1.4v1.4h-1.4zM46 92h1.4v1.4h-1.4zM46 93h1.4v1.4h-1.4zM47 94h1.4v1.4h-1.4zM47 95h1.4v1.4h-1.4zM47 96h1.4v1.4h-1.4zM47 97h1.4v1.4h-1.4zM47 98h1.4v1.4h-1.4zM48 100h1.4v1.4h-1.4zM53 106h1.4v1.4h-1.4zM54 108h1.4v1.4h-1.4zM55 109h1.4v1.4h-1.4zM56 111h1.4v1.4h-1.4zM57 113h1.4v1.4h-1.4zM57 114h1.4v1.4h-1.4zM57 115h1.4v1.4h-1.4zM57 116h1.4v1.4h-1.4zM57 117h1.4v1.4h-1.4zM57 118h1.4v1.4h-1.4zM58 119h1.4v1.4h-1.4zM58 120h1.4v1.4h-1.4zM58 121h1.4v1.4h-1.4zM59 122h1.4v1.4h-1.4zM59 123h1.4v1.4h-1.4zM59 124h1.4v1.4h-1.4zM59 125h1.4v1.4h-1.4zM59 126h1.4v1.4h-1.4zM59 127h1.4v1.4h-1.4zM59 128h1.4v1.4h-1.4zM59 129h1.4v1.4h-1.4zM59 130h1.4v1.4h-1.4zM59 131h1.4v1h-1.4z"/><path fill="#ffd005" d="M45 -2h1.4v1.4h-1.4zM44 0h1.4v1.4h-1.4zM44 1h1.4v1.4h-1.4zM44 2h1.4v1.4h-1.4zM44 3h1.4v1.4h-1.4zM46 3h1.4v1.4h-1.4zM44 4h1.4v1.4h-1.4zM45 6h1.4v1.4h-1.4zM46 7h1.4v1.4h-1.4zM46 8h1.4v1.4h-1.4zM48 10h1.4v1.4h-1.4zM49 11h1.4v1.4h-1.4zM49 12h1.4v1.4h-1.4zM50 13h1.4v1.4h-1.4zM51 14h1.4v1.4h-1.4zM52 16h1.4v1.4h-1.4zM53 17h1.4v1.4h-1.4zM53 18h1.4v1.4h-1.4zM54 19h1.4v1.4h-1.4zM54 20h1.4v1.4h-1.4zM55 21h1.4v1.4h-1.4zM55 22h1.4v1.4h-1.4zM54 23h2.4v1.4h-2.4zM54 24h1.4v1.4h-1.4zM53 25h1.4v1.4h-1.4zM53 26h1.4v1.4h-1.4zM52 27h1.4v1.4h-1.4zM51 28h1.4v1.4h-1.4zM51 29h1.4v1.4h-1.4zM50 30h1.4v1.4h-1.4zM50 31h1.4v1.4h-1.4zM49 33h1.4v1.4h-1.4zM49 34h1.4v1.4h-1.4zM51 34h1.4v1.4h-1.4zM49 35h1.4v1.4h-1.4zM49 36h1.4v1.4h-1.4zM53 48h1.4v1.4h-1.4zM53 49h2.4v1.4h-2.4zM54 51h1.4v1.4h-1.4zM55 53h1.4v1.4h-1.4zM58 54h1.4v1.4h-1.4zM56 55h1.4v1.4h-1.4zM59 56h1.4v1.4h-1.4zM57 57h1.4v1.4h-1.4zM57 58h1.4v1.4h-1.4zM60 58h1.4v1.4h-1.4zM56 60h1.4v1.4h-1.4zM61 61h1.4v1.4h-1.4zM55 62h1.4v1.4h-1.4zM55 63h1.4v1.4h-1.4zM54 65h1.4v1.4h-1.4zM53 66h1.4v1.4h-1.4zM52 67h1.4v1.4h-1.4zM50 68h1.4v1.4h-1.4zM49 69h1.4v1.4h-1.4zM47 70h2.4v1.4h-2.4zM46 71h1.4v1.4h-1.4zM44 72h2.4v1.4h-2.4zM43 73h2.4v1.4h-2.4zM42 74h2.4v1.4h-2.4zM41 75h3.4v1.4h-3.4zM41 76h2.4v1.4h-2.4zM41 77h2.4v1.4h-2.4zM40 78h3.4v1.4h-3.4zM41 79h2.4v1.4h-2.4zM41 80h2.4v1.4h-2.4zM41 81h2.4v1.4h-2.4zM41 82h2.4v1.4h-2.4zM42 83h1.4v1.4h-1.4zM42 84h1.4v1.4h-1.4zM42 85h1.4v1.4h-1.4zM43 86h1.4v1.4h-1.4zM44 88h1.4v1.4h-1.4zM45 89h1.4v1.4h-1.4zM50 89h1.4v1.4h-1.4zM46 91h1.4v1.4h-1.4zM47 92h1.4v1.4h-1.4zM47 93h1.4v1.4h-1.4zM48 97h1.4v1.4h-1.4zM48 98h1.4v1.4h-1.4zM48 99h1.4v1.4h-1.4zM49 101h1.4v1.4h-1.4zM50 102h1.4v1.4h-1.4zM51 103h1.4v1.4h-1.4zM52 104h1.4v1.4h-1.4zM53 105h1.4v1.4h-1.4zM55 105h1.4v1.4h-1.4zM54 107h1.4v1.4h-1.4zM55 108h1.4v1.4h-1.4zM56 110h1.4v1.4h-1.4zM57 111h1.4v1.4h-1.4zM57 112h1.4v1.4h-1.4zM58 114h1.4v1.4h-1.4zM58 115h1.4v1.4h-1.4zM58 116h1.4v1.4h-1.4zM58 117h1.4v1.4h-1.4zM58 118h1.4v1.4h-1.4zM59 119h1.4v1.4h-1.4zM59 120h1.4v1.4h-1.4zM59 121h1.4v1.4h-1.4zM60 123h1.4v1.4h-1.4zM60 124h1.4v1.4h-1.4zM60 125h1.4v1.4h-1.4zM60 126h1.4v1.4h-1.4zM60 127h1.4v1.4h-1.4zM60 128h1.4v1.4h-1.4zM60 129h1.4v1.4h-1.4zM60 130h1.4v1.4h-1.4zM60 131h1.4v1h-1.4z"/><path fill="#ffd301" d="M46 -2h1.4v1.4h-1.4zM51 -2h1.4v1.4h-1.4zM45 -1h1.4v1.4h-1.4zM45 0h1.4v1.4h-1.4zM45 1h1.4v1.4h-1.4zM45 5h1.4v1.4h-1.4zM47 8h1.4v1.4h-1.4zM47 9h1.4v1.4h-1.4zM50 12h2.4v1.4h-2.4zM52 15h1.4v1.4h-1.4zM53 16h1.4v1.4h-1.4zM54 17h1.4v1.4h-1.4zM54 18h1.4v1.4h-1.4zM55 19h1.4v1.4h-1.4zM55 20h1.4v1.4h-1.4zM56 21h1.4v1.4h-1.4zM56 22h1.4v1.4h-1.4zM56 23h1.4v1.4h-1.4zM55 24h1.4v1.4h-1.4zM54 25h2.4v1.4h-2.4zM54 26h1.4v1.4h-1.4zM53 27h1.4v1.4h-1.4zM52 28h1.4v1.4h-1.4zM51 30h1.4v1.4h-1.4zM54 30h1.4v1.4h-1.4zM50 32h1.4v1.4h-1.4zM50 35h1.4v1.4h-1.4zM54 50h1.4v1.4h-1.4zM55 51h1.4v1.4h-1.4zM55 52h2.4v1.4h-2.4zM56 53h1.4v1.4h-1.4zM56 54h1.4v1.4h-1.4zM57 56h1.4v1.4h-1.4zM57 59h1.4v1.4h-1.4zM60 59h1.4v1.4h-1.4zM57 60h1.4v1.4h-1.4zM56 61h1.4v1.4h-1.4zM56 62h1.4v1.4h-1.4zM56 63h1.4v1.4h-1.4zM55 64h1.4v1.4h-1.4zM60 64h1.4v1.4h-1.4zM55 65h1.4v1.4h-1.4zM54 66h1.4v1.4h-1.4zM53 67h1.4v1.4h-1.4zM59 67h1.4v1.4h-1.4zM51 68h2.4v1.4h-2.4zM50 69h1.4v1.4h-1.4zM49 70h1.4v1.4h-1.4zM47 71h2.4v1.4h-2.4zM58 71h1.4v1.4h-1.4zM46 72h2.4v1.4h-2.4zM45 73h2.4v1.4h-2.4zM44 74h2.4v1.4h-2.4zM44 75h2.4v1.4h-2.4zM43 76h2.4v1.4h-2.4zM43 77h2.4v1.4h-2.4zM43 78h2.4v1.4h-2.4zM43 79h2.4v1.4h-2.4zM43 80h2.4v1.4h-2.4zM43 81h2.4v1.4h-2.4zM43 82h1.4v1.4h-1.4zM43 83h1.4v1.4h-1.4zM43 84h1.4v1.4h-1.4zM43 85h2.4v1.4h-2.4zM44 86h1.4v1.4h-1.4zM49 86h1.4v1.4h-1.4zM44 87h1.4v1.4h-1.4zM45 88h1.4v1.4h-1.4zM46 89h1.4v1.4h-1.4zM46 90h1.4v1.4h-1.4zM50 90h1.4v1.4h-1.4zM47 91h1.4v1.4h-1.4zM48 93h1.4v1.4h-1.4zM52 93h1.4v1.4h-1.4zM48 94h1.4v1.4h-1.4zM48 95h1.4v1.4h-1.4zM53 95h1.4v1.4h-1.4zM48 96h1.4v1.4h-1.4zM53 96h1.4v1.4h-1.4zM53 97h1.4v1.4h-1.4zM49 98h1.4v1.4h-1.4zM53 98h1.4v1.4h-1.4zM49 99h1.4v1.4h-1.4zM53 99h1.4v1.4h-1.4zM49 100h1.4v1.4h-1.4zM53 100h1.4v1.4h-1.4zM50 101h1.4v1.4h-1.4zM53 101h1.4v1.4h-1.4zM53 102h1.4v1.4h-1.4zM52 103h1.4v1.4h-1.4zM53 104h1.4v1.4h-1.4zM54 106h2.4v1.4h-2.4zM55 107h2.4v1.4h-2.4zM56 109h1.4v1.4h-1.4zM57 110h1.4v1.4h-1.4zM58 112h1.4v1.4h-1.4zM58 113h1.4v1.4h-1.4zM63 114h1.4v1.4h-1.4zM59 115h1.4v1.4h-1.4zM59 116h1.4v1.4h-1.4zM59 117h1.4v1.4h-1.4zM64 117h1.4v1.4h-1.4zM59 118h1.4v1.4h-1.4zM60 119h1.4v1.4h-1.4zM60 120h1.4v1.4h-1.4zM65 120h1.4v1.4h-1.4zM60 121h1.4v1.4h-1.4zM65 121h1.4v1.4h-1.4zM60 122h1.4v1.4h-1.4zM65 122h1.4v1.4h-1.4zM61 123h1.4v1.4h-1.4zM61 124h1.4v1.4h-1.4zM61 125h1.4v1.4h-1.4zM66 125h1.4v1.4h-1.4zM61 126h1.4v1.4h-1.4zM66 126h1.4v1.4h-1.4zM61 127h1.4v1.4h-1.4zM66 127h1.4v1.4h-1.4zM61 128h1.4v1.4h-1.4zM66 128h1.4v1.4h-1.4zM61 129h1.4v1.4h-1.4zM66 129h1.4v1.4h-1.4zM61 130h1.4v1.4h-1.4zM66 130h1.4v1.4h-1.4zM61 131h1.4v1h-1.4zM66 131h1.4v1h-1.4z"/><path fill="#ffd700" d="M47 -2h1.4v1.4h-1.4zM46 -1h1.4v1.4h-1.4zM46 0h1.4v1.4h-1.4zM48 0h1.4v1.4h-1.4zM46 1h2.4v1.4h-2.4zM45 2h2.4v1.4h-2.4zM45 3h1.4v1.4h-1.4zM45 4h1.4v1.4h-1.4zM51 13h2.4v1.4h-2.4zM52 14h2.4v1.4h-2.4zM53 15h2.4v1.4h-2.4zM54 16h2.4v1.4h-2.4zM55 17h1.4v1.4h-1.4zM57 17h1.4v1.4h-1.4zM55 18h1.4v1.4h-1.4zM56 19h1.4v1.4h-1.4zM56 20h2.4v1.4h-2.4zM57 21h1.4v1.4h-1.4zM57 22h1.4v1.4h-1.4zM57 23h1.4v1.4h-1.4zM56 24h1.4v1.4h-1.4zM56 25h1.4v1.4h-1.4zM55 26h1.4v1.4h-1.4zM54 27h1.4v1.4h-1.4zM53 28h1.4v1.4h-1.4zM52 29h1.4v1.4h-1.4zM52 30h1.4v1.4h-1.4zM51 31h1.4v1.4h-1.4zM51 32h2.4v1.4h-2.4zM50 33h2.4v1.4h-2.4zM50 34h1.4v1.4h-1.4zM57 53h1.4v1.4h-1.4zM57 54h1.4v1.4h-1.4zM57 55h2.4v1.4h-2.4zM58 56h1.4v1.4h-1.4zM58 57h2.4v1.4h-2.4zM58 58h1.4v1.4h-1.4zM58 59h1.4v1.4h-1.4zM57 61h1.4v1.4h-1.4zM57 62h1.4v1.4h-1.4zM57 63h1.4v1.4h-1.4zM60 63h1.4v1.4h-1.4zM56 64h1.4v1.4h-1.4zM56 65h1.4v1.4h-1.4zM55 66h1.4v1.4h-1.4zM59 66h1.4v1.4h-1.4zM54 67h1.4v1.4h-1.4zM53 68h1.4v1.4h-1.4zM51 69h2.4v1.4h-2.4zM50 70h2.4v1.4h-2.4zM58 70h1.4v1.4h-1.4zM49 71h2.4v1.4h-2.4zM48 72h2.4v1.4h-2.4zM47 73h2.4v1.4h-2.4zM46 74h2.4v1.4h-2.4zM57 74h1.4v1.4h-1.4zM46 75h2.4v1.4h-2.4zM45 76h2.4v1.4h-2.4zM45 77h2.4v1.4h-2.4zM45 78h2.4v1.4h-2.4zM55 78h1.4v1.4h-1.4zM45 79h2.4v1.4h-2.4zM45 80h1.4v1.4h-1.4zM45 81h1.4v1.4h-1.4zM44 82h2.4v1.4h-2.4zM44 83h2.4v1.4h-2.4zM50 83h1.4v1.4h-1.4zM44 84h2.4v1.4h-2.4zM45 85h1.4v1.4h-1.4zM49 85h1.4v1.4h-1.4zM45 86h1.4v1.4h-1.4zM45 87h1.4v1.4h-1.4zM49 87h1.4v1.4h-1.4zM46 88h1.4v1.4h-1.4zM47 89h1.4v1.4h-1.4zM47 90h1.4v1.4h-1.4zM48 91h1.4v1.4h-1.4zM48 92h1.4v1.4h-1.4zM49 93h1.4v1.4h-1.4zM49 94h1.4v1.4h-1.4zM49 95h1.4v1.4h-1.4zM49 96h1.4v1.4h-1.4zM49 97h1.4v1.4h-1.4zM50 99h1.4v1.4h-1.4zM50 100h1.4v1.4h-1.4zM51 102h1.4v1.4h-1.4zM53 103h1.4v1.4h-1.4zM54 104h1.4v1.4h-1.4zM54 105h1.4v1.4h-1.4zM56 108h2.4v1.4h-2.4zM57 109h2.4v1.4h-2.4zM58 110h2.4v1.4h-2.4zM58 111h1.4v1.4h-1.4zM60 111h1.4v1.4h-1.4zM59 112h1.4v1.4h-1.4zM59 113h1.4v1.4h-1.4zM59 114h1.4v1.4h-1.4zM60 115h1.4v1.4h-1.4zM63 115h1.4v1.4h-1.4zM60 116h1.4v1.4h-1.4zM60 117h1.4v1.4h-1.4zM60 118h1.4v1.4h-1.4zM64 118h1.4v1.4h-1.4zM61 119h1.4v1.4h-1.4zM61 120h1.4v1.4h-1.4zM61 121h1.4v1.4h-1.4zM61 122h1.4v1.4h-1.4zM62 123h1.4v1.4h-1.4zM65 123h1.4v1.4h-1.4zM62 124h1.4v1.4h-1.4zM62 125h1.4v1.4h-1.4zM62 126h1.4v1.4h-1.4zM62 127h1.4v1.4h-1.4zM62 128h1.4v1.4h-1.4zM62 129h1.4v1.4h-1.4zM62 130h1.4v1.4h-1.4zM62 131h1.4v1h-1.4z"/><path fill="#ffdd00" d="M47 -1h1.4v1.4h-1.4zM50 -1h1.4v1.4h-1.4zM47 0h1.4v1.4h-1.4zM56 17h1.4v1.4h-1.4zM56 18h1.4v1.4h-1.4zM58 18h1.4v1.4h-1.4zM57 19h1.4v1.4h-1.4zM59 19h1.4v1.4h-1.4zM58 20h1.4v1.4h-1.4zM60 20h1.4v1.4h-1.4zM58 21h1.4v1.4h-1.4zM58 22h1.4v1.4h-1.4zM62 22h1.4v1.4h-1.4zM58 23h1.4v1.4h-1.4zM57 24h1.4v1.4h-1.4zM60 24h1.4v1.4h-1.4zM57 25h1.4v1.4h-1.4zM59 25h1.4v1.4h-1.4zM56 26h1.4v1.4h-1.4zM58 26h1.4v1.4h-1.4zM55 27h2.4v1.4h-2.4zM54 28h2.4v1.4h-2.4zM53 29h2.4v1.4h-2.4zM52 31h2.4v1.4h-2.4zM59 58h1.4v1.4h-1.4zM59 59h1.4v1.4h-1.4zM58 60h1.4v1.4h-1.4zM58 61h1.4v1.4h-1.4zM58 62h1.4v1.4h-1.4zM57 64h1.4v1.4h-1.4zM57 65h1.4v1.4h-1.4zM56 66h1.4v1.4h-1.4zM55 67h1.4v1.4h-1.4zM54 68h1.4v1.4h-1.4zM53 69h1.4v1.4h-1.4zM58 69h1.4v1.4h-1.4zM52 70h1.4v1.4h-1.4zM51 71h2.4v1.4h-2.4zM50 72h2.4v1.4h-2.4zM49 73h2.4v1.4h-2.4zM57 73h1.4v1.4h-1.4zM48 74h2.4v1.4h-2.4zM48 75h2.4v1.4h-2.4zM47 76h2.4v1.4h-2.4zM56 76h1.4v1.4h-1.4zM47 77h2.4v1.4h-2.4zM47 78h2.4v1.4h-2.4zM47 79h1.4v1.4h-1.4zM46 80h2.4v1.4h-2.4zM46 81h2.4v1.4h-2.4zM46 82h1.4v1.4h-1.4zM46 83h1.4v1.4h-1.4zM46 84h1.4v1.4h-1.4zM46 85h1.4v1.4h-1.4zM46 86h1.4v1.4h-1.4zM46 87h1.4v1.4h-1.4zM47 88h1.4v1.4h-1.4zM48 90h1.4v1.4h-1.4zM49 91h2.4v1.4h-2.4zM49 92h1.4v1.4h-1.4zM51 92h1.4v1.4h-1.4zM50 93h1.4v1.4h-1.4zM50 94h1.4v1.4h-1.4zM50 95h1.4v1.4h-1.4zM50 96h1.4v1.4h-1.4zM50 97h1.4v1.4h-1.4zM50 98h1.4v1.4h-1.4zM51 100h1.4v1.4h-1.4zM51 101h1.4v1.4h-1.4zM52 102h1.4v1.4h-1.4zM59 111h1.4v1.4h-1.4zM60 112h2.4v1.4h-2.4zM60 113h1.4v1.4h-1.4zM62 113h1.4v1.4h-1.4zM60 114h1.4v1.4h-1.4zM61 116h1.4v1.4h-1.4zM61 117h1.4v1.4h-1.4zM61 118h1.4v1.4h-1.4zM62 119h1.4v1.4h-1.4zM62 120h1.4v1.4h-1.4zM62 121h1.4v1.4h-1.4zM62 122h1.4v1.4h-1.4zM63 124h1.4v1.4h-1.4zM63 125h1.4v1.4h-1.4zM63 126h1.4v1.4h-1.4zM63 127h1.4v1.4h-1.4zM63 128h1.4v1.4h-1.4zM63 129h1.4v1.4h-1.4zM63 130h1.4v1.4h-1.4zM63 131h1.4v1h-1.4z"/><path fill="#fee200" d="M48 -2h1.4v1.4h-1.4zM48 -1h2.4v1.4h-2.4zM57 18h1.4v1.4h-1.4zM58 19h1.4v1.4h-1.4zM59 20h1.4v1.4h-1.4zM59 21h1.4v1.4h-1.4zM61 21h1.4v1.4h-1.4zM59 22h2.4v1.4h-2.4zM59 23h1.4v1.4h-1.4zM61 23h1.4v1.4h-1.4zM58 24h2.4v1.4h-2.4zM58 25h1.4v1.4h-1.4zM57 26h1.4v1.4h-1.4zM53 30h1.4v1.4h-1.4zM59 60h2.4v1.4h-2.4zM59 61h1.4v1.4h-1.4zM59 62h2.4v1.4h-2.4zM58 63h2.4v1.4h-2.4zM58 64h1.4v1.4h-1.4zM58 65h2.4v1.4h-2.4zM57 66h1.4v1.4h-1.4zM56 67h1.4v1.4h-1.4zM55 68h2.4v1.4h-2.4zM54 69h2.4v1.4h-2.4zM53 70h2.4v1.4h-2.4zM53 71h1.4v1.4h-1.4zM52 72h2.4v1.4h-2.4zM51 73h2.4v1.4h-2.4zM50 74h2.4v1.4h-2.4zM50 75h2.4v1.4h-2.4zM49 76h2.4v1.4h-2.4zM49 77h2.4v1.4h-2.4zM49 78h2.4v1.4h-2.4zM48 79h2.4v1.4h-2.4zM48 80h2.4v1.4h-2.4zM48 81h2.4v1.4h-2.4zM52 81h1.4v1.4h-1.4zM47 82h2.4v1.4h-2.4zM50 82h1.4v1.4h-1.4zM47 83h1.4v1.4h-1.4zM47 84h1.4v1.4h-1.4zM49 84h1.4v1.4h-1.4zM47 85h1.4v1.4h-1.4zM47 86h1.4v1.4h-1.4zM47 87h1.4v1.4h-1.4zM48 88h2.4v1.4h-2.4zM48 89h2.4v1.4h-2.4zM49 90h1.4v1.4h-1.4zM50 92h1.4v1.4h-1.4zM51 93h1.4v1.4h-1.4zM51 94h2.4v1.4h-2.4zM51 95h1.4v1.4h-1.4zM51 96h1.4v1.4h-1.4zM51 97h1.4v1.4h-1.4zM51 98h1.4v1.4h-1.4zM51 99h1.4v1.4h-1.4zM52 100h1.4v1.4h-1.4zM52 101h1.4v1.4h-1.4zM61 113h1.4v1.4h-1.4zM61 114h1.4v1.4h-1.4zM61 115h2.4v1.4h-2.4zM62 116h2.4v1.4h-2.4zM62 117h1.4v1.4h-1.4zM62 118h1.4v1.4h-1.4zM63 119h2.4v1.4h-2.4zM63 120h1.4v1.4h-1.4zM63 121h1.4v1.4h-1.4zM63 122h1.4v1.4h-1.4zM63 123h2.4v1.4h-2.4zM64 124h2.4v1.4h-2.4zM64 125h1.4v1.4h-1.4zM64 126h1.4v1.4h-1.4zM64 127h1.4v1.4h-1.4zM64 128h1.4v1.4h-1.4zM64 129h1.4v1.4h-1.4zM64 130h1.4v1.4h-1.4zM64 131h1.4v1h-1.4z"/><path fill="#fee700" d="M49 -2h2.4v1.4h-2.4zM60 21h1.4v1.4h-1.4zM61 22h1.4v1.4h-1.4zM60 23h1.4v1.4h-1.4zM60 61h1.4v1.4h-1.4zM59 64h1.4v1.4h-1.4zM58 66h1.4v1.4h-1.4zM57 67h2.4v1.4h-2.4zM57 68h2.4v1.4h-2.4zM56 69h1.4v1.4h-1.4zM55 70h2.4v1.4h-2.4zM54 71h2.4v1.4h-2.4zM54 72h1.4v1.4h-1.4zM57 72h1.4v1.4h-1.4zM53 73h2.4v1.4h-2.4zM52 74h2.4v1.4h-2.4zM52 75h2.4v1.4h-2.4zM56 75h1.4v1.4h-1.4zM51 76h3.4v1.4h-3.4zM51 77h2.4v1.4h-2.4zM55 77h1.4v1.4h-1.4zM51 78h2.4v1.4h-2.4zM50 79h2.4v1.4h-2.4zM54 79h1.4v1.4h-1.4zM50 80h2.4v1.4h-2.4zM53 80h1.4v1.4h-1.4zM50 81h2.4v1.4h-2.4zM49 82h1.4v1.4h-1.4zM48 83h2.4v1.4h-2.4zM48 84h1.4v1.4h-1.4zM48 85h1.4v1.4h-1.4zM48 86h1.4v1.4h-1.4zM48 87h1.4v1.4h-1.4zM52 95h1.4v1.4h-1.4zM52 96h1.4v1.4h-1.4zM52 97h1.4v1.4h-1.4zM52 98h1.4v1.4h-1.4zM52 99h1.4v1.4h-1.4zM62 114h1.4v1.4h-1.4zM63 117h1.4v1.4h-1.4zM63 118h1.4v1.4h-1.4zM64 120h1.4v1.4h-1.4zM64 121h1.4v1.4h-1.4zM64 122h1.4v1.4h-1.4zM65 125h1.4v1.4h-1.4zM65 126h1.4v1.4h-1.4zM65 127h1.4v1.4h-1.4zM65 128h1.4v1.4h-1.4zM65 129h1.4v1.4h-1.4zM65 130h1.4v1.4h-1.4zM65 131h1.4v1h-1.4z"/><path fill="#fdec02" d="M57 69h1.4v1.4h-1.4zM57 70h1.4v1.4h-1.4zM56 71h2.4v1.4h-2.4zM55 72h2.4v1.4h-2.4zM55 73h2.4v1.4h-2.4zM54 74h3.4v1.4h-3.4zM54 75h2.4v1.4h-2.4zM54 76h2.4v1.4h-2.4zM53 77h2.4v1.4h-2.4zM53 78h2.4v1.4h-2.4zM52 79h2.4v1.4h-2.4zM52 80h1.4v1.4h-1.4z"/></g></defs>
<clipPath id="cpg"><rect x="46.1" y="10.7" width="73.6" height="128.9"/></clipPath>
<g clip-path="url(#cpg)"><g filter="url(#bl)"><use href="#hm" transform="translate(46.1 10.7) scale(0.9946 0.9915)"/></g></g>
<rect x="46.1" y="10.7" width="73.6" height="128.9" fill="none" stroke="#505050" stroke-width="0.55"/>
<path d="M68.9 139.6v-1.3M68.9 10.7v1.3M92.45 139.6v-1.3M92.45 10.7v1.3M115.7 139.6v-1.3M115.7 10.7v1.3M46.1 40.1h1.3M119.7 40.1h-1.3M46.1 67.8h1.3M119.7 67.8h-1.3M46.1 95.8h1.3M119.7 95.8h-1.3M46.1 124h1.3M119.7 124h-1.3" stroke="#262626" stroke-width="0.6" fill="none"/>
<text transform="translate(68.9 155.8)" text-anchor="middle" class="t">50</text>
<text transform="translate(92.45 155.8)" text-anchor="middle" class="t">100</text>
<text transform="translate(115.7 155.8)" text-anchor="middle" class="t">150</text>
<text transform="translate(41 43.8)" text-anchor="end" class="t">100</text>
<text transform="translate(41 71.5)" text-anchor="end" class="t">200</text>
<text transform="translate(41 99.5)" text-anchor="end" class="t">300</text>
<text transform="translate(41 127.7)" text-anchor="end" class="t">400</text>
<rect x="134.7" y="11.4" width="12.1" height="128.4" fill="url(#pg)" stroke="#505050" stroke-width="0.55"/>
<path d="M146.8 116.5h-1.3M146.8 92.5h-1.3M146.8 68h-1.3M146.8 44.9h-1.3M146.8 20.4h-1.3" stroke="#262626" stroke-width="0.6" fill="none"/>
<text transform="translate(150.6 143.8)" class="t">0</text>
<text transform="translate(150.6 120.2)" class="t">5</text>
<text transform="translate(150.6 96.2)" class="t">10</text>
<text transform="translate(150.6 71.7)" class="t">15</text>
<text transform="translate(150.6 48.6)" class="t">20</text>
<text transform="translate(150.6 24.1)" class="t">25</text>
<text transform="translate(82 171)" text-anchor="middle" class="l">Range</text>
<text transform="translate(16.6 76) rotate(-90)" text-anchor="middle" class="l">Azimuth</text>
<text x="94.9" y="193" text-anchor="middle" class="c">(<tspan class="b">g</tspan>)</text>
<clipPath id="cph"><rect x="240.9" y="7.5" width="72.9" height="132.1"/></clipPath>
<g clip-path="url(#cph)"><g filter="url(#bl)"><use href="#hm" transform="translate(240.9 7.5) scale(0.9851 1.0162)"/></g></g>
<rect x="240.9" y="7.5" width="72.9" height="132.1" fill="none" stroke="#505050" stroke-width="0.55"/>
<path d="M263.4 139.6v-1.3M263.4 7.5v1.3M287.25 139.6v-1.3M287.25 7.5v1.3M310.3 139.6v-1.3M310.3 7.5v1.3M240.9 37.6h1.3M313.8 37.6h-1.3M240.9 66.1h1.3M313.8 66.1h-1.3M240.9 95.1h1.3M313.8 95.1h-1.3M240.9 123.7h1.3M313.8 123.7h-1.3" stroke="#262626" stroke-width="0.6" fill="none"/>
<text transform="translate(263.4 156.4) scale(0.9 1.04)" text-anchor="middle" class="t">50</text>
<text transform="translate(287.25 156.4) scale(0.9 1.04)" text-anchor="middle" class="t">100</text>
<text transform="translate(310.3 156.4) scale(0.9 1.04)" text-anchor="middle" class="t">150</text>
<text transform="translate(236.3 41.45) scale(0.9 1.04)" text-anchor="end" class="t">100</text>
<text transform="translate(236.3 69.95) scale(0.9 1.04)" text-anchor="end" class="t">200</text>
<text transform="translate(236.3 98.95) scale(0.9 1.04)" text-anchor="end" class="t">300</text>
<text transform="translate(236.3 127.55) scale(0.9 1.04)" text-anchor="end" class="t">400</text>
<rect x="326.3" y="7.4" width="10.7" height="131.7" fill="url(#pg)" stroke="#505050" stroke-width="0.55"/>
<path d="M337 98.7h-1.3M337 57.8h-1.3M337 16.9h-1.3" stroke="#262626" stroke-width="0.6" fill="none"/>
<text transform="translate(340.8 143.45) scale(0.9 1.04)" class="t">0</text>
<text transform="translate(340.8 102.55) scale(0.9 1.04)" class="t">5</text>
<text transform="translate(340.8 61.65) scale(0.9 1.04)" class="t">10</text>
<text transform="translate(340.8 20.75) scale(0.9 1.04)" class="t">15</text>
<text transform="translate(276.9 173.7) scale(0.9 1.04)" text-anchor="middle" class="l">Range</text>
<text transform="translate(213.6 73.75) scale(0.9 1.04) rotate(-90)" text-anchor="middle" class="l">Azimuth</text>
<text x="289" y="192.5" text-anchor="middle" class="c">(<tspan class="b">h</tspan>)</text>
<clipPath id="cpi"><rect x="430.2" y="9.4" width="75.6" height="132.1"/></clipPath>
<g clip-path="url(#cpi)"><g filter="url(#bl)"><use href="#hm" transform="translate(430.2 9.4) scale(1.0216 1.0162)"/></g></g>
<rect x="430.2" y="9.4" width="75.6" height="132.1" fill="none" stroke="#505050" stroke-width="0.55"/>
<path d="M453.6 141.5v-1.3M453.6 9.4v1.3M478 141.5v-1.3M478 9.4v1.3M502.2 141.5v-1.3M502.2 9.4v1.3M430.2 38.9h1.3M505.8 38.9h-1.3M430.2 67.6h1.3M505.8 67.6h-1.3M430.2 96h1.3M505.8 96h-1.3M430.2 124.6h1.3M505.8 124.6h-1.3" stroke="#262626" stroke-width="0.6" fill="none"/>
<text transform="translate(453.6 156.9) scale(0.89 1.02)" text-anchor="middle" class="t">50</text>
<text transform="translate(478 156.9) scale(0.89 1.02)" text-anchor="middle" class="t">100</text>
<text transform="translate(502.2 156.9) scale(0.89 1.02)" text-anchor="middle" class="t">150</text>
<text transform="translate(425.2 42.67) scale(0.89 1.02)" text-anchor="end" class="t">100</text>
<text transform="translate(425.2 71.37) scale(0.89 1.02)" text-anchor="end" class="t">200</text>
<text transform="translate(425.2 99.77) scale(0.89 1.02)" text-anchor="end" class="t">300</text>
<text transform="translate(425.2 128.37) scale(0.89 1.02)" text-anchor="end" class="t">400</text>
<rect x="518.6" y="9.3" width="12" height="132" fill="url(#pg)" stroke="#505050" stroke-width="0.55"/>
<path d="M530.6 117.9h-1.3M530.6 93.5h-1.3M530.6 69.1h-1.3M530.6 44.7h-1.3M530.6 20.3h-1.3" stroke="#262626" stroke-width="0.6" fill="none"/>
<text transform="translate(534.1 146.07) scale(0.89 1.02)" class="t">0</text>
<text transform="translate(534.1 121.67) scale(0.89 1.02)" class="t">5</text>
<text transform="translate(534.1 97.27) scale(0.89 1.02)" class="t">10</text>
<text transform="translate(534.1 72.87) scale(0.89 1.02)" class="t">15</text>
<text transform="translate(534.1 48.47) scale(0.89 1.02)" class="t">20</text>
<text transform="translate(534.1 24.07) scale(0.89 1.02)" class="t">25</text>
<text transform="translate(467.65 172.5) scale(0.89 1.02)" text-anchor="middle" class="l">Range</text>
<text transform="translate(403.6 76.4) scale(0.89 1.02) rotate(-90)" text-anchor="middle" class="l">Azimuth</text>
<text x="479.7" y="193" text-anchor="middle" class="c">(<tspan class="b">i</tspan>)</text>
<clipPath id="cpj"><rect x="46.9" y="210.3" width="73.5" height="131.3"/></clipPath>
<g clip-path="url(#cpj)"><g filter="url(#bl)"><use href="#hm" transform="translate(46.9 210.3) scale(0.9932 1.0100)"/></g></g>
<rect x="46.9" y="210.3" width="73.5" height="131.3" fill="none" stroke="#505050" stroke-width="0.55"/>
<path d="M69.9 341.6v-1.3M69.9 210.3v1.3M93.8 341.6v-1.3M93.8 210.3v1.3M117 341.6v-1.3M117 210.3v1.3M46.9 239.6h1.3M120.4 239.6h-1.3M46.9 268.5h1.3M120.4 268.5h-1.3M46.9 297h1.3M120.4 297h-1.3M46.9 326h1.3M120.4 326h-1.3" stroke="#262626" stroke-width="0.6" fill="none"/>
<text transform="translate(69.9 357) scale(0.86 1)" text-anchor="middle" class="t">50</text>
<text transform="translate(93.8 357) scale(0.86 1)" text-anchor="middle" class="t">100</text>
<text transform="translate(117 357) scale(0.86 1)" text-anchor="middle" class="t">150</text>
<text transform="translate(42.5 243.3) scale(0.86 1)" text-anchor="end" class="t">100</text>
<text transform="translate(42.5 272.2) scale(0.86 1)" text-anchor="end" class="t">200</text>
<text transform="translate(42.5 300.7) scale(0.86 1)" text-anchor="end" class="t">300</text>
<text transform="translate(42.5 329.7) scale(0.86 1)" text-anchor="end" class="t">400</text>
<rect x="133.2" y="210.3" width="10.8" height="130.3" fill="url(#pg)" stroke="#505050" stroke-width="0.55"/>
<path d="M144 300.6h-1.3M144 259.9h-1.3M144 219.2h-1.3" stroke="#262626" stroke-width="0.6" fill="none"/>
<text transform="translate(148 345) scale(0.86 1)" class="t">0</text>
<text transform="translate(148 304.3) scale(0.86 1)" class="t">5</text>
<text transform="translate(148 263.6) scale(0.86 1)" class="t">10</text>
<text transform="translate(148 222.9) scale(0.86 1)" class="t">15</text>
<text transform="translate(83 374) scale(0.86 1)" text-anchor="middle" class="l">Range</text>
<text transform="translate(21.2 276.5) scale(0.86 1) rotate(-90)" text-anchor="middle" class="l">Azimuth</text>
<text x="95.1" y="391.6" text-anchor="middle" class="c">(<tspan style="stroke:#000;stroke-width:0.45px">j</tspan>)</text>
</svg>
</body></html>
